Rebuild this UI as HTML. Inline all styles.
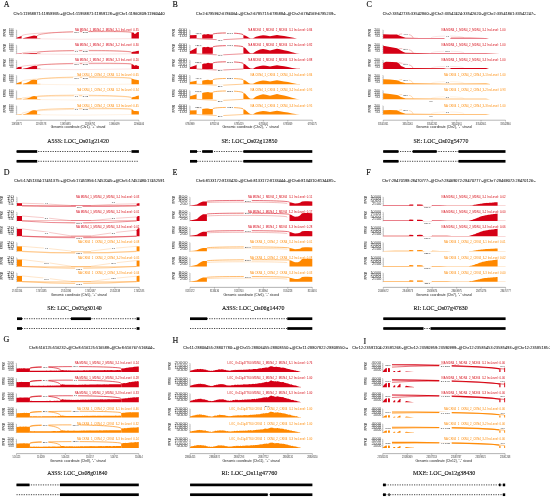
<!DOCTYPE html><html><head><meta charset="utf-8"><style>html,body{margin:0;padding:0;background:#fff;}svg{display:block}</style></head><body>
<svg width="550" height="498" viewBox="0 0 550 498">
<defs><filter id="bl" filterUnits="userSpaceOnUse" x="0" y="0" width="550" height="498"><feGaussianBlur stdDeviation="0.35"/></filter></defs>
<rect width="550" height="498" fill="#fff"/>
<g filter="url(#bl)">
<text x="3.8" y="6.9" font-size="8" fill="#111" text-anchor="start" font-family="'Liberation Serif', 'Times New Roman', serif" stroke="#111" stroke-width="0.15">A</text>
<text x="13.6" y="14.9" font-size="3.7" fill="#222" text-anchor="start" font-family="'Liberation Sans', Arial, sans-serif" textLength="150.9" lengthAdjust="spacing" stroke="#222" stroke-width="0.08">Chr1:11958871:11958935:+@Chr1:11958871:11959128:+@Chr1:11960309:11960440</text>
<line x1="16.6" y1="30" x2="16.6" y2="38.6" stroke="#555" stroke-width="0.35"/>
<line x1="15.8" y1="38.6" x2="16.6" y2="38.6" stroke="#777" stroke-width="0.3"/>
<line x1="15.8" y1="36.45" x2="16.6" y2="36.45" stroke="#777" stroke-width="0.3"/>
<line x1="15.8" y1="34.3" x2="16.6" y2="34.3" stroke="#777" stroke-width="0.3"/>
<line x1="15.8" y1="32.15" x2="16.6" y2="32.15" stroke="#777" stroke-width="0.3"/>
<line x1="15.8" y1="30" x2="16.6" y2="30" stroke="#777" stroke-width="0.3"/>
<text x="0" y="0" font-size="2.6" font-weight="bold" fill="#333" text-anchor="middle" font-family="'Liberation Sans', Arial, sans-serif" transform="translate(6,32.7) rotate(-90)" textLength="7.6" lengthAdjust="spacingAndGlyphs">RPKM</text>
<text x="13.6" y="37.3" font-size="2.8" fill="#444" text-anchor="end" font-family="'Liberation Sans', Arial, sans-serif" textLength="3.91" lengthAdjust="spacingAndGlyphs">2000</text>
<text x="13.6" y="35.2" font-size="2.8" fill="#444" text-anchor="end" font-family="'Liberation Sans', Arial, sans-serif" textLength="4.6" lengthAdjust="spacingAndGlyphs">4000</text>
<text x="13.6" y="33.1" font-size="2.8" fill="#444" text-anchor="end" font-family="'Liberation Sans', Arial, sans-serif" textLength="4.6" lengthAdjust="spacingAndGlyphs">6000</text>
<text x="13.6" y="31" font-size="2.8" fill="#444" text-anchor="end" font-family="'Liberation Sans', Arial, sans-serif" textLength="4.6" lengthAdjust="spacingAndGlyphs">8000</text>
<path d="M16.6,38.6 L16.6,37.8 L21.6,36 L21.6,38.6 Z" fill="#D50012"/>
<path d="M23,38.6 L23,38.2 L26,37.6 L29,36.8 L32,36 L34,35.5 L35.5,35.7 L37.1,36.1 L37.1,38.6 Z" fill="#D50012"/>
<path d="M37.1,38.6 L37.1,38.35 L40.5,38.35 L40.5,38.6 Z" fill="#D50012"/>
<path d="M131.5,38.6 L131.5,32.4 L133.5,32.6 L134.5,34 L136,33.4 L137,32.2 L138.9,32 L138.9,38.6 Z" fill="#D50012"/>
<path d="M21.6,36 C21.6,31.2 131.5,31.2 131.5,32.4" fill="none" stroke="#D50012" stroke-width="0.4" stroke-opacity="0.5"/>
<path d="M37.1,36.1 C37.1,30.5 131.5,30.5 131.5,32.4" fill="none" stroke="#D50012" stroke-width="0.6" stroke-opacity="0.6"/>
<path d="M21.6,38.6 Q76.55,40 131.5,38.6" fill="none" stroke="#D50012" stroke-width="0.4" stroke-opacity="0.28"/>
<rect x="73.2" y="31" width="6.6" height="2.4" fill="#fff"/>
<text x="76.5" y="33.05" font-size="2.4" fill="#222" text-anchor="middle" font-family="'Liberation Sans', Arial, sans-serif">27.0</text>
<rect x="82.2" y="31" width="6.6" height="2.4" fill="#fff"/>
<text x="85.5" y="33.05" font-size="2.4" fill="#222" text-anchor="middle" font-family="'Liberation Sans', Arial, sans-serif">3017</text>
<text x="138.9" y="30.7" font-size="2.75" fill="#D50012" text-anchor="end" font-family="'Liberation Sans', Arial, sans-serif" textLength="63.9" lengthAdjust="spacing">NA MDN4_1_MDN4_2_MDN4_3-1 IncLevel: 0.35</text>
<line x1="16.6" y1="45.18" x2="16.6" y2="53.78" stroke="#555" stroke-width="0.35"/>
<line x1="15.8" y1="53.78" x2="16.6" y2="53.78" stroke="#777" stroke-width="0.3"/>
<line x1="15.8" y1="51.63" x2="16.6" y2="51.63" stroke="#777" stroke-width="0.3"/>
<line x1="15.8" y1="49.48" x2="16.6" y2="49.48" stroke="#777" stroke-width="0.3"/>
<line x1="15.8" y1="47.33" x2="16.6" y2="47.33" stroke="#777" stroke-width="0.3"/>
<line x1="15.8" y1="45.18" x2="16.6" y2="45.18" stroke="#777" stroke-width="0.3"/>
<text x="0" y="0" font-size="2.6" font-weight="bold" fill="#333" text-anchor="middle" font-family="'Liberation Sans', Arial, sans-serif" transform="translate(6,47.88) rotate(-90)" textLength="7.6" lengthAdjust="spacingAndGlyphs">RPKM</text>
<text x="13.6" y="52.48" font-size="2.8" fill="#444" text-anchor="end" font-family="'Liberation Sans', Arial, sans-serif" textLength="3.91" lengthAdjust="spacingAndGlyphs">2000</text>
<text x="13.6" y="50.38" font-size="2.8" fill="#444" text-anchor="end" font-family="'Liberation Sans', Arial, sans-serif" textLength="4.6" lengthAdjust="spacingAndGlyphs">4000</text>
<text x="13.6" y="48.28" font-size="2.8" fill="#444" text-anchor="end" font-family="'Liberation Sans', Arial, sans-serif" textLength="4.6" lengthAdjust="spacingAndGlyphs">6000</text>
<text x="13.6" y="46.18" font-size="2.8" fill="#444" text-anchor="end" font-family="'Liberation Sans', Arial, sans-serif" textLength="4.6" lengthAdjust="spacingAndGlyphs">8000</text>
<path d="M16.6,53.78 L16.6,53.38 L21.6,53.28 L21.6,53.78 Z" fill="#D50012"/>
<path d="M23,53.78 L23,53.48 L28,53.28 L31,52.98 L37.1,52.88 L37.1,53.78 Z" fill="#D50012"/>
<path d="M37.1,53.78 L37.1,53.53 L40.5,53.53 L40.5,53.78 Z" fill="#D50012"/>
<path d="M131.5,53.78 L131.5,52.28 L133,51.78 L135,51.48 L137,50.98 L138.9,50.78 L138.9,53.78 Z" fill="#D50012"/>
<path d="M21.6,53.28 C21.6,50.38 131.5,50.38 131.5,52.28" fill="none" stroke="#D50012" stroke-width="0.4" stroke-opacity="0.5"/>
<path d="M37.1,52.88 C37.1,49.68 131.5,49.68 131.5,52.28" fill="none" stroke="#D50012" stroke-width="0.6" stroke-opacity="0.6"/>
<path d="M21.6,53.78 Q76.55,55.18 131.5,53.78" fill="none" stroke="#D50012" stroke-width="0.4" stroke-opacity="0.28"/>
<rect x="73.92" y="50.18" width="5.15" height="2.4" fill="#fff"/>
<text x="76.5" y="52.23" font-size="2.4" fill="#222" text-anchor="middle" font-family="'Liberation Sans', Arial, sans-serif">8.0</text>
<rect x="82.2" y="50.18" width="6.6" height="2.4" fill="#fff"/>
<text x="85.5" y="52.23" font-size="2.4" fill="#222" text-anchor="middle" font-family="'Liberation Sans', Arial, sans-serif">3024</text>
<text x="138.9" y="45.88" font-size="2.75" fill="#D50012" text-anchor="end" font-family="'Liberation Sans', Arial, sans-serif" textLength="63.9" lengthAdjust="spacing">NA MDN4_1_MDN4_2_MDN4_3-2 IncLevel: 0.30</text>
<line x1="16.6" y1="60.36" x2="16.6" y2="68.96" stroke="#555" stroke-width="0.35"/>
<line x1="15.8" y1="68.96" x2="16.6" y2="68.96" stroke="#777" stroke-width="0.3"/>
<line x1="15.8" y1="66.81" x2="16.6" y2="66.81" stroke="#777" stroke-width="0.3"/>
<line x1="15.8" y1="64.66" x2="16.6" y2="64.66" stroke="#777" stroke-width="0.3"/>
<line x1="15.8" y1="62.51" x2="16.6" y2="62.51" stroke="#777" stroke-width="0.3"/>
<line x1="15.8" y1="60.36" x2="16.6" y2="60.36" stroke="#777" stroke-width="0.3"/>
<text x="0" y="0" font-size="2.6" font-weight="bold" fill="#333" text-anchor="middle" font-family="'Liberation Sans', Arial, sans-serif" transform="translate(6,63.06) rotate(-90)" textLength="7.6" lengthAdjust="spacingAndGlyphs">RPKM</text>
<text x="13.6" y="67.66" font-size="2.8" fill="#444" text-anchor="end" font-family="'Liberation Sans', Arial, sans-serif" textLength="3.91" lengthAdjust="spacingAndGlyphs">2000</text>
<text x="13.6" y="65.56" font-size="2.8" fill="#444" text-anchor="end" font-family="'Liberation Sans', Arial, sans-serif" textLength="4.6" lengthAdjust="spacingAndGlyphs">4000</text>
<text x="13.6" y="63.46" font-size="2.8" fill="#444" text-anchor="end" font-family="'Liberation Sans', Arial, sans-serif" textLength="4.6" lengthAdjust="spacingAndGlyphs">6000</text>
<text x="13.6" y="61.36" font-size="2.8" fill="#444" text-anchor="end" font-family="'Liberation Sans', Arial, sans-serif" textLength="4.6" lengthAdjust="spacingAndGlyphs">8000</text>
<path d="M16.6,68.96 L16.6,67.96 L18.5,66.96 L21.6,66.76 L21.6,68.96 Z" fill="#D50012"/>
<path d="M23,68.96 L23,68.66 L27,67.96 L30,66.96 L33,65.96 L35,65.76 L37.1,65.96 L37.1,68.96 Z" fill="#D50012"/>
<path d="M37.1,68.96 L37.1,68.71 L40.5,68.71 L40.5,68.96 Z" fill="#D50012"/>
<path d="M131.5,68.96 L131.5,64.06 L133,64.46 L134.5,65.76 L136,64.96 L137.5,65.76 L138.9,65.96 L138.9,68.96 Z" fill="#D50012"/>
<path d="M21.6,66.76 C21.6,63.36 131.5,63.36 131.5,64.06" fill="none" stroke="#D50012" stroke-width="0.4" stroke-opacity="0.5"/>
<path d="M37.1,65.96 C37.1,62.66 131.5,62.66 131.5,64.06" fill="none" stroke="#D50012" stroke-width="0.6" stroke-opacity="0.6"/>
<path d="M21.6,68.96 Q76.55,70.36 131.5,68.96" fill="none" stroke="#D50012" stroke-width="0.4" stroke-opacity="0.28"/>
<rect x="73.2" y="63.16" width="6.6" height="2.4" fill="#fff"/>
<text x="76.5" y="65.21" font-size="2.4" fill="#222" text-anchor="middle" font-family="'Liberation Sans', Arial, sans-serif">15.0</text>
<rect x="82.2" y="63.16" width="6.6" height="2.4" fill="#fff"/>
<text x="85.5" y="65.21" font-size="2.4" fill="#222" text-anchor="middle" font-family="'Liberation Sans', Arial, sans-serif">3770</text>
<text x="138.9" y="61.06" font-size="2.75" fill="#D50012" text-anchor="end" font-family="'Liberation Sans', Arial, sans-serif" textLength="63.9" lengthAdjust="spacing">NA MDN4_1_MDN4_2_MDN4_3-3 IncLevel: 0.20</text>
<line x1="16.6" y1="75.54" x2="16.6" y2="84.14" stroke="#555" stroke-width="0.35"/>
<line x1="15.8" y1="84.14" x2="16.6" y2="84.14" stroke="#777" stroke-width="0.3"/>
<line x1="15.8" y1="81.99" x2="16.6" y2="81.99" stroke="#777" stroke-width="0.3"/>
<line x1="15.8" y1="79.84" x2="16.6" y2="79.84" stroke="#777" stroke-width="0.3"/>
<line x1="15.8" y1="77.69" x2="16.6" y2="77.69" stroke="#777" stroke-width="0.3"/>
<line x1="15.8" y1="75.54" x2="16.6" y2="75.54" stroke="#777" stroke-width="0.3"/>
<text x="0" y="0" font-size="2.6" font-weight="bold" fill="#333" text-anchor="middle" font-family="'Liberation Sans', Arial, sans-serif" transform="translate(6,78.24) rotate(-90)" textLength="7.6" lengthAdjust="spacingAndGlyphs">RPKM</text>
<text x="13.6" y="82.84" font-size="2.8" fill="#444" text-anchor="end" font-family="'Liberation Sans', Arial, sans-serif" textLength="3.91" lengthAdjust="spacingAndGlyphs">2000</text>
<text x="13.6" y="80.74" font-size="2.8" fill="#444" text-anchor="end" font-family="'Liberation Sans', Arial, sans-serif" textLength="4.6" lengthAdjust="spacingAndGlyphs">4000</text>
<text x="13.6" y="78.64" font-size="2.8" fill="#444" text-anchor="end" font-family="'Liberation Sans', Arial, sans-serif" textLength="4.6" lengthAdjust="spacingAndGlyphs">6000</text>
<text x="13.6" y="76.54" font-size="2.8" fill="#444" text-anchor="end" font-family="'Liberation Sans', Arial, sans-serif" textLength="4.6" lengthAdjust="spacingAndGlyphs">8000</text>
<path d="M16.6,84.14 L16.6,83.14 L21.6,81.54 L21.6,84.14 Z" fill="#FF8800"/>
<path d="M23,84.14 L23,83.74 L26,82.94 L29,81.64 L31,80.34 L33,79.84 L35,79.84 L37.1,79.94 L37.1,84.14 Z" fill="#FF8800"/>
<path d="M37.1,84.14 L37.1,83.89 L40.5,83.89 L40.5,84.14 Z" fill="#FF8800"/>
<path d="M131.5,84.14 L131.5,78.54 L133,78.94 L134.5,79.54 L136,79.84 L138.9,80.34 L138.9,84.14 Z" fill="#FF8800"/>
<path d="M21.6,81.54 C21.6,76.94 131.5,76.94 131.5,78.54" fill="none" stroke="#FF8800" stroke-width="0.4" stroke-opacity="0.5"/>
<path d="M37.1,79.94 C37.1,76.24 131.5,76.24 131.5,78.54" fill="none" stroke="#FF8800" stroke-width="0.6" stroke-opacity="0.6"/>
<path d="M21.6,84.14 Q76.55,85.54 131.5,84.14" fill="none" stroke="#FF8800" stroke-width="0.4" stroke-opacity="0.28"/>
<rect x="73.2" y="76.74" width="6.6" height="2.4" fill="#fff"/>
<text x="76.5" y="78.79" font-size="2.4" fill="#222" text-anchor="middle" font-family="'Liberation Sans', Arial, sans-serif">15.0</text>
<rect x="82.2" y="76.74" width="6.6" height="2.4" fill="#fff"/>
<text x="85.5" y="78.79" font-size="2.4" fill="#222" text-anchor="middle" font-family="'Liberation Sans', Arial, sans-serif">3770</text>
<text x="138.9" y="76.24" font-size="2.75" fill="#FF8800" text-anchor="end" font-family="'Liberation Sans', Arial, sans-serif" textLength="61.7" lengthAdjust="spacing">NA CKN4_1_CKN4_2_CKN4_3-1 IncLevel: 0.65</text>
<line x1="16.6" y1="90.72" x2="16.6" y2="99.32" stroke="#555" stroke-width="0.35"/>
<line x1="15.8" y1="99.32" x2="16.6" y2="99.32" stroke="#777" stroke-width="0.3"/>
<line x1="15.8" y1="97.17" x2="16.6" y2="97.17" stroke="#777" stroke-width="0.3"/>
<line x1="15.8" y1="95.02" x2="16.6" y2="95.02" stroke="#777" stroke-width="0.3"/>
<line x1="15.8" y1="92.87" x2="16.6" y2="92.87" stroke="#777" stroke-width="0.3"/>
<line x1="15.8" y1="90.72" x2="16.6" y2="90.72" stroke="#777" stroke-width="0.3"/>
<text x="0" y="0" font-size="2.6" font-weight="bold" fill="#333" text-anchor="middle" font-family="'Liberation Sans', Arial, sans-serif" transform="translate(6,93.42) rotate(-90)" textLength="7.6" lengthAdjust="spacingAndGlyphs">RPKM</text>
<text x="13.6" y="98.02" font-size="2.8" fill="#444" text-anchor="end" font-family="'Liberation Sans', Arial, sans-serif" textLength="3.91" lengthAdjust="spacingAndGlyphs">2000</text>
<text x="13.6" y="95.92" font-size="2.8" fill="#444" text-anchor="end" font-family="'Liberation Sans', Arial, sans-serif" textLength="4.6" lengthAdjust="spacingAndGlyphs">4000</text>
<text x="13.6" y="93.82" font-size="2.8" fill="#444" text-anchor="end" font-family="'Liberation Sans', Arial, sans-serif" textLength="4.6" lengthAdjust="spacingAndGlyphs">6000</text>
<text x="13.6" y="91.72" font-size="2.8" fill="#444" text-anchor="end" font-family="'Liberation Sans', Arial, sans-serif" textLength="4.6" lengthAdjust="spacingAndGlyphs">8000</text>
<path d="M16.6,99.32 L16.6,98.72 L21.6,98.42 L21.6,99.32 Z" fill="#FF8800"/>
<path d="M23,99.32 L23,99.02 L27,98.52 L30,97.52 L32,96.52 L34,96.12 L37.1,96.52 L37.1,99.32 Z" fill="#FF8800"/>
<path d="M37.1,99.32 L37.1,99.07 L40.5,99.07 L40.5,99.32 Z" fill="#FF8800"/>
<path d="M131.5,99.32 L131.5,97.72 L133,97.12 L135,96.72 L136.5,95.92 L138.9,95.52 L138.9,99.32 Z" fill="#FF8800"/>
<path d="M21.6,98.42 C21.6,95.32 131.5,95.32 131.5,97.72" fill="none" stroke="#FF8800" stroke-width="0.4" stroke-opacity="0.5"/>
<path d="M37.1,96.52 C37.1,94.62 131.5,94.62 131.5,97.72" fill="none" stroke="#FF8800" stroke-width="0.6" stroke-opacity="0.6"/>
<path d="M21.6,99.32 Q76.55,100.72 131.5,99.32" fill="none" stroke="#FF8800" stroke-width="0.4" stroke-opacity="0.28"/>
<rect x="73.92" y="95.12" width="5.15" height="2.4" fill="#fff"/>
<text x="76.5" y="97.17" font-size="2.4" fill="#222" text-anchor="middle" font-family="'Liberation Sans', Arial, sans-serif">7.0</text>
<rect x="82.2" y="95.12" width="6.6" height="2.4" fill="#fff"/>
<text x="85.5" y="97.17" font-size="2.4" fill="#222" text-anchor="middle" font-family="'Liberation Sans', Arial, sans-serif">5443</text>
<text x="138.9" y="91.42" font-size="2.75" fill="#FF8800" text-anchor="end" font-family="'Liberation Sans', Arial, sans-serif" textLength="61.7" lengthAdjust="spacing">NA CKN4_1_CKN4_2_CKN4_3-2 IncLevel: 0.34</text>
<line x1="16.6" y1="105.9" x2="16.6" y2="114.5" stroke="#555" stroke-width="0.35"/>
<line x1="15.8" y1="114.5" x2="16.6" y2="114.5" stroke="#777" stroke-width="0.3"/>
<line x1="15.8" y1="112.35" x2="16.6" y2="112.35" stroke="#777" stroke-width="0.3"/>
<line x1="15.8" y1="110.2" x2="16.6" y2="110.2" stroke="#777" stroke-width="0.3"/>
<line x1="15.8" y1="108.05" x2="16.6" y2="108.05" stroke="#777" stroke-width="0.3"/>
<line x1="15.8" y1="105.9" x2="16.6" y2="105.9" stroke="#777" stroke-width="0.3"/>
<text x="0" y="0" font-size="2.6" font-weight="bold" fill="#333" text-anchor="middle" font-family="'Liberation Sans', Arial, sans-serif" transform="translate(6,108.6) rotate(-90)" textLength="7.6" lengthAdjust="spacingAndGlyphs">RPKM</text>
<text x="13.6" y="113.2" font-size="2.8" fill="#444" text-anchor="end" font-family="'Liberation Sans', Arial, sans-serif" textLength="3.91" lengthAdjust="spacingAndGlyphs">2000</text>
<text x="13.6" y="111.1" font-size="2.8" fill="#444" text-anchor="end" font-family="'Liberation Sans', Arial, sans-serif" textLength="4.6" lengthAdjust="spacingAndGlyphs">4000</text>
<text x="13.6" y="109" font-size="2.8" fill="#444" text-anchor="end" font-family="'Liberation Sans', Arial, sans-serif" textLength="4.6" lengthAdjust="spacingAndGlyphs">6000</text>
<text x="13.6" y="106.9" font-size="2.8" fill="#444" text-anchor="end" font-family="'Liberation Sans', Arial, sans-serif" textLength="4.6" lengthAdjust="spacingAndGlyphs">8000</text>
<path d="M16.6,114.5 L16.6,114.2 L21.6,113.9 L21.6,114.5 Z" fill="#FF8800"/>
<path d="M23,114.5 L23,114.2 L26,113.7 L29,112.5 L31,111 L33,110.2 L35,110.3 L37.1,110.7 L37.1,114.5 Z" fill="#FF8800"/>
<path d="M37.1,114.5 L37.1,114.25 L40.5,114.25 L40.5,114.5 Z" fill="#FF8800"/>
<path d="M131.5,114.5 L131.5,109.3 L132.5,109.5 L134,110.9 L136,111.1 L138.9,111.3 L138.9,114.5 Z" fill="#FF8800"/>
<path d="M21.6,113.9 C21.6,108.5 131.5,108.5 131.5,109.3" fill="none" stroke="#FF8800" stroke-width="0.4" stroke-opacity="0.5"/>
<path d="M37.1,110.7 C37.1,107.8 131.5,107.8 131.5,109.3" fill="none" stroke="#FF8800" stroke-width="0.6" stroke-opacity="0.6"/>
<path d="M21.6,114.5 Q76.55,115.9 131.5,114.5" fill="none" stroke="#FF8800" stroke-width="0.4" stroke-opacity="0.28"/>
<rect x="73.92" y="108.3" width="5.15" height="2.4" fill="#fff"/>
<text x="76.5" y="110.35" font-size="2.4" fill="#222" text-anchor="middle" font-family="'Liberation Sans', Arial, sans-serif">8.0</text>
<rect x="82.2" y="108.3" width="6.6" height="2.4" fill="#fff"/>
<text x="85.5" y="110.35" font-size="2.4" fill="#222" text-anchor="middle" font-family="'Liberation Sans', Arial, sans-serif">3770</text>
<text x="138.9" y="106.6" font-size="2.75" fill="#FF8800" text-anchor="end" font-family="'Liberation Sans', Arial, sans-serif" textLength="61.7" lengthAdjust="spacing">NA CKN4_1_CKN4_2_CKN4_3-3 IncLevel: 0.45</text>
<line x1="16.6" y1="120.2" x2="138.9" y2="120.2" stroke="#444" stroke-width="0.4"/>
<line x1="16.6" y1="120.2" x2="16.6" y2="121.5" stroke="#444" stroke-width="0.35"/>
<text x="16.6" y="124.5" font-size="2.6" fill="#333" text-anchor="middle" font-family="'Liberation Sans', Arial, sans-serif" textLength="10.4" lengthAdjust="spacingAndGlyphs">11958871</text>
<line x1="41.06" y1="120.2" x2="41.06" y2="121.5" stroke="#444" stroke-width="0.35"/>
<text x="41.06" y="124.5" font-size="2.6" fill="#333" text-anchor="middle" font-family="'Liberation Sans', Arial, sans-serif" textLength="10.4" lengthAdjust="spacingAndGlyphs">11959178</text>
<line x1="65.52" y1="120.2" x2="65.52" y2="121.5" stroke="#444" stroke-width="0.35"/>
<text x="65.52" y="124.5" font-size="2.6" fill="#333" text-anchor="middle" font-family="'Liberation Sans', Arial, sans-serif" textLength="10.4" lengthAdjust="spacingAndGlyphs">11959485</text>
<line x1="89.98" y1="120.2" x2="89.98" y2="121.5" stroke="#444" stroke-width="0.35"/>
<text x="89.98" y="124.5" font-size="2.6" fill="#333" text-anchor="middle" font-family="'Liberation Sans', Arial, sans-serif" textLength="10.4" lengthAdjust="spacingAndGlyphs">11959792</text>
<line x1="114.44" y1="120.2" x2="114.44" y2="121.5" stroke="#444" stroke-width="0.35"/>
<text x="114.44" y="124.5" font-size="2.6" fill="#333" text-anchor="middle" font-family="'Liberation Sans', Arial, sans-serif" textLength="10.4" lengthAdjust="spacingAndGlyphs">11960099</text>
<line x1="138.9" y1="120.2" x2="138.9" y2="121.5" stroke="#444" stroke-width="0.35"/>
<text x="138.9" y="124.5" font-size="2.6" fill="#333" text-anchor="middle" font-family="'Liberation Sans', Arial, sans-serif" textLength="10.4" lengthAdjust="spacingAndGlyphs">11960406</text>
<text x="50.7" y="128.3" font-size="3" fill="#222" text-anchor="start" font-family="'Liberation Sans', Arial, sans-serif" textLength="54.7" lengthAdjust="spacingAndGlyphs">Genomic coordinate (Chr1), &quot;+&quot; strand</text>
<text x="47.2" y="143" font-size="6.1" fill="#111" text-anchor="start" font-family="'Liberation Serif', 'Times New Roman', serif" textLength="61.7" lengthAdjust="spacingAndGlyphs" stroke="#000" stroke-width="0.1">A5SS: LOC_Os01g21420</text>
<line x1="16.6" y1="151.5" x2="138.9" y2="151.5" stroke="#333" stroke-width="0.9" stroke-dasharray="1.2 1.2"/>
<rect x="16.6" y="150.15" width="20.6" height="2.7" fill="#000"/>
<rect x="131.5" y="150.15" width="7.4" height="2.7" fill="#000"/>
<line x1="16.6" y1="161.3" x2="138.9" y2="161.3" stroke="#333" stroke-width="0.9" stroke-dasharray="1.2 1.2"/>
<rect x="16.6" y="159.95" width="20.6" height="2.7" fill="#000"/>
<text x="172.6" y="6.5" font-size="8" fill="#111" text-anchor="start" font-family="'Liberation Serif', 'Times New Roman', serif" stroke="#111" stroke-width="0.15">B</text>
<text x="196.1" y="14.9" font-size="3.7" fill="#222" text-anchor="start" font-family="'Liberation Sans', Arial, sans-serif" textLength="139.4" lengthAdjust="spacing" stroke="#222" stroke-width="0.08">Chr2:6785962:6786064:-@Chr2:6785715:6785884:-@Chr2:6784169:6785239:-</text>
<line x1="190" y1="30" x2="190" y2="38.6" stroke="#555" stroke-width="0.35"/>
<line x1="189.2" y1="38.6" x2="190" y2="38.6" stroke="#777" stroke-width="0.3"/>
<line x1="189.2" y1="36.45" x2="190" y2="36.45" stroke="#777" stroke-width="0.3"/>
<line x1="189.2" y1="34.3" x2="190" y2="34.3" stroke="#777" stroke-width="0.3"/>
<line x1="189.2" y1="32.15" x2="190" y2="32.15" stroke="#777" stroke-width="0.3"/>
<line x1="189.2" y1="30" x2="190" y2="30" stroke="#777" stroke-width="0.3"/>
<text x="0" y="0" font-size="2.6" font-weight="bold" fill="#333" text-anchor="middle" font-family="'Liberation Sans', Arial, sans-serif" transform="translate(174.8,32.7) rotate(-90)" textLength="7.6" lengthAdjust="spacingAndGlyphs">RPKM</text>
<text x="187" y="37.3" font-size="2.8" fill="#444" text-anchor="end" font-family="'Liberation Sans', Arial, sans-serif" textLength="7.65" lengthAdjust="spacingAndGlyphs">100</text>
<text x="187" y="35.2" font-size="2.8" fill="#444" text-anchor="end" font-family="'Liberation Sans', Arial, sans-serif" textLength="9" lengthAdjust="spacingAndGlyphs">200</text>
<text x="187" y="33.1" font-size="2.8" fill="#444" text-anchor="end" font-family="'Liberation Sans', Arial, sans-serif" textLength="9" lengthAdjust="spacingAndGlyphs">300</text>
<text x="187" y="31" font-size="2.8" fill="#444" text-anchor="end" font-family="'Liberation Sans', Arial, sans-serif" textLength="9" lengthAdjust="spacingAndGlyphs">400</text>
<path d="M190,38.6 L190,35.2 L196.6,35 L196.6,38.6 Z" fill="#D50012"/>
<path d="M202.2,38.6 L202.2,35.1 L204,34.2 L206,34.4 L208,34 L210,34.6 L212.8,34.4 L212.8,38.6 Z" fill="#D50012"/>
<path d="M243.4,38.6 L243.4,35.1 L245,35.4 L247,36.6 L249,37.8 L250.5,38.3 L253,38.3 L256,36.8 L260,35.7 L263,35.3 L266,35.6 L270,36.3 L274,35.6 L277,35.1 L280,35.5 L284,36.1 L288,36.7 L292,37.6 L297,38.4 L300,38.5 L300,38.6 Z" fill="#D50012"/>
<path d="M196.6,35 C196.6,33.5 202.2,33.5 202.2,35.1" fill="none" stroke="#D50012" stroke-width="0.3" stroke-opacity="0.4"/>
<path d="M212.8,34.4 C212.8,32.4 243.4,32.4 243.4,35.1" fill="none" stroke="#D50012" stroke-width="0.7" stroke-opacity="0.9"/>
<path d="M196.6,38.6 Q220,41 243.4,38.6" fill="none" stroke="#D50012" stroke-width="0.65" stroke-opacity="0.65"/>
<rect x="194.28" y="31.6" width="8.05" height="2.4" fill="#fff"/>
<text x="198.3" y="33.65" font-size="2.4" fill="#222" text-anchor="middle" font-family="'Liberation Sans', Arial, sans-serif">480.0</text>
<rect x="225.97" y="31.69" width="8.05" height="2.4" fill="#fff"/>
<text x="230" y="33.74" font-size="2.4" fill="#222" text-anchor="middle" font-family="'Liberation Sans', Arial, sans-serif">367.0</text>
<rect x="216.7" y="39" width="6.6" height="2.4" fill="#fff"/>
<text x="220" y="41.05" font-size="2.4" fill="#222" text-anchor="middle" font-family="'Liberation Sans', Arial, sans-serif">95.0</text>
<text x="312.3" y="30.7" font-size="2.75" fill="#D50012" text-anchor="end" font-family="'Liberation Sans', Arial, sans-serif" textLength="64" lengthAdjust="spacing">NA MDN4_1_MDN4_2_MDN4_3-1 IncLevel: 0.84</text>
<line x1="190" y1="45.18" x2="190" y2="53.78" stroke="#555" stroke-width="0.35"/>
<line x1="189.2" y1="53.78" x2="190" y2="53.78" stroke="#777" stroke-width="0.3"/>
<line x1="189.2" y1="51.63" x2="190" y2="51.63" stroke="#777" stroke-width="0.3"/>
<line x1="189.2" y1="49.48" x2="190" y2="49.48" stroke="#777" stroke-width="0.3"/>
<line x1="189.2" y1="47.33" x2="190" y2="47.33" stroke="#777" stroke-width="0.3"/>
<line x1="189.2" y1="45.18" x2="190" y2="45.18" stroke="#777" stroke-width="0.3"/>
<text x="0" y="0" font-size="2.6" font-weight="bold" fill="#333" text-anchor="middle" font-family="'Liberation Sans', Arial, sans-serif" transform="translate(174.8,47.88) rotate(-90)" textLength="7.6" lengthAdjust="spacingAndGlyphs">RPKM</text>
<text x="187" y="52.48" font-size="2.8" fill="#444" text-anchor="end" font-family="'Liberation Sans', Arial, sans-serif" textLength="7.65" lengthAdjust="spacingAndGlyphs">100</text>
<text x="187" y="50.38" font-size="2.8" fill="#444" text-anchor="end" font-family="'Liberation Sans', Arial, sans-serif" textLength="9" lengthAdjust="spacingAndGlyphs">200</text>
<text x="187" y="48.28" font-size="2.8" fill="#444" text-anchor="end" font-family="'Liberation Sans', Arial, sans-serif" textLength="9" lengthAdjust="spacingAndGlyphs">300</text>
<text x="187" y="46.18" font-size="2.8" fill="#444" text-anchor="end" font-family="'Liberation Sans', Arial, sans-serif" textLength="9" lengthAdjust="spacingAndGlyphs">400</text>
<path d="M190,53.78 L190,51.28 L196.6,47.68 L196.6,53.78 Z" fill="#D50012"/>
<path d="M202.2,53.78 L202.2,47.48 L204,46.98 L206,47.28 L208,46.68 L210,47.38 L212.8,47.18 L212.8,53.78 Z" fill="#D50012"/>
<path d="M243.4,53.78 L243.4,47.13 L245,47.7 L247,49.98 L249,52.26 L250.5,53.21 L253,53.34 L256,51.17 L260,49.58 L263,49 L266,49.43 L270,50.45 L274,49.43 L277,48.7 L280,49.29 L284,50.16 L288,51.02 L292,52.33 L297,53.49 L300,53.63 L300,53.78 Z" fill="#D50012"/>
<path d="M196.6,47.68 C196.6,45.98 202.2,45.98 202.2,47.48" fill="none" stroke="#D50012" stroke-width="0.3" stroke-opacity="0.4"/>
<path d="M212.8,47.18 C212.8,45.13 243.4,45.13 243.4,47.13" fill="none" stroke="#D50012" stroke-width="0.7" stroke-opacity="0.9"/>
<path d="M196.6,53.78 Q220,56.18 243.4,53.78" fill="none" stroke="#D50012" stroke-width="0.65" stroke-opacity="0.65"/>
<rect x="194.28" y="44.08" width="8.05" height="2.4" fill="#fff"/>
<text x="198.3" y="46.13" font-size="2.4" fill="#222" text-anchor="middle" font-family="'Liberation Sans', Arial, sans-serif">727.0</text>
<rect x="225.97" y="44.34" width="8.05" height="2.4" fill="#fff"/>
<text x="230" y="46.39" font-size="2.4" fill="#222" text-anchor="middle" font-family="'Liberation Sans', Arial, sans-serif">981.0</text>
<rect x="216.7" y="54.18" width="6.6" height="2.4" fill="#fff"/>
<text x="220" y="56.23" font-size="2.4" fill="#222" text-anchor="middle" font-family="'Liberation Sans', Arial, sans-serif">98.0</text>
<text x="312.3" y="45.88" font-size="2.75" fill="#D50012" text-anchor="end" font-family="'Liberation Sans', Arial, sans-serif" textLength="64" lengthAdjust="spacing">NA MDN4_1_MDN4_2_MDN4_3-2 IncLevel: 0.82</text>
<line x1="190" y1="60.36" x2="190" y2="68.96" stroke="#555" stroke-width="0.35"/>
<line x1="189.2" y1="68.96" x2="190" y2="68.96" stroke="#777" stroke-width="0.3"/>
<line x1="189.2" y1="66.81" x2="190" y2="66.81" stroke="#777" stroke-width="0.3"/>
<line x1="189.2" y1="64.66" x2="190" y2="64.66" stroke="#777" stroke-width="0.3"/>
<line x1="189.2" y1="62.51" x2="190" y2="62.51" stroke="#777" stroke-width="0.3"/>
<line x1="189.2" y1="60.36" x2="190" y2="60.36" stroke="#777" stroke-width="0.3"/>
<text x="0" y="0" font-size="2.6" font-weight="bold" fill="#333" text-anchor="middle" font-family="'Liberation Sans', Arial, sans-serif" transform="translate(174.8,63.06) rotate(-90)" textLength="7.6" lengthAdjust="spacingAndGlyphs">RPKM</text>
<text x="187" y="67.66" font-size="2.8" fill="#444" text-anchor="end" font-family="'Liberation Sans', Arial, sans-serif" textLength="7.65" lengthAdjust="spacingAndGlyphs">100</text>
<text x="187" y="65.56" font-size="2.8" fill="#444" text-anchor="end" font-family="'Liberation Sans', Arial, sans-serif" textLength="9" lengthAdjust="spacingAndGlyphs">200</text>
<text x="187" y="63.46" font-size="2.8" fill="#444" text-anchor="end" font-family="'Liberation Sans', Arial, sans-serif" textLength="9" lengthAdjust="spacingAndGlyphs">300</text>
<text x="187" y="61.36" font-size="2.8" fill="#444" text-anchor="end" font-family="'Liberation Sans', Arial, sans-serif" textLength="9" lengthAdjust="spacingAndGlyphs">400</text>
<path d="M190,68.96 L190,67.16 L196.6,64.96 L196.6,68.96 Z" fill="#D50012"/>
<path d="M202.2,68.96 L202.2,64.36 L204,63.46 L206,63.56 L208,62.76 L210,63.36 L212.8,63.26 L212.8,68.96 Z" fill="#D50012"/>
<path d="M243.4,68.96 L243.4,63.71 L245,64.16 L247,65.96 L249,67.76 L250.5,68.51 L253,68.65 L256,67.07 L260,65.92 L263,65.5 L266,65.81 L270,66.55 L274,65.81 L277,65.29 L280,65.71 L284,66.34 L288,66.97 L292,67.91 L297,68.75 L300,68.86 L300,68.96 Z" fill="#D50012"/>
<path d="M196.6,64.96 C196.6,62.86 202.2,62.86 202.2,64.36" fill="none" stroke="#D50012" stroke-width="0.3" stroke-opacity="0.4"/>
<path d="M212.8,63.26 C212.8,61.26 243.4,61.26 243.4,63.71" fill="none" stroke="#D50012" stroke-width="0.7" stroke-opacity="0.9"/>
<path d="M196.6,68.96 Q220,71.36 243.4,68.96" fill="none" stroke="#D50012" stroke-width="0.65" stroke-opacity="0.65"/>
<rect x="194.28" y="60.96" width="8.05" height="2.4" fill="#fff"/>
<text x="198.3" y="63.01" font-size="2.4" fill="#222" text-anchor="middle" font-family="'Liberation Sans', Arial, sans-serif">553.0</text>
<rect x="225.97" y="60.52" width="8.05" height="2.4" fill="#fff"/>
<text x="230" y="62.57" font-size="2.4" fill="#222" text-anchor="middle" font-family="'Liberation Sans', Arial, sans-serif">317.0</text>
<rect x="216.7" y="69.36" width="6.6" height="2.4" fill="#fff"/>
<text x="220" y="71.41" font-size="2.4" fill="#222" text-anchor="middle" font-family="'Liberation Sans', Arial, sans-serif">33.0</text>
<text x="312.3" y="61.06" font-size="2.75" fill="#D50012" text-anchor="end" font-family="'Liberation Sans', Arial, sans-serif" textLength="64" lengthAdjust="spacing">NA MDN4_1_MDN4_2_MDN4_3-3 IncLevel: 0.88</text>
<line x1="190" y1="75.54" x2="190" y2="84.14" stroke="#555" stroke-width="0.35"/>
<line x1="189.2" y1="84.14" x2="190" y2="84.14" stroke="#777" stroke-width="0.3"/>
<line x1="189.2" y1="81.99" x2="190" y2="81.99" stroke="#777" stroke-width="0.3"/>
<line x1="189.2" y1="79.84" x2="190" y2="79.84" stroke="#777" stroke-width="0.3"/>
<line x1="189.2" y1="77.69" x2="190" y2="77.69" stroke="#777" stroke-width="0.3"/>
<line x1="189.2" y1="75.54" x2="190" y2="75.54" stroke="#777" stroke-width="0.3"/>
<text x="0" y="0" font-size="2.6" font-weight="bold" fill="#333" text-anchor="middle" font-family="'Liberation Sans', Arial, sans-serif" transform="translate(174.8,78.24) rotate(-90)" textLength="7.6" lengthAdjust="spacingAndGlyphs">RPKM</text>
<text x="187" y="82.84" font-size="2.8" fill="#444" text-anchor="end" font-family="'Liberation Sans', Arial, sans-serif" textLength="7.65" lengthAdjust="spacingAndGlyphs">100</text>
<text x="187" y="80.74" font-size="2.8" fill="#444" text-anchor="end" font-family="'Liberation Sans', Arial, sans-serif" textLength="9" lengthAdjust="spacingAndGlyphs">200</text>
<text x="187" y="78.64" font-size="2.8" fill="#444" text-anchor="end" font-family="'Liberation Sans', Arial, sans-serif" textLength="9" lengthAdjust="spacingAndGlyphs">300</text>
<text x="187" y="76.54" font-size="2.8" fill="#444" text-anchor="end" font-family="'Liberation Sans', Arial, sans-serif" textLength="9" lengthAdjust="spacingAndGlyphs">400</text>
<path d="M190,84.14 L190,81.94 L196.6,80.74 L196.6,84.14 Z" fill="#FF8800"/>
<path d="M202.2,84.14 L202.2,80.64 L204,80.24 L206,80.04 L208,79.84 L210,80.14 L212.8,80.04 L212.8,84.14 Z" fill="#FF8800"/>
<path d="M243.4,84.14 L243.4,79.94 L245,80.3 L247,81.74 L249,83.18 L250.5,83.78 L253,83.81 L256,82.16 L260,80.95 L263,80.51 L266,80.84 L270,81.61 L274,80.84 L277,80.29 L280,80.73 L284,81.39 L288,82.05 L292,83.04 L297,83.92 L300,84.03 L300,84.14 Z" fill="#FF8800"/>
<path d="M196.6,80.74 C196.6,79.14 202.2,79.14 202.2,80.64" fill="none" stroke="#FF8800" stroke-width="0.3" stroke-opacity="0.4"/>
<path d="M212.8,80.04 C212.8,77.94 243.4,77.94 243.4,79.94" fill="none" stroke="#FF8800" stroke-width="0.7" stroke-opacity="0.9"/>
<path d="M196.6,84.14 Q220,86.54 243.4,84.14" fill="none" stroke="#FF8800" stroke-width="0.65" stroke-opacity="0.65"/>
<rect x="194.28" y="77.24" width="8.05" height="2.4" fill="#fff"/>
<text x="198.3" y="79.29" font-size="2.4" fill="#222" text-anchor="middle" font-family="'Liberation Sans', Arial, sans-serif">474.0</text>
<rect x="225.97" y="77.15" width="8.05" height="2.4" fill="#fff"/>
<text x="230" y="79.2" font-size="2.4" fill="#222" text-anchor="middle" font-family="'Liberation Sans', Arial, sans-serif">283.0</text>
<rect x="216.7" y="84.54" width="6.6" height="2.4" fill="#fff"/>
<text x="220" y="86.59" font-size="2.4" fill="#222" text-anchor="middle" font-family="'Liberation Sans', Arial, sans-serif">25.0</text>
<text x="312.3" y="76.24" font-size="2.75" fill="#FF8800" text-anchor="end" font-family="'Liberation Sans', Arial, sans-serif" textLength="61.8" lengthAdjust="spacing">NA CKN4_1_CKN4_2_CKN4_3-1 IncLevel: 0.84</text>
<line x1="190" y1="90.72" x2="190" y2="99.32" stroke="#555" stroke-width="0.35"/>
<line x1="189.2" y1="99.32" x2="190" y2="99.32" stroke="#777" stroke-width="0.3"/>
<line x1="189.2" y1="97.17" x2="190" y2="97.17" stroke="#777" stroke-width="0.3"/>
<line x1="189.2" y1="95.02" x2="190" y2="95.02" stroke="#777" stroke-width="0.3"/>
<line x1="189.2" y1="92.87" x2="190" y2="92.87" stroke="#777" stroke-width="0.3"/>
<line x1="189.2" y1="90.72" x2="190" y2="90.72" stroke="#777" stroke-width="0.3"/>
<text x="0" y="0" font-size="2.6" font-weight="bold" fill="#333" text-anchor="middle" font-family="'Liberation Sans', Arial, sans-serif" transform="translate(174.8,93.42) rotate(-90)" textLength="7.6" lengthAdjust="spacingAndGlyphs">RPKM</text>
<text x="187" y="98.02" font-size="2.8" fill="#444" text-anchor="end" font-family="'Liberation Sans', Arial, sans-serif" textLength="7.65" lengthAdjust="spacingAndGlyphs">100</text>
<text x="187" y="95.92" font-size="2.8" fill="#444" text-anchor="end" font-family="'Liberation Sans', Arial, sans-serif" textLength="9" lengthAdjust="spacingAndGlyphs">200</text>
<text x="187" y="93.82" font-size="2.8" fill="#444" text-anchor="end" font-family="'Liberation Sans', Arial, sans-serif" textLength="9" lengthAdjust="spacingAndGlyphs">300</text>
<text x="187" y="91.72" font-size="2.8" fill="#444" text-anchor="end" font-family="'Liberation Sans', Arial, sans-serif" textLength="9" lengthAdjust="spacingAndGlyphs">400</text>
<path d="M190,99.32 L190,96.32 L196.6,94.32 L196.6,99.32 Z" fill="#FF8800"/>
<path d="M202.2,99.32 L202.2,93.12 L204,92.52 L206,92.32 L208,92.02 L210,92.52 L212.8,92.42 L212.8,99.32 Z" fill="#FF8800"/>
<path d="M243.4,99.32 L243.4,93.02 L245,93.56 L247,95.72 L249,97.88 L250.5,98.78 L253,98.87 L256,96.62 L260,94.97 L263,94.37 L266,94.82 L270,95.87 L274,94.82 L277,94.07 L280,94.67 L284,95.57 L288,96.47 L292,97.82 L297,99.02 L300,99.17 L300,99.32 Z" fill="#FF8800"/>
<path d="M196.6,94.32 C196.6,91.62 202.2,91.62 202.2,93.12" fill="none" stroke="#FF8800" stroke-width="0.3" stroke-opacity="0.4"/>
<path d="M212.8,92.42 C212.8,90.42 243.4,90.42 243.4,93.02" fill="none" stroke="#FF8800" stroke-width="0.7" stroke-opacity="0.9"/>
<path d="M196.6,99.32 Q220,101.72 243.4,99.32" fill="none" stroke="#FF8800" stroke-width="0.65" stroke-opacity="0.65"/>
<rect x="194.28" y="89.72" width="8.05" height="2.4" fill="#fff"/>
<text x="198.3" y="91.77" font-size="2.4" fill="#222" text-anchor="middle" font-family="'Liberation Sans', Arial, sans-serif">598.0</text>
<rect x="225.97" y="89.69" width="8.05" height="2.4" fill="#fff"/>
<text x="230" y="91.74" font-size="2.4" fill="#222" text-anchor="middle" font-family="'Liberation Sans', Arial, sans-serif">355.0</text>
<rect x="216.7" y="99.72" width="6.6" height="2.4" fill="#fff"/>
<text x="220" y="101.77" font-size="2.4" fill="#222" text-anchor="middle" font-family="'Liberation Sans', Arial, sans-serif">38.0</text>
<text x="312.3" y="91.42" font-size="2.75" fill="#FF8800" text-anchor="end" font-family="'Liberation Sans', Arial, sans-serif" textLength="61.8" lengthAdjust="spacing">NA CKN4_1_CKN4_2_CKN4_3-2 IncLevel: 0.95</text>
<line x1="190" y1="105.9" x2="190" y2="114.5" stroke="#555" stroke-width="0.35"/>
<line x1="189.2" y1="114.5" x2="190" y2="114.5" stroke="#777" stroke-width="0.3"/>
<line x1="189.2" y1="112.35" x2="190" y2="112.35" stroke="#777" stroke-width="0.3"/>
<line x1="189.2" y1="110.2" x2="190" y2="110.2" stroke="#777" stroke-width="0.3"/>
<line x1="189.2" y1="108.05" x2="190" y2="108.05" stroke="#777" stroke-width="0.3"/>
<line x1="189.2" y1="105.9" x2="190" y2="105.9" stroke="#777" stroke-width="0.3"/>
<text x="0" y="0" font-size="2.6" font-weight="bold" fill="#333" text-anchor="middle" font-family="'Liberation Sans', Arial, sans-serif" transform="translate(174.8,108.6) rotate(-90)" textLength="7.6" lengthAdjust="spacingAndGlyphs">RPKM</text>
<text x="187" y="113.2" font-size="2.8" fill="#444" text-anchor="end" font-family="'Liberation Sans', Arial, sans-serif" textLength="7.65" lengthAdjust="spacingAndGlyphs">100</text>
<text x="187" y="111.1" font-size="2.8" fill="#444" text-anchor="end" font-family="'Liberation Sans', Arial, sans-serif" textLength="9" lengthAdjust="spacingAndGlyphs">200</text>
<text x="187" y="109" font-size="2.8" fill="#444" text-anchor="end" font-family="'Liberation Sans', Arial, sans-serif" textLength="9" lengthAdjust="spacingAndGlyphs">300</text>
<text x="187" y="106.9" font-size="2.8" fill="#444" text-anchor="end" font-family="'Liberation Sans', Arial, sans-serif" textLength="9" lengthAdjust="spacingAndGlyphs">400</text>
<path d="M190,114.5 L190,110.5 L196.6,110.3 L196.6,114.5 Z" fill="#FF8800"/>
<path d="M202.2,114.5 L202.2,109.1 L204,108.7 L206,108.6 L208,108.5 L210,108.9 L212.8,108.9 L212.8,114.5 Z" fill="#FF8800"/>
<path d="M243.4,114.5 L243.4,109.25 L245,109.7 L247,111.5 L249,113.3 L250.5,114.05 L253,114.19 L256,112.61 L260,111.45 L263,111.03 L266,111.35 L270,112.08 L274,111.35 L277,110.83 L280,111.25 L284,111.88 L288,112.5 L292,113.45 L297,114.29 L300,114.39 L300,114.5 Z" fill="#FF8800"/>
<path d="M196.6,110.3 C196.6,107.6 202.2,107.6 202.2,109.1" fill="none" stroke="#FF8800" stroke-width="0.3" stroke-opacity="0.4"/>
<path d="M212.8,108.9 C212.8,106.9 243.4,106.9 243.4,109.25" fill="none" stroke="#FF8800" stroke-width="0.7" stroke-opacity="0.9"/>
<path d="M196.6,114.5 Q220,116.9 243.4,114.5" fill="none" stroke="#FF8800" stroke-width="0.65" stroke-opacity="0.65"/>
<rect x="194.28" y="105.7" width="8.05" height="2.4" fill="#fff"/>
<text x="198.3" y="107.75" font-size="2.4" fill="#222" text-anchor="middle" font-family="'Liberation Sans', Arial, sans-serif">335.0</text>
<rect x="225.97" y="106.14" width="8.05" height="2.4" fill="#fff"/>
<text x="230" y="108.19" font-size="2.4" fill="#222" text-anchor="middle" font-family="'Liberation Sans', Arial, sans-serif">432.0</text>
<rect x="216.7" y="114.9" width="6.6" height="2.4" fill="#fff"/>
<text x="220" y="116.95" font-size="2.4" fill="#222" text-anchor="middle" font-family="'Liberation Sans', Arial, sans-serif">28.0</text>
<text x="312.3" y="106.6" font-size="2.75" fill="#FF8800" text-anchor="end" font-family="'Liberation Sans', Arial, sans-serif" textLength="61.8" lengthAdjust="spacing">NA CKN4_1_CKN4_2_CKN4_3-3 IncLevel: 0.95</text>
<line x1="190" y1="120.2" x2="312.3" y2="120.2" stroke="#444" stroke-width="0.4"/>
<line x1="190" y1="120.2" x2="190" y2="121.5" stroke="#444" stroke-width="0.35"/>
<text x="190" y="124.5" font-size="2.6" fill="#333" text-anchor="middle" font-family="'Liberation Sans', Arial, sans-serif" textLength="9.1" lengthAdjust="spacingAndGlyphs">6784969</text>
<line x1="214.46" y1="120.2" x2="214.46" y2="121.5" stroke="#444" stroke-width="0.35"/>
<text x="214.46" y="124.5" font-size="2.6" fill="#333" text-anchor="middle" font-family="'Liberation Sans', Arial, sans-serif" textLength="9.1" lengthAdjust="spacingAndGlyphs">6785194</text>
<line x1="238.92" y1="120.2" x2="238.92" y2="121.5" stroke="#444" stroke-width="0.35"/>
<text x="238.92" y="124.5" font-size="2.6" fill="#333" text-anchor="middle" font-family="'Liberation Sans', Arial, sans-serif" textLength="9.1" lengthAdjust="spacingAndGlyphs">6785419</text>
<line x1="263.38" y1="120.2" x2="263.38" y2="121.5" stroke="#444" stroke-width="0.35"/>
<text x="263.38" y="124.5" font-size="2.6" fill="#333" text-anchor="middle" font-family="'Liberation Sans', Arial, sans-serif" textLength="9.1" lengthAdjust="spacingAndGlyphs">6785644</text>
<line x1="287.84" y1="120.2" x2="287.84" y2="121.5" stroke="#444" stroke-width="0.35"/>
<text x="287.84" y="124.5" font-size="2.6" fill="#333" text-anchor="middle" font-family="'Liberation Sans', Arial, sans-serif" textLength="9.1" lengthAdjust="spacingAndGlyphs">6785869</text>
<line x1="312.3" y1="120.2" x2="312.3" y2="121.5" stroke="#444" stroke-width="0.35"/>
<text x="312.3" y="124.5" font-size="2.6" fill="#333" text-anchor="middle" font-family="'Liberation Sans', Arial, sans-serif" textLength="9.1" lengthAdjust="spacingAndGlyphs">6786175</text>
<text x="222.5" y="128.3" font-size="3" fill="#222" text-anchor="start" font-family="'Liberation Sans', Arial, sans-serif" textLength="56" lengthAdjust="spacingAndGlyphs">Genomic coordinate (Chr2), &quot;-&quot; strand</text>
<text x="221.5" y="143.1" font-size="6.1" fill="#111" text-anchor="start" font-family="'Liberation Serif', 'Times New Roman', serif" textLength="55.9" lengthAdjust="spacingAndGlyphs" stroke="#000" stroke-width="0.1">SE: LOC_Os02g12850</text>
<line x1="190" y1="151.5" x2="312.3" y2="151.5" stroke="#333" stroke-width="0.9" stroke-dasharray="1.2 1.2"/>
<rect x="190" y="150.15" width="7" height="2.7" fill="#000"/>
<rect x="202.2" y="150.15" width="10.6" height="2.7" fill="#000"/>
<rect x="243.4" y="150.15" width="68.9" height="2.7" fill="#000"/>
<line x1="190" y1="161.3" x2="312.3" y2="161.3" stroke="#333" stroke-width="0.9" stroke-dasharray="1.2 1.2"/>
<rect x="190" y="159.95" width="7" height="2.7" fill="#000"/>
<rect x="243.4" y="159.95" width="68.9" height="2.7" fill="#000"/>
<text x="366.6" y="6.6" font-size="8" fill="#111" text-anchor="start" font-family="'Liberation Serif', 'Times New Roman', serif" stroke="#111" stroke-width="0.15">C</text>
<text x="382.7" y="14.9" font-size="3.7" fill="#222" text-anchor="start" font-family="'Liberation Sans', Arial, sans-serif" textLength="152.8" lengthAdjust="spacing" stroke="#222" stroke-width="0.08">Chr2:33542735:33542860:-@Chr2:33542424:33542620:-@Chr2:33541861:33542247:-</text>
<line x1="383.2" y1="30" x2="383.2" y2="38.6" stroke="#555" stroke-width="0.35"/>
<line x1="382.4" y1="38.6" x2="383.2" y2="38.6" stroke="#777" stroke-width="0.3"/>
<line x1="382.4" y1="36.45" x2="383.2" y2="36.45" stroke="#777" stroke-width="0.3"/>
<line x1="382.4" y1="34.3" x2="383.2" y2="34.3" stroke="#777" stroke-width="0.3"/>
<line x1="382.4" y1="32.15" x2="383.2" y2="32.15" stroke="#777" stroke-width="0.3"/>
<line x1="382.4" y1="30" x2="383.2" y2="30" stroke="#777" stroke-width="0.3"/>
<text x="0" y="0" font-size="2.6" font-weight="bold" fill="#333" text-anchor="middle" font-family="'Liberation Sans', Arial, sans-serif" transform="translate(370.7,32.7) rotate(-90)" textLength="7.6" lengthAdjust="spacingAndGlyphs">RPKM</text>
<text x="380" y="37.3" font-size="2.8" fill="#444" text-anchor="end" font-family="'Liberation Sans', Arial, sans-serif" textLength="4.84" lengthAdjust="spacingAndGlyphs">50</text>
<text x="380" y="35.2" font-size="2.8" fill="#444" text-anchor="end" font-family="'Liberation Sans', Arial, sans-serif" textLength="5.7" lengthAdjust="spacingAndGlyphs">100</text>
<text x="380" y="33.1" font-size="2.8" fill="#444" text-anchor="end" font-family="'Liberation Sans', Arial, sans-serif" textLength="5.7" lengthAdjust="spacingAndGlyphs">150</text>
<text x="380" y="31" font-size="2.8" fill="#444" text-anchor="end" font-family="'Liberation Sans', Arial, sans-serif" textLength="5.7" lengthAdjust="spacingAndGlyphs">200</text>
<path d="M383.2,38.6 L383.2,34.2 L390,34.4 L397,34.6 L398.5,35.2 L401,36.2 L404,37.2 L405.5,37.7 L420,38 L444,38.1 L445,38.5 L450,38.5 L451,37.8 L470,37.7 L486,37.9 L489,38.55 L489,38.6 Z" fill="#D50012"/>
<path d="M398.5,35.2 C398.5,33.1 413,33.1 413,38" fill="none" stroke="#D50012" stroke-width="0.45" stroke-opacity="0.6"/>
<path d="M431,38 C431,35.4 464,35.4 464,37.9" fill="none" stroke="#D50012" stroke-width="0.35" stroke-opacity="0.3"/>
<rect x="402.2" y="33" width="6.6" height="2.4" fill="#fff"/>
<text x="405.5" y="35.05" font-size="2.4" fill="#222" text-anchor="middle" font-family="'Liberation Sans', Arial, sans-serif">44.0</text>
<rect x="444.93" y="35" width="5.15" height="2.4" fill="#fff"/>
<text x="447.5" y="37.05" font-size="2.4" fill="#222" text-anchor="middle" font-family="'Liberation Sans', Arial, sans-serif">4.0</text>
<text x="505.5" y="30.7" font-size="2.75" fill="#D50012" text-anchor="end" font-family="'Liberation Sans', Arial, sans-serif" textLength="63.9" lengthAdjust="spacing">NA MDN4_1_MDN4_2_MDN4_3-1 IncLevel: 1.00</text>
<line x1="383.2" y1="45.18" x2="383.2" y2="53.78" stroke="#555" stroke-width="0.35"/>
<line x1="382.4" y1="53.78" x2="383.2" y2="53.78" stroke="#777" stroke-width="0.3"/>
<line x1="382.4" y1="51.63" x2="383.2" y2="51.63" stroke="#777" stroke-width="0.3"/>
<line x1="382.4" y1="49.48" x2="383.2" y2="49.48" stroke="#777" stroke-width="0.3"/>
<line x1="382.4" y1="47.33" x2="383.2" y2="47.33" stroke="#777" stroke-width="0.3"/>
<line x1="382.4" y1="45.18" x2="383.2" y2="45.18" stroke="#777" stroke-width="0.3"/>
<text x="0" y="0" font-size="2.6" font-weight="bold" fill="#333" text-anchor="middle" font-family="'Liberation Sans', Arial, sans-serif" transform="translate(370.7,47.88) rotate(-90)" textLength="7.6" lengthAdjust="spacingAndGlyphs">RPKM</text>
<text x="380" y="52.48" font-size="2.8" fill="#444" text-anchor="end" font-family="'Liberation Sans', Arial, sans-serif" textLength="4.84" lengthAdjust="spacingAndGlyphs">50</text>
<text x="380" y="50.38" font-size="2.8" fill="#444" text-anchor="end" font-family="'Liberation Sans', Arial, sans-serif" textLength="5.7" lengthAdjust="spacingAndGlyphs">100</text>
<text x="380" y="48.28" font-size="2.8" fill="#444" text-anchor="end" font-family="'Liberation Sans', Arial, sans-serif" textLength="5.7" lengthAdjust="spacingAndGlyphs">150</text>
<text x="380" y="46.18" font-size="2.8" fill="#444" text-anchor="end" font-family="'Liberation Sans', Arial, sans-serif" textLength="5.7" lengthAdjust="spacingAndGlyphs">200</text>
<path d="M383.2,53.78 L383.2,45.78 L390,46.98 L397,48.18 L398.5,48.98 L401,50.78 L404,52.28 L405.5,52.78 L430,53.18 L444,53.18 L451,53.18 L486,53.18 L500,53.73 L500,53.78 Z" fill="#D50012"/>
<path d="M398.5,48.98 C398.5,48.28 413,48.28 413,53.18" fill="none" stroke="#D50012" stroke-width="0.45" stroke-opacity="0.6"/>
<path d="M431,53.18 C431,50.58 464,50.58 464,53.08" fill="none" stroke="#D50012" stroke-width="0.35" stroke-opacity="0.3"/>
<rect x="402.2" y="48.18" width="6.6" height="2.4" fill="#fff"/>
<text x="405.5" y="50.23" font-size="2.4" fill="#222" text-anchor="middle" font-family="'Liberation Sans', Arial, sans-serif">30.0</text>
<rect x="444.2" y="50.18" width="6.6" height="2.4" fill="#fff"/>
<text x="447.5" y="52.23" font-size="2.4" fill="#222" text-anchor="middle" font-family="'Liberation Sans', Arial, sans-serif">10.0</text>
<text x="505.5" y="45.88" font-size="2.75" fill="#D50012" text-anchor="end" font-family="'Liberation Sans', Arial, sans-serif" textLength="63.9" lengthAdjust="spacing">NA MDN4_1_MDN4_2_MDN4_3-2 IncLevel: 1.00</text>
<line x1="383.2" y1="60.36" x2="383.2" y2="68.96" stroke="#555" stroke-width="0.35"/>
<line x1="382.4" y1="68.96" x2="383.2" y2="68.96" stroke="#777" stroke-width="0.3"/>
<line x1="382.4" y1="66.81" x2="383.2" y2="66.81" stroke="#777" stroke-width="0.3"/>
<line x1="382.4" y1="64.66" x2="383.2" y2="64.66" stroke="#777" stroke-width="0.3"/>
<line x1="382.4" y1="62.51" x2="383.2" y2="62.51" stroke="#777" stroke-width="0.3"/>
<line x1="382.4" y1="60.36" x2="383.2" y2="60.36" stroke="#777" stroke-width="0.3"/>
<text x="0" y="0" font-size="2.6" font-weight="bold" fill="#333" text-anchor="middle" font-family="'Liberation Sans', Arial, sans-serif" transform="translate(370.7,63.06) rotate(-90)" textLength="7.6" lengthAdjust="spacingAndGlyphs">RPKM</text>
<text x="380" y="67.66" font-size="2.8" fill="#444" text-anchor="end" font-family="'Liberation Sans', Arial, sans-serif" textLength="4.84" lengthAdjust="spacingAndGlyphs">50</text>
<text x="380" y="65.56" font-size="2.8" fill="#444" text-anchor="end" font-family="'Liberation Sans', Arial, sans-serif" textLength="5.7" lengthAdjust="spacingAndGlyphs">100</text>
<text x="380" y="63.46" font-size="2.8" fill="#444" text-anchor="end" font-family="'Liberation Sans', Arial, sans-serif" textLength="5.7" lengthAdjust="spacingAndGlyphs">150</text>
<text x="380" y="61.36" font-size="2.8" fill="#444" text-anchor="end" font-family="'Liberation Sans', Arial, sans-serif" textLength="5.7" lengthAdjust="spacingAndGlyphs">200</text>
<path d="M383.2,68.96 L383.2,62.96 L386,61.66 L392,61.96 L397,62.36 L399,63.46 L401,65.96 L404,67.36 L405.5,67.96 L444,68.36 L446,68.86 L450,68.86 L451,68.06 L486,68.06 L489,68.91 L489,68.96 Z" fill="#D50012"/>
<path d="M398.5,62.36 C398.5,63.46 413,63.46 413,68.36" fill="none" stroke="#D50012" stroke-width="0.45" stroke-opacity="0.6"/>
<path d="M431,68.36 C431,65.76 464,65.76 464,68.26" fill="none" stroke="#D50012" stroke-width="0.35" stroke-opacity="0.3"/>
<rect x="402.2" y="63.36" width="6.6" height="2.4" fill="#fff"/>
<text x="405.5" y="65.41" font-size="2.4" fill="#222" text-anchor="middle" font-family="'Liberation Sans', Arial, sans-serif">34.0</text>
<rect x="444.93" y="65.36" width="5.15" height="2.4" fill="#fff"/>
<text x="447.5" y="67.41" font-size="2.4" fill="#222" text-anchor="middle" font-family="'Liberation Sans', Arial, sans-serif">4.0</text>
<text x="505.5" y="61.06" font-size="2.75" fill="#D50012" text-anchor="end" font-family="'Liberation Sans', Arial, sans-serif" textLength="63.9" lengthAdjust="spacing">NA MDN4_1_MDN4_2_MDN4_3-3 IncLevel: 1.00</text>
<line x1="383.2" y1="75.54" x2="383.2" y2="84.14" stroke="#555" stroke-width="0.35"/>
<line x1="382.4" y1="84.14" x2="383.2" y2="84.14" stroke="#777" stroke-width="0.3"/>
<line x1="382.4" y1="81.99" x2="383.2" y2="81.99" stroke="#777" stroke-width="0.3"/>
<line x1="382.4" y1="79.84" x2="383.2" y2="79.84" stroke="#777" stroke-width="0.3"/>
<line x1="382.4" y1="77.69" x2="383.2" y2="77.69" stroke="#777" stroke-width="0.3"/>
<line x1="382.4" y1="75.54" x2="383.2" y2="75.54" stroke="#777" stroke-width="0.3"/>
<text x="0" y="0" font-size="2.6" font-weight="bold" fill="#333" text-anchor="middle" font-family="'Liberation Sans', Arial, sans-serif" transform="translate(370.7,78.24) rotate(-90)" textLength="7.6" lengthAdjust="spacingAndGlyphs">RPKM</text>
<text x="380" y="82.84" font-size="2.8" fill="#444" text-anchor="end" font-family="'Liberation Sans', Arial, sans-serif" textLength="4.84" lengthAdjust="spacingAndGlyphs">50</text>
<text x="380" y="80.74" font-size="2.8" fill="#444" text-anchor="end" font-family="'Liberation Sans', Arial, sans-serif" textLength="5.7" lengthAdjust="spacingAndGlyphs">100</text>
<text x="380" y="78.64" font-size="2.8" fill="#444" text-anchor="end" font-family="'Liberation Sans', Arial, sans-serif" textLength="5.7" lengthAdjust="spacingAndGlyphs">150</text>
<text x="380" y="76.54" font-size="2.8" fill="#444" text-anchor="end" font-family="'Liberation Sans', Arial, sans-serif" textLength="5.7" lengthAdjust="spacingAndGlyphs">200</text>
<path d="M383.2,84.14 L383.2,79.14 L390,79.54 L397,80.14 L398.5,80.74 L401,81.94 L404,82.84 L405.5,83.34 L444,83.64 L451,83.64 L486,83.44 L490,84.09 L490,84.14 Z" fill="#FF8800"/>
<path d="M398.5,80.74 C398.5,78.64 413,78.64 413,83.54" fill="none" stroke="#FF8800" stroke-width="0.45" stroke-opacity="0.6"/>
<path d="M431,83.54 C431,80.94 464,80.94 464,83.44" fill="none" stroke="#FF8800" stroke-width="0.35" stroke-opacity="0.3"/>
<rect x="402.2" y="78.54" width="6.6" height="2.4" fill="#fff"/>
<text x="405.5" y="80.59" font-size="2.4" fill="#222" text-anchor="middle" font-family="'Liberation Sans', Arial, sans-serif">30.0</text>
<rect x="444.93" y="80.54" width="5.15" height="2.4" fill="#fff"/>
<text x="447.5" y="82.59" font-size="2.4" fill="#222" text-anchor="middle" font-family="'Liberation Sans', Arial, sans-serif">7.0</text>
<text x="505.5" y="76.24" font-size="2.75" fill="#FF8800" text-anchor="end" font-family="'Liberation Sans', Arial, sans-serif" textLength="61.5" lengthAdjust="spacing">NA CKN4_1_CKN4_2_CKN4_3-1 IncLevel: 1.00</text>
<line x1="383.2" y1="90.72" x2="383.2" y2="99.32" stroke="#555" stroke-width="0.35"/>
<line x1="382.4" y1="99.32" x2="383.2" y2="99.32" stroke="#777" stroke-width="0.3"/>
<line x1="382.4" y1="97.17" x2="383.2" y2="97.17" stroke="#777" stroke-width="0.3"/>
<line x1="382.4" y1="95.02" x2="383.2" y2="95.02" stroke="#777" stroke-width="0.3"/>
<line x1="382.4" y1="92.87" x2="383.2" y2="92.87" stroke="#777" stroke-width="0.3"/>
<line x1="382.4" y1="90.72" x2="383.2" y2="90.72" stroke="#777" stroke-width="0.3"/>
<text x="0" y="0" font-size="2.6" font-weight="bold" fill="#333" text-anchor="middle" font-family="'Liberation Sans', Arial, sans-serif" transform="translate(370.7,93.42) rotate(-90)" textLength="7.6" lengthAdjust="spacingAndGlyphs">RPKM</text>
<text x="380" y="98.02" font-size="2.8" fill="#444" text-anchor="end" font-family="'Liberation Sans', Arial, sans-serif" textLength="4.84" lengthAdjust="spacingAndGlyphs">50</text>
<text x="380" y="95.92" font-size="2.8" fill="#444" text-anchor="end" font-family="'Liberation Sans', Arial, sans-serif" textLength="5.7" lengthAdjust="spacingAndGlyphs">100</text>
<text x="380" y="93.82" font-size="2.8" fill="#444" text-anchor="end" font-family="'Liberation Sans', Arial, sans-serif" textLength="5.7" lengthAdjust="spacingAndGlyphs">150</text>
<text x="380" y="91.72" font-size="2.8" fill="#444" text-anchor="end" font-family="'Liberation Sans', Arial, sans-serif" textLength="5.7" lengthAdjust="spacingAndGlyphs">200</text>
<path d="M383.2,99.32 L383.2,93.32 L390,94.12 L397,94.92 L398.5,95.52 L401,96.92 L404,98.02 L405.5,98.52 L444,98.82 L451,98.82 L486,98.72 L490,99.27 L490,99.32 Z" fill="#FF8800"/>
<path d="M398.5,95.52 C398.5,93.82 413,93.82 413,98.72" fill="none" stroke="#FF8800" stroke-width="0.45" stroke-opacity="0.6"/>
<path d="M431,98.72 C431,96.12 464,96.12 464,98.62" fill="none" stroke="#FF8800" stroke-width="0.35" stroke-opacity="0.3"/>
<rect x="402.2" y="93.72" width="6.6" height="2.4" fill="#fff"/>
<text x="405.5" y="95.77" font-size="2.4" fill="#222" text-anchor="middle" font-family="'Liberation Sans', Arial, sans-serif">33.0</text>
<rect x="444.93" y="95.72" width="5.15" height="2.4" fill="#fff"/>
<text x="447.5" y="97.77" font-size="2.4" fill="#222" text-anchor="middle" font-family="'Liberation Sans', Arial, sans-serif">8.0</text>
<rect x="428.43" y="99.92" width="5.15" height="2.4" fill="#fff"/>
<text x="431" y="101.97" font-size="2.4" fill="#222" text-anchor="middle" font-family="'Liberation Sans', Arial, sans-serif">8.0</text>
<text x="505.5" y="91.42" font-size="2.75" fill="#FF8800" text-anchor="end" font-family="'Liberation Sans', Arial, sans-serif" textLength="61.5" lengthAdjust="spacing">NA CKN4_1_CKN4_2_CKN4_3-2 IncLevel: 0.93</text>
<line x1="383.2" y1="105.9" x2="383.2" y2="114.5" stroke="#555" stroke-width="0.35"/>
<line x1="382.4" y1="114.5" x2="383.2" y2="114.5" stroke="#777" stroke-width="0.3"/>
<line x1="382.4" y1="112.35" x2="383.2" y2="112.35" stroke="#777" stroke-width="0.3"/>
<line x1="382.4" y1="110.2" x2="383.2" y2="110.2" stroke="#777" stroke-width="0.3"/>
<line x1="382.4" y1="108.05" x2="383.2" y2="108.05" stroke="#777" stroke-width="0.3"/>
<line x1="382.4" y1="105.9" x2="383.2" y2="105.9" stroke="#777" stroke-width="0.3"/>
<text x="0" y="0" font-size="2.6" font-weight="bold" fill="#333" text-anchor="middle" font-family="'Liberation Sans', Arial, sans-serif" transform="translate(370.7,108.6) rotate(-90)" textLength="7.6" lengthAdjust="spacingAndGlyphs">RPKM</text>
<text x="380" y="113.2" font-size="2.8" fill="#444" text-anchor="end" font-family="'Liberation Sans', Arial, sans-serif" textLength="4.84" lengthAdjust="spacingAndGlyphs">50</text>
<text x="380" y="111.1" font-size="2.8" fill="#444" text-anchor="end" font-family="'Liberation Sans', Arial, sans-serif" textLength="5.7" lengthAdjust="spacingAndGlyphs">100</text>
<text x="380" y="109" font-size="2.8" fill="#444" text-anchor="end" font-family="'Liberation Sans', Arial, sans-serif" textLength="5.7" lengthAdjust="spacingAndGlyphs">150</text>
<text x="380" y="106.9" font-size="2.8" fill="#444" text-anchor="end" font-family="'Liberation Sans', Arial, sans-serif" textLength="5.7" lengthAdjust="spacingAndGlyphs">200</text>
<path d="M383.2,114.5 L383.2,110.3 L390,109.9 L397,110.3 L398.5,110.9 L401,112.3 L404,113.3 L405.5,113.7 L444,114 L451,114 L486,113.9 L490,114.45 L490,114.5 Z" fill="#FF8800"/>
<path d="M398.5,110.9 C398.5,109 413,109 413,113.9" fill="none" stroke="#FF8800" stroke-width="0.45" stroke-opacity="0.6"/>
<path d="M431,113.9 C431,111.3 464,111.3 464,113.8" fill="none" stroke="#FF8800" stroke-width="0.35" stroke-opacity="0.3"/>
<rect x="402.2" y="108.9" width="6.6" height="2.4" fill="#fff"/>
<text x="405.5" y="110.95" font-size="2.4" fill="#222" text-anchor="middle" font-family="'Liberation Sans', Arial, sans-serif">30.0</text>
<rect x="444.93" y="110.9" width="5.15" height="2.4" fill="#fff"/>
<text x="447.5" y="112.95" font-size="2.4" fill="#222" text-anchor="middle" font-family="'Liberation Sans', Arial, sans-serif">7.0</text>
<rect x="428.43" y="115.1" width="5.15" height="2.4" fill="#fff"/>
<text x="431" y="117.15" font-size="2.4" fill="#222" text-anchor="middle" font-family="'Liberation Sans', Arial, sans-serif">8.0</text>
<text x="505.5" y="106.6" font-size="2.75" fill="#FF8800" text-anchor="end" font-family="'Liberation Sans', Arial, sans-serif" textLength="61.5" lengthAdjust="spacing">NA CKN4_1_CKN4_2_CKN4_3-3 IncLevel: 1.00</text>
<line x1="383.2" y1="120.2" x2="505.5" y2="120.2" stroke="#444" stroke-width="0.4"/>
<line x1="383.2" y1="120.2" x2="383.2" y2="121.5" stroke="#444" stroke-width="0.35"/>
<text x="383.2" y="124.5" font-size="2.6" fill="#333" text-anchor="middle" font-family="'Liberation Sans', Arial, sans-serif" textLength="10.4" lengthAdjust="spacingAndGlyphs">33541861</text>
<line x1="407.66" y1="120.2" x2="407.66" y2="121.5" stroke="#444" stroke-width="0.35"/>
<text x="407.66" y="124.5" font-size="2.6" fill="#333" text-anchor="middle" font-family="'Liberation Sans', Arial, sans-serif" textLength="10.4" lengthAdjust="spacingAndGlyphs">33542061</text>
<line x1="432.12" y1="120.2" x2="432.12" y2="121.5" stroke="#444" stroke-width="0.35"/>
<text x="432.12" y="124.5" font-size="2.6" fill="#333" text-anchor="middle" font-family="'Liberation Sans', Arial, sans-serif" textLength="10.4" lengthAdjust="spacingAndGlyphs">33542261</text>
<line x1="456.58" y1="120.2" x2="456.58" y2="121.5" stroke="#444" stroke-width="0.35"/>
<text x="456.58" y="124.5" font-size="2.6" fill="#333" text-anchor="middle" font-family="'Liberation Sans', Arial, sans-serif" textLength="10.4" lengthAdjust="spacingAndGlyphs">33542461</text>
<line x1="481.04" y1="120.2" x2="481.04" y2="121.5" stroke="#444" stroke-width="0.35"/>
<text x="481.04" y="124.5" font-size="2.6" fill="#333" text-anchor="middle" font-family="'Liberation Sans', Arial, sans-serif" textLength="10.4" lengthAdjust="spacingAndGlyphs">33542661</text>
<line x1="505.5" y1="120.2" x2="505.5" y2="121.5" stroke="#444" stroke-width="0.35"/>
<text x="505.5" y="124.5" font-size="2.6" fill="#333" text-anchor="middle" font-family="'Liberation Sans', Arial, sans-serif" textLength="10.4" lengthAdjust="spacingAndGlyphs">33542860</text>
<text x="416" y="128.3" font-size="3" fill="#222" text-anchor="start" font-family="'Liberation Sans', Arial, sans-serif" textLength="55.5" lengthAdjust="spacingAndGlyphs">Genomic coordinate (Chr2), &quot;-&quot; strand</text>
<text x="413.6" y="143.1" font-size="6.1" fill="#111" text-anchor="start" font-family="'Liberation Serif', 'Times New Roman', serif" textLength="54.8" lengthAdjust="spacingAndGlyphs" stroke="#000" stroke-width="0.1">SE: LOC_Os02g54770</text>
<line x1="383.2" y1="151.5" x2="505.5" y2="151.5" stroke="#333" stroke-width="0.9" stroke-dasharray="1.2 1.2"/>
<rect x="383.2" y="150.15" width="15.3" height="2.7" fill="#000"/>
<rect x="412.7" y="150.15" width="24" height="2.7" fill="#000"/>
<rect x="458.5" y="150.15" width="47" height="2.7" fill="#000"/>
<line x1="383.2" y1="161.3" x2="505.5" y2="161.3" stroke="#333" stroke-width="0.9" stroke-dasharray="1.2 1.2"/>
<rect x="383.2" y="159.95" width="15.3" height="2.7" fill="#000"/>
<rect x="458.5" y="159.95" width="47" height="2.7" fill="#000"/>
<text x="3.8" y="174.5" font-size="8" fill="#111" text-anchor="start" font-family="'Liberation Serif', 'Times New Roman', serif" stroke="#111" stroke-width="0.15">D</text>
<text x="14.2" y="182.2" font-size="3.7" fill="#222" text-anchor="start" font-family="'Liberation Sans', Arial, sans-serif" textLength="150.3" lengthAdjust="spacing" stroke="#222" stroke-width="0.08">Chr5:17451334:17451375:+@Chr5:17451856:17452045:+@Chr5:17452490:17452591</text>
<line x1="17" y1="197.2" x2="17" y2="205.8" stroke="#555" stroke-width="0.35"/>
<line x1="16.2" y1="205.8" x2="17" y2="205.8" stroke="#777" stroke-width="0.3"/>
<line x1="16.2" y1="203.65" x2="17" y2="203.65" stroke="#777" stroke-width="0.3"/>
<line x1="16.2" y1="201.5" x2="17" y2="201.5" stroke="#777" stroke-width="0.3"/>
<line x1="16.2" y1="199.35" x2="17" y2="199.35" stroke="#777" stroke-width="0.3"/>
<line x1="16.2" y1="197.2" x2="17" y2="197.2" stroke="#777" stroke-width="0.3"/>
<text x="0" y="0" font-size="2.6" font-weight="bold" fill="#333" text-anchor="middle" font-family="'Liberation Sans', Arial, sans-serif" transform="translate(2.8,199.9) rotate(-90)" textLength="7.6" lengthAdjust="spacingAndGlyphs">RPKM</text>
<text x="14" y="204.5" font-size="2.8" fill="#444" text-anchor="end" font-family="'Liberation Sans', Arial, sans-serif" textLength="5.95" lengthAdjust="spacingAndGlyphs">5</text>
<text x="14" y="202.4" font-size="2.8" fill="#444" text-anchor="end" font-family="'Liberation Sans', Arial, sans-serif" textLength="7" lengthAdjust="spacingAndGlyphs">10</text>
<text x="14" y="200.3" font-size="2.8" fill="#444" text-anchor="end" font-family="'Liberation Sans', Arial, sans-serif" textLength="7" lengthAdjust="spacingAndGlyphs">15</text>
<text x="14" y="198.2" font-size="2.8" fill="#444" text-anchor="end" font-family="'Liberation Sans', Arial, sans-serif" textLength="7" lengthAdjust="spacingAndGlyphs">20</text>
<path d="M17,205.8 L17,203.2 L22,203.2 L22,205.8 Z" fill="#D50012"/>
<path d="M22,205.8 L22,205.6 L136.6,205.6 L136.6,205.8 Z" fill="#D50012"/>
<path d="M71,205.8 L71,205.45 L91,205.45 L91,205.8 Z" fill="#D50012"/>
<path d="M136.6,205.8 L136.6,203.8 L138,203.2 L139.5,203.2 L139.5,205.8 Z" fill="#D50012"/>
<path d="M22,203.2 Q46.5,203.55 71,205.5" fill="none" stroke="#D50012" stroke-width="0.35" stroke-opacity="0.6"/>
<path d="M91,205.5 Q113.8,203.85 136.6,203.8" fill="none" stroke="#D50012" stroke-width="0.35" stroke-opacity="0.6"/>
<path d="M22,205.8 Q79.3,207.2 136.6,205.8" fill="none" stroke="#D50012" stroke-width="1.2" stroke-opacity="0.45"/>
<rect x="43.92" y="201.6" width="5.15" height="2.4" fill="#fff"/>
<text x="46.5" y="203.65" font-size="2.4" fill="#222" text-anchor="middle" font-family="'Liberation Sans', Arial, sans-serif">4.0</text>
<rect x="75.9" y="205.9" width="6.6" height="2.4" fill="#fff"/>
<text x="79.2" y="207.95" font-size="2.4" fill="#222" text-anchor="middle" font-family="'Liberation Sans', Arial, sans-serif">75.0</text>
<rect x="110.92" y="201.3" width="5.15" height="2.4" fill="#fff"/>
<text x="113.5" y="203.35" font-size="2.4" fill="#222" text-anchor="middle" font-family="'Liberation Sans', Arial, sans-serif">7.0</text>
<text x="139.3" y="197.9" font-size="2.75" fill="#D50012" text-anchor="end" font-family="'Liberation Sans', Arial, sans-serif" textLength="63.3" lengthAdjust="spacing">NA MDN4_1_MDN4_2_MDN4_3-1 IncLevel: 0.03</text>
<line x1="17" y1="212.38" x2="17" y2="220.98" stroke="#555" stroke-width="0.35"/>
<line x1="16.2" y1="220.98" x2="17" y2="220.98" stroke="#777" stroke-width="0.3"/>
<line x1="16.2" y1="218.83" x2="17" y2="218.83" stroke="#777" stroke-width="0.3"/>
<line x1="16.2" y1="216.68" x2="17" y2="216.68" stroke="#777" stroke-width="0.3"/>
<line x1="16.2" y1="214.53" x2="17" y2="214.53" stroke="#777" stroke-width="0.3"/>
<line x1="16.2" y1="212.38" x2="17" y2="212.38" stroke="#777" stroke-width="0.3"/>
<text x="0" y="0" font-size="2.6" font-weight="bold" fill="#333" text-anchor="middle" font-family="'Liberation Sans', Arial, sans-serif" transform="translate(2.8,215.08) rotate(-90)" textLength="7.6" lengthAdjust="spacingAndGlyphs">RPKM</text>
<text x="14" y="219.68" font-size="2.8" fill="#444" text-anchor="end" font-family="'Liberation Sans', Arial, sans-serif" textLength="5.95" lengthAdjust="spacingAndGlyphs">5</text>
<text x="14" y="217.58" font-size="2.8" fill="#444" text-anchor="end" font-family="'Liberation Sans', Arial, sans-serif" textLength="7" lengthAdjust="spacingAndGlyphs">10</text>
<text x="14" y="215.48" font-size="2.8" fill="#444" text-anchor="end" font-family="'Liberation Sans', Arial, sans-serif" textLength="7" lengthAdjust="spacingAndGlyphs">15</text>
<text x="14" y="213.38" font-size="2.8" fill="#444" text-anchor="end" font-family="'Liberation Sans', Arial, sans-serif" textLength="7" lengthAdjust="spacingAndGlyphs">20</text>
<path d="M17,220.98 L17,215.98 L22,215.98 L22,220.98 Z" fill="#D50012"/>
<path d="M22,220.98 L22,220.78 L136.6,220.78 L136.6,220.98 Z" fill="#D50012"/>
<path d="M71,220.98 L71,220.63 L91,220.63 L91,220.98 Z" fill="#D50012"/>
<path d="M136.6,220.98 L136.6,216.98 L138,215.98 L139.5,215.98 L139.5,220.98 Z" fill="#D50012"/>
<path d="M22,215.98 Q46.5,217.53 71,220.68" fill="none" stroke="#D50012" stroke-width="0.35" stroke-opacity="0.6"/>
<path d="M91,220.68 Q113.8,218.03 136.6,216.98" fill="none" stroke="#D50012" stroke-width="0.35" stroke-opacity="0.6"/>
<path d="M22,220.98 Q79.3,224.9 136.6,220.98" fill="none" stroke="#D50012" stroke-width="1.2" stroke-opacity="0.45"/>
<rect x="43.92" y="216.78" width="5.15" height="2.4" fill="#fff"/>
<text x="46.5" y="218.83" font-size="2.4" fill="#222" text-anchor="middle" font-family="'Liberation Sans', Arial, sans-serif">5.0</text>
<rect x="75.17" y="222.34" width="8.05" height="2.4" fill="#fff"/>
<text x="79.2" y="224.39" font-size="2.4" fill="#222" text-anchor="middle" font-family="'Liberation Sans', Arial, sans-serif">154.0</text>
<rect x="110.92" y="216.48" width="5.15" height="2.4" fill="#fff"/>
<text x="113.5" y="218.53" font-size="2.4" fill="#222" text-anchor="middle" font-family="'Liberation Sans', Arial, sans-serif">5.0</text>
<text x="139.3" y="213.08" font-size="2.75" fill="#D50012" text-anchor="end" font-family="'Liberation Sans', Arial, sans-serif" textLength="63.3" lengthAdjust="spacing">NA MDN4_1_MDN4_2_MDN4_3-2 IncLevel: 0.01</text>
<line x1="17" y1="227.56" x2="17" y2="236.16" stroke="#555" stroke-width="0.35"/>
<line x1="16.2" y1="236.16" x2="17" y2="236.16" stroke="#777" stroke-width="0.3"/>
<line x1="16.2" y1="234.01" x2="17" y2="234.01" stroke="#777" stroke-width="0.3"/>
<line x1="16.2" y1="231.86" x2="17" y2="231.86" stroke="#777" stroke-width="0.3"/>
<line x1="16.2" y1="229.71" x2="17" y2="229.71" stroke="#777" stroke-width="0.3"/>
<line x1="16.2" y1="227.56" x2="17" y2="227.56" stroke="#777" stroke-width="0.3"/>
<text x="0" y="0" font-size="2.6" font-weight="bold" fill="#333" text-anchor="middle" font-family="'Liberation Sans', Arial, sans-serif" transform="translate(2.8,230.26) rotate(-90)" textLength="7.6" lengthAdjust="spacingAndGlyphs">RPKM</text>
<text x="14" y="234.86" font-size="2.8" fill="#444" text-anchor="end" font-family="'Liberation Sans', Arial, sans-serif" textLength="5.95" lengthAdjust="spacingAndGlyphs">5</text>
<text x="14" y="232.76" font-size="2.8" fill="#444" text-anchor="end" font-family="'Liberation Sans', Arial, sans-serif" textLength="7" lengthAdjust="spacingAndGlyphs">10</text>
<text x="14" y="230.66" font-size="2.8" fill="#444" text-anchor="end" font-family="'Liberation Sans', Arial, sans-serif" textLength="7" lengthAdjust="spacingAndGlyphs">15</text>
<text x="14" y="228.56" font-size="2.8" fill="#444" text-anchor="end" font-family="'Liberation Sans', Arial, sans-serif" textLength="7" lengthAdjust="spacingAndGlyphs">20</text>
<path d="M17,236.16 L17,228.86 L22,228.86 L22,236.16 Z" fill="#D50012"/>
<path d="M22,236.16 L22,235.96 L136.6,235.96 L136.6,236.16 Z" fill="#D50012"/>
<path d="M71,236.16 L71,235.81 L91,235.81 L91,236.16 Z" fill="#D50012"/>
<path d="M136.6,236.16 L136.6,230.16 L138,228.16 L139.5,228.16 L139.5,236.16 Z" fill="#D50012"/>
<path d="M22,228.86 Q46.5,231.56 71,235.86" fill="none" stroke="#D50012" stroke-width="0.35" stroke-opacity="0.6"/>
<path d="M91,235.86 Q113.8,232.21 136.6,230.16" fill="none" stroke="#D50012" stroke-width="0.35" stroke-opacity="0.6"/>
<path d="M22,236.16 Q79.3,239.24 136.6,236.16" fill="none" stroke="#D50012" stroke-width="1.2" stroke-opacity="0.45"/>
<rect x="43.92" y="231.96" width="5.15" height="2.4" fill="#fff"/>
<text x="46.5" y="234.01" font-size="2.4" fill="#222" text-anchor="middle" font-family="'Liberation Sans', Arial, sans-serif">6.0</text>
<rect x="75.17" y="237.1" width="8.05" height="2.4" fill="#fff"/>
<text x="79.2" y="239.15" font-size="2.4" fill="#222" text-anchor="middle" font-family="'Liberation Sans', Arial, sans-serif">168.0</text>
<rect x="110.92" y="231.66" width="5.15" height="2.4" fill="#fff"/>
<text x="113.5" y="233.71" font-size="2.4" fill="#222" text-anchor="middle" font-family="'Liberation Sans', Arial, sans-serif">5.0</text>
<text x="139.3" y="228.26" font-size="2.75" fill="#D50012" text-anchor="end" font-family="'Liberation Sans', Arial, sans-serif" textLength="63.3" lengthAdjust="spacing">NA MDN4_1_MDN4_2_MDN4_3-3 IncLevel: 0.02</text>
<line x1="17" y1="242.74" x2="17" y2="251.34" stroke="#555" stroke-width="0.35"/>
<line x1="16.2" y1="251.34" x2="17" y2="251.34" stroke="#777" stroke-width="0.3"/>
<line x1="16.2" y1="249.19" x2="17" y2="249.19" stroke="#777" stroke-width="0.3"/>
<line x1="16.2" y1="247.04" x2="17" y2="247.04" stroke="#777" stroke-width="0.3"/>
<line x1="16.2" y1="244.89" x2="17" y2="244.89" stroke="#777" stroke-width="0.3"/>
<line x1="16.2" y1="242.74" x2="17" y2="242.74" stroke="#777" stroke-width="0.3"/>
<text x="0" y="0" font-size="2.6" font-weight="bold" fill="#333" text-anchor="middle" font-family="'Liberation Sans', Arial, sans-serif" transform="translate(2.8,245.44) rotate(-90)" textLength="7.6" lengthAdjust="spacingAndGlyphs">RPKM</text>
<text x="14" y="250.04" font-size="2.8" fill="#444" text-anchor="end" font-family="'Liberation Sans', Arial, sans-serif" textLength="5.95" lengthAdjust="spacingAndGlyphs">5</text>
<text x="14" y="247.94" font-size="2.8" fill="#444" text-anchor="end" font-family="'Liberation Sans', Arial, sans-serif" textLength="7" lengthAdjust="spacingAndGlyphs">10</text>
<text x="14" y="245.84" font-size="2.8" fill="#444" text-anchor="end" font-family="'Liberation Sans', Arial, sans-serif" textLength="7" lengthAdjust="spacingAndGlyphs">15</text>
<text x="14" y="243.74" font-size="2.8" fill="#444" text-anchor="end" font-family="'Liberation Sans', Arial, sans-serif" textLength="7" lengthAdjust="spacingAndGlyphs">20</text>
<path d="M17,251.34 L17,246.34 L22,246.34 L22,251.34 Z" fill="#FF8800"/>
<path d="M22,251.34 L22,251.14 L136.6,251.14 L136.6,251.34 Z" fill="#FF8800"/>
<path d="M71,251.34 L71,250.99 L91,250.99 L91,251.34 Z" fill="#FF8800"/>
<path d="M136.6,251.34 L136.6,246.34 L138,246.34 L139.5,246.34 L139.5,251.34 Z" fill="#FF8800"/>
<path d="M22,246.34 Q46.5,247.89 71,251.04" fill="none" stroke="#FF8800" stroke-width="0.35" stroke-opacity="0.6"/>
<path d="M91,251.04 Q113.8,247.89 136.6,246.34" fill="none" stroke="#FF8800" stroke-width="0.35" stroke-opacity="0.6"/>
<path d="M22,251.34 Q79.3,254.42 136.6,251.34" fill="none" stroke="#FF8800" stroke-width="1.2" stroke-opacity="0.45"/>
<rect x="43.92" y="247.14" width="5.15" height="2.4" fill="#fff"/>
<text x="46.5" y="249.19" font-size="2.4" fill="#222" text-anchor="middle" font-family="'Liberation Sans', Arial, sans-serif">4.0</text>
<rect x="75.17" y="252.28" width="8.05" height="2.4" fill="#fff"/>
<text x="79.2" y="254.33" font-size="2.4" fill="#222" text-anchor="middle" font-family="'Liberation Sans', Arial, sans-serif">138.0</text>
<rect x="110.92" y="246.84" width="5.15" height="2.4" fill="#fff"/>
<text x="113.5" y="248.89" font-size="2.4" fill="#222" text-anchor="middle" font-family="'Liberation Sans', Arial, sans-serif">7.0</text>
<text x="139.3" y="243.44" font-size="2.75" fill="#FF8800" text-anchor="end" font-family="'Liberation Sans', Arial, sans-serif" textLength="61.3" lengthAdjust="spacing">NA CKN4_1_CKN4_2_CKN4_3-1 IncLevel: 0.08</text>
<line x1="17" y1="257.92" x2="17" y2="266.52" stroke="#555" stroke-width="0.35"/>
<line x1="16.2" y1="266.52" x2="17" y2="266.52" stroke="#777" stroke-width="0.3"/>
<line x1="16.2" y1="264.37" x2="17" y2="264.37" stroke="#777" stroke-width="0.3"/>
<line x1="16.2" y1="262.22" x2="17" y2="262.22" stroke="#777" stroke-width="0.3"/>
<line x1="16.2" y1="260.07" x2="17" y2="260.07" stroke="#777" stroke-width="0.3"/>
<line x1="16.2" y1="257.92" x2="17" y2="257.92" stroke="#777" stroke-width="0.3"/>
<text x="0" y="0" font-size="2.6" font-weight="bold" fill="#333" text-anchor="middle" font-family="'Liberation Sans', Arial, sans-serif" transform="translate(2.8,260.62) rotate(-90)" textLength="7.6" lengthAdjust="spacingAndGlyphs">RPKM</text>
<text x="14" y="265.22" font-size="2.8" fill="#444" text-anchor="end" font-family="'Liberation Sans', Arial, sans-serif" textLength="5.95" lengthAdjust="spacingAndGlyphs">5</text>
<text x="14" y="263.12" font-size="2.8" fill="#444" text-anchor="end" font-family="'Liberation Sans', Arial, sans-serif" textLength="7" lengthAdjust="spacingAndGlyphs">10</text>
<text x="14" y="261.02" font-size="2.8" fill="#444" text-anchor="end" font-family="'Liberation Sans', Arial, sans-serif" textLength="7" lengthAdjust="spacingAndGlyphs">15</text>
<text x="14" y="258.92" font-size="2.8" fill="#444" text-anchor="end" font-family="'Liberation Sans', Arial, sans-serif" textLength="7" lengthAdjust="spacingAndGlyphs">20</text>
<path d="M17,266.52 L17,259.52 L22,259.52 L22,266.52 Z" fill="#FF8800"/>
<path d="M22,266.52 L22,266.32 L136.6,266.32 L136.6,266.52 Z" fill="#FF8800"/>
<path d="M71,266.52 L71,266.17 L91,266.17 L91,266.52 Z" fill="#FF8800"/>
<path d="M136.6,266.52 L136.6,260.52 L138,260.52 L139.5,260.52 L139.5,266.52 Z" fill="#FF8800"/>
<path d="M22,259.52 Q46.5,262.07 71,266.22" fill="none" stroke="#FF8800" stroke-width="0.35" stroke-opacity="0.6"/>
<path d="M91,266.22 Q113.8,262.57 136.6,260.52" fill="none" stroke="#FF8800" stroke-width="0.35" stroke-opacity="0.6"/>
<path d="M22,266.52 Q79.3,269.88 136.6,266.52" fill="none" stroke="#FF8800" stroke-width="1.2" stroke-opacity="0.45"/>
<rect x="43.2" y="262.32" width="6.6" height="2.4" fill="#fff"/>
<text x="46.5" y="264.37" font-size="2.4" fill="#222" text-anchor="middle" font-family="'Liberation Sans', Arial, sans-serif">54.0</text>
<rect x="75.17" y="267.6" width="8.05" height="2.4" fill="#fff"/>
<text x="79.2" y="269.65" font-size="2.4" fill="#222" text-anchor="middle" font-family="'Liberation Sans', Arial, sans-serif">175.0</text>
<rect x="110.2" y="262.02" width="6.6" height="2.4" fill="#fff"/>
<text x="113.5" y="264.07" font-size="2.4" fill="#222" text-anchor="middle" font-family="'Liberation Sans', Arial, sans-serif">39.0</text>
<text x="139.3" y="258.62" font-size="2.75" fill="#FF8800" text-anchor="end" font-family="'Liberation Sans', Arial, sans-serif" textLength="61.3" lengthAdjust="spacing">NA CKN4_1_CKN4_2_CKN4_3-2 IncLevel: 0.05</text>
<line x1="17" y1="273.1" x2="17" y2="281.7" stroke="#555" stroke-width="0.35"/>
<line x1="16.2" y1="281.7" x2="17" y2="281.7" stroke="#777" stroke-width="0.3"/>
<line x1="16.2" y1="279.55" x2="17" y2="279.55" stroke="#777" stroke-width="0.3"/>
<line x1="16.2" y1="277.4" x2="17" y2="277.4" stroke="#777" stroke-width="0.3"/>
<line x1="16.2" y1="275.25" x2="17" y2="275.25" stroke="#777" stroke-width="0.3"/>
<line x1="16.2" y1="273.1" x2="17" y2="273.1" stroke="#777" stroke-width="0.3"/>
<text x="0" y="0" font-size="2.6" font-weight="bold" fill="#333" text-anchor="middle" font-family="'Liberation Sans', Arial, sans-serif" transform="translate(2.8,275.8) rotate(-90)" textLength="7.6" lengthAdjust="spacingAndGlyphs">RPKM</text>
<text x="14" y="280.4" font-size="2.8" fill="#444" text-anchor="end" font-family="'Liberation Sans', Arial, sans-serif" textLength="5.95" lengthAdjust="spacingAndGlyphs">5</text>
<text x="14" y="278.3" font-size="2.8" fill="#444" text-anchor="end" font-family="'Liberation Sans', Arial, sans-serif" textLength="7" lengthAdjust="spacingAndGlyphs">10</text>
<text x="14" y="276.2" font-size="2.8" fill="#444" text-anchor="end" font-family="'Liberation Sans', Arial, sans-serif" textLength="7" lengthAdjust="spacingAndGlyphs">15</text>
<text x="14" y="274.1" font-size="2.8" fill="#444" text-anchor="end" font-family="'Liberation Sans', Arial, sans-serif" textLength="7" lengthAdjust="spacingAndGlyphs">20</text>
<path d="M17,281.7 L17,275.9 L22,275.9 L22,281.7 Z" fill="#FF8800"/>
<path d="M22,281.7 L22,281.5 L136.6,281.5 L136.6,281.7 Z" fill="#FF8800"/>
<path d="M71,281.7 L71,281.35 L91,281.35 L91,281.7 Z" fill="#FF8800"/>
<path d="M136.6,281.7 L136.6,276.2 L138,275.7 L139.5,275.7 L139.5,281.7 Z" fill="#FF8800"/>
<path d="M22,275.9 Q46.5,277.85 71,281.4" fill="none" stroke="#FF8800" stroke-width="0.35" stroke-opacity="0.6"/>
<path d="M91,281.4 Q113.8,278 136.6,276.2" fill="none" stroke="#FF8800" stroke-width="0.35" stroke-opacity="0.6"/>
<path d="M22,281.7 Q79.3,285.06 136.6,281.7" fill="none" stroke="#FF8800" stroke-width="1.2" stroke-opacity="0.45"/>
<rect x="43.2" y="277.5" width="6.6" height="2.4" fill="#fff"/>
<text x="46.5" y="279.55" font-size="2.4" fill="#222" text-anchor="middle" font-family="'Liberation Sans', Arial, sans-serif">54.0</text>
<rect x="75.17" y="282.78" width="8.05" height="2.4" fill="#fff"/>
<text x="79.2" y="284.83" font-size="2.4" fill="#222" text-anchor="middle" font-family="'Liberation Sans', Arial, sans-serif">193.0</text>
<rect x="110.2" y="277.2" width="6.6" height="2.4" fill="#fff"/>
<text x="113.5" y="279.25" font-size="2.4" fill="#222" text-anchor="middle" font-family="'Liberation Sans', Arial, sans-serif">12.0</text>
<text x="139.3" y="273.8" font-size="2.75" fill="#FF8800" text-anchor="end" font-family="'Liberation Sans', Arial, sans-serif" textLength="61.3" lengthAdjust="spacing">NA CKN4_1_CKN4_2_CKN4_3-3 IncLevel: 0.04</text>
<line x1="17" y1="287.4" x2="139.3" y2="287.4" stroke="#444" stroke-width="0.4"/>
<line x1="17" y1="287.4" x2="17" y2="288.7" stroke="#444" stroke-width="0.35"/>
<text x="17" y="291.7" font-size="2.6" fill="#333" text-anchor="middle" font-family="'Liberation Sans', Arial, sans-serif" textLength="10.4" lengthAdjust="spacingAndGlyphs">17451334</text>
<line x1="41.46" y1="287.4" x2="41.46" y2="288.7" stroke="#444" stroke-width="0.35"/>
<text x="41.46" y="291.7" font-size="2.6" fill="#333" text-anchor="middle" font-family="'Liberation Sans', Arial, sans-serif" textLength="10.4" lengthAdjust="spacingAndGlyphs">17451585</text>
<line x1="65.92" y1="287.4" x2="65.92" y2="288.7" stroke="#444" stroke-width="0.35"/>
<text x="65.92" y="291.7" font-size="2.6" fill="#333" text-anchor="middle" font-family="'Liberation Sans', Arial, sans-serif" textLength="10.4" lengthAdjust="spacingAndGlyphs">17451836</text>
<line x1="90.38" y1="287.4" x2="90.38" y2="288.7" stroke="#444" stroke-width="0.35"/>
<text x="90.38" y="291.7" font-size="2.6" fill="#333" text-anchor="middle" font-family="'Liberation Sans', Arial, sans-serif" textLength="10.4" lengthAdjust="spacingAndGlyphs">17452087</text>
<line x1="114.84" y1="287.4" x2="114.84" y2="288.7" stroke="#444" stroke-width="0.35"/>
<text x="114.84" y="291.7" font-size="2.6" fill="#333" text-anchor="middle" font-family="'Liberation Sans', Arial, sans-serif" textLength="10.4" lengthAdjust="spacingAndGlyphs">17452338</text>
<line x1="139.3" y1="287.4" x2="139.3" y2="288.7" stroke="#444" stroke-width="0.35"/>
<text x="139.3" y="291.7" font-size="2.6" fill="#333" text-anchor="middle" font-family="'Liberation Sans', Arial, sans-serif" textLength="10.4" lengthAdjust="spacingAndGlyphs">17452591</text>
<text x="51" y="295.5" font-size="3" fill="#222" text-anchor="start" font-family="'Liberation Sans', Arial, sans-serif" textLength="55.5" lengthAdjust="spacingAndGlyphs">Genomic coordinate (Chr5), &quot;+&quot; strand</text>
<text x="47.2" y="309.8" font-size="6.1" fill="#111" text-anchor="start" font-family="'Liberation Serif', 'Times New Roman', serif" textLength="54.6" lengthAdjust="spacingAndGlyphs" stroke="#000" stroke-width="0.1">SE: LOC_Os05g30140</text>
<line x1="17" y1="318.7" x2="139.3" y2="318.7" stroke="#333" stroke-width="0.9" stroke-dasharray="1.2 1.2"/>
<rect x="17" y="317.35" width="5" height="2.7" fill="#000"/>
<rect x="71" y="317.35" width="19.9" height="2.7" fill="#000"/>
<rect x="136.6" y="317.35" width="2.9" height="2.7" fill="#000"/>
<line x1="17" y1="328.5" x2="139.3" y2="328.5" stroke="#333" stroke-width="0.9" stroke-dasharray="1.2 1.2"/>
<rect x="17" y="327.15" width="5" height="2.7" fill="#000"/>
<rect x="136.6" y="327.15" width="2.9" height="2.7" fill="#000"/>
<text x="172.6" y="174.5" font-size="8" fill="#111" text-anchor="start" font-family="'Liberation Serif', 'Times New Roman', serif" stroke="#111" stroke-width="0.15">E</text>
<text x="196.1" y="182.2" font-size="3.7" fill="#222" text-anchor="start" font-family="'Liberation Sans', Arial, sans-serif" textLength="139.4" lengthAdjust="spacing" stroke="#222" stroke-width="0.08">Chr6:8133172:8133420:-@Chr6:8133172:8133444:-@Chr6:8134310:8134491:-</text>
<line x1="190" y1="197.2" x2="190" y2="205.8" stroke="#555" stroke-width="0.35"/>
<line x1="189.2" y1="205.8" x2="190" y2="205.8" stroke="#777" stroke-width="0.3"/>
<line x1="189.2" y1="203.65" x2="190" y2="203.65" stroke="#777" stroke-width="0.3"/>
<line x1="189.2" y1="201.5" x2="190" y2="201.5" stroke="#777" stroke-width="0.3"/>
<line x1="189.2" y1="199.35" x2="190" y2="199.35" stroke="#777" stroke-width="0.3"/>
<line x1="189.2" y1="197.2" x2="190" y2="197.2" stroke="#777" stroke-width="0.3"/>
<text x="0" y="0" font-size="2.6" font-weight="bold" fill="#333" text-anchor="middle" font-family="'Liberation Sans', Arial, sans-serif" transform="translate(175.3,199.9) rotate(-90)" textLength="7.6" lengthAdjust="spacingAndGlyphs">RPKM</text>
<text x="187.6" y="204.5" font-size="2.8" fill="#444" text-anchor="end" font-family="'Liberation Sans', Arial, sans-serif" textLength="7.65" lengthAdjust="spacingAndGlyphs">200</text>
<text x="187.6" y="202.4" font-size="2.8" fill="#444" text-anchor="end" font-family="'Liberation Sans', Arial, sans-serif" textLength="9" lengthAdjust="spacingAndGlyphs">400</text>
<text x="187.6" y="200.3" font-size="2.8" fill="#444" text-anchor="end" font-family="'Liberation Sans', Arial, sans-serif" textLength="9" lengthAdjust="spacingAndGlyphs">600</text>
<text x="187.6" y="198.2" font-size="2.8" fill="#444" text-anchor="end" font-family="'Liberation Sans', Arial, sans-serif" textLength="9" lengthAdjust="spacingAndGlyphs">800</text>
<path d="M190,205.8 L190,205.5 L194,205 L197,204.5 L199,203.2 L201,202.2 L203,201.5 L206.9,201.4 L206.9,205.8 Z" fill="#D50012"/>
<path d="M289.5,205.8 L289.5,202.2 L291,202.4 L293,203 L295,203.4 L298,203.3 L300,202.8 L302,201.5 L305,201.3 L308,201.3 L312.3,201.5 L312.3,205.8 Z" fill="#D50012"/>
<path d="M206.9,201.4 C206.9,200 289.5,200 289.5,202.2" fill="none" stroke="#D50012" stroke-width="0.7" stroke-opacity="0.8"/>
<path d="M206.9,202.72 C206.9,201.76 287.3,201.76 287.3,203.64" fill="none" stroke="#D50012" stroke-width="0.45" stroke-opacity="0.6"/>
<rect x="243.78" y="199.6" width="8.05" height="2.4" fill="#fff"/>
<text x="247.8" y="201.65" font-size="2.4" fill="#222" text-anchor="middle" font-family="'Liberation Sans', Arial, sans-serif">207.0</text>
<text x="312.3" y="197.9" font-size="2.75" fill="#D50012" text-anchor="end" font-family="'Liberation Sans', Arial, sans-serif" textLength="64.3" lengthAdjust="spacing">NA MDN4_1_MDN4_2_MDN4_3-1 IncLevel: 0.11</text>
<line x1="190" y1="212.38" x2="190" y2="220.98" stroke="#555" stroke-width="0.35"/>
<line x1="189.2" y1="220.98" x2="190" y2="220.98" stroke="#777" stroke-width="0.3"/>
<line x1="189.2" y1="218.83" x2="190" y2="218.83" stroke="#777" stroke-width="0.3"/>
<line x1="189.2" y1="216.68" x2="190" y2="216.68" stroke="#777" stroke-width="0.3"/>
<line x1="189.2" y1="214.53" x2="190" y2="214.53" stroke="#777" stroke-width="0.3"/>
<line x1="189.2" y1="212.38" x2="190" y2="212.38" stroke="#777" stroke-width="0.3"/>
<text x="0" y="0" font-size="2.6" font-weight="bold" fill="#333" text-anchor="middle" font-family="'Liberation Sans', Arial, sans-serif" transform="translate(175.3,215.08) rotate(-90)" textLength="7.6" lengthAdjust="spacingAndGlyphs">RPKM</text>
<text x="187.6" y="219.68" font-size="2.8" fill="#444" text-anchor="end" font-family="'Liberation Sans', Arial, sans-serif" textLength="7.65" lengthAdjust="spacingAndGlyphs">200</text>
<text x="187.6" y="217.58" font-size="2.8" fill="#444" text-anchor="end" font-family="'Liberation Sans', Arial, sans-serif" textLength="9" lengthAdjust="spacingAndGlyphs">400</text>
<text x="187.6" y="215.48" font-size="2.8" fill="#444" text-anchor="end" font-family="'Liberation Sans', Arial, sans-serif" textLength="9" lengthAdjust="spacingAndGlyphs">600</text>
<text x="187.6" y="213.38" font-size="2.8" fill="#444" text-anchor="end" font-family="'Liberation Sans', Arial, sans-serif" textLength="9" lengthAdjust="spacingAndGlyphs">800</text>
<path d="M190,220.98 L190,220.52 L194,219.74 L197,218.97 L199,216.96 L201,215.42 L203,214.33 L206.9,214.18 L206.9,220.98 Z" fill="#D50012"/>
<path d="M289.5,220.98 L289.5,214.5 L291,214.86 L293,215.94 L295,216.66 L298,216.48 L300,215.58 L302,213.24 L305,212.88 L308,212.88 L312.3,213.24 L312.3,220.98 Z" fill="#D50012"/>
<path d="M206.9,214.18 C206.9,212.78 289.5,212.78 289.5,214.5" fill="none" stroke="#D50012" stroke-width="0.7" stroke-opacity="0.8"/>
<path d="M206.9,216.22 C206.9,214.9 287.3,214.9 287.3,217.09" fill="none" stroke="#D50012" stroke-width="0.45" stroke-opacity="0.6"/>
<rect x="243.78" y="212.38" width="8.05" height="2.4" fill="#fff"/>
<text x="247.8" y="214.43" font-size="2.4" fill="#222" text-anchor="middle" font-family="'Liberation Sans', Arial, sans-serif">307.0</text>
<text x="312.3" y="213.08" font-size="2.75" fill="#D50012" text-anchor="end" font-family="'Liberation Sans', Arial, sans-serif" textLength="64.3" lengthAdjust="spacing">NA MDN4_1_MDN4_2_MDN4_3-2 IncLevel: 0.17</text>
<line x1="190" y1="227.56" x2="190" y2="236.16" stroke="#555" stroke-width="0.35"/>
<line x1="189.2" y1="236.16" x2="190" y2="236.16" stroke="#777" stroke-width="0.3"/>
<line x1="189.2" y1="234.01" x2="190" y2="234.01" stroke="#777" stroke-width="0.3"/>
<line x1="189.2" y1="231.86" x2="190" y2="231.86" stroke="#777" stroke-width="0.3"/>
<line x1="189.2" y1="229.71" x2="190" y2="229.71" stroke="#777" stroke-width="0.3"/>
<line x1="189.2" y1="227.56" x2="190" y2="227.56" stroke="#777" stroke-width="0.3"/>
<text x="0" y="0" font-size="2.6" font-weight="bold" fill="#333" text-anchor="middle" font-family="'Liberation Sans', Arial, sans-serif" transform="translate(175.3,230.26) rotate(-90)" textLength="7.6" lengthAdjust="spacingAndGlyphs">RPKM</text>
<text x="187.6" y="234.86" font-size="2.8" fill="#444" text-anchor="end" font-family="'Liberation Sans', Arial, sans-serif" textLength="7.65" lengthAdjust="spacingAndGlyphs">200</text>
<text x="187.6" y="232.76" font-size="2.8" fill="#444" text-anchor="end" font-family="'Liberation Sans', Arial, sans-serif" textLength="9" lengthAdjust="spacingAndGlyphs">400</text>
<text x="187.6" y="230.66" font-size="2.8" fill="#444" text-anchor="end" font-family="'Liberation Sans', Arial, sans-serif" textLength="9" lengthAdjust="spacingAndGlyphs">600</text>
<text x="187.6" y="228.56" font-size="2.8" fill="#444" text-anchor="end" font-family="'Liberation Sans', Arial, sans-serif" textLength="9" lengthAdjust="spacingAndGlyphs">800</text>
<path d="M190,236.16 L190,235.85 L194,235.34 L197,234.83 L199,233.5 L201,232.48 L203,231.76 L206.9,231.66 L206.9,236.16 Z" fill="#D50012"/>
<path d="M289.5,236.16 L289.5,232.02 L291,232.25 L293,232.94 L295,233.4 L298,233.28 L300,232.71 L302,231.21 L305,230.98 L308,230.98 L312.3,231.21 L312.3,236.16 Z" fill="#D50012"/>
<path d="M206.9,231.66 C206.9,230.26 289.5,230.26 289.5,232.02" fill="none" stroke="#D50012" stroke-width="0.7" stroke-opacity="0.8"/>
<path d="M206.9,233.01 C206.9,232.03 287.3,232.03 287.3,233.68" fill="none" stroke="#D50012" stroke-width="0.45" stroke-opacity="0.6"/>
<rect x="243.78" y="229.86" width="8.05" height="2.4" fill="#fff"/>
<text x="247.8" y="231.91" font-size="2.4" fill="#222" text-anchor="middle" font-family="'Liberation Sans', Arial, sans-serif">197.0</text>
<text x="312.3" y="228.26" font-size="2.75" fill="#D50012" text-anchor="end" font-family="'Liberation Sans', Arial, sans-serif" textLength="64.3" lengthAdjust="spacing">NA MDN4_1_MDN4_2_MDN4_3-3 IncLevel: 0.28</text>
<line x1="190" y1="242.74" x2="190" y2="251.34" stroke="#555" stroke-width="0.35"/>
<line x1="189.2" y1="251.34" x2="190" y2="251.34" stroke="#777" stroke-width="0.3"/>
<line x1="189.2" y1="249.19" x2="190" y2="249.19" stroke="#777" stroke-width="0.3"/>
<line x1="189.2" y1="247.04" x2="190" y2="247.04" stroke="#777" stroke-width="0.3"/>
<line x1="189.2" y1="244.89" x2="190" y2="244.89" stroke="#777" stroke-width="0.3"/>
<line x1="189.2" y1="242.74" x2="190" y2="242.74" stroke="#777" stroke-width="0.3"/>
<text x="0" y="0" font-size="2.6" font-weight="bold" fill="#333" text-anchor="middle" font-family="'Liberation Sans', Arial, sans-serif" transform="translate(175.3,245.44) rotate(-90)" textLength="7.6" lengthAdjust="spacingAndGlyphs">RPKM</text>
<text x="187.6" y="250.04" font-size="2.8" fill="#444" text-anchor="end" font-family="'Liberation Sans', Arial, sans-serif" textLength="7.65" lengthAdjust="spacingAndGlyphs">200</text>
<text x="187.6" y="247.94" font-size="2.8" fill="#444" text-anchor="end" font-family="'Liberation Sans', Arial, sans-serif" textLength="9" lengthAdjust="spacingAndGlyphs">400</text>
<text x="187.6" y="245.84" font-size="2.8" fill="#444" text-anchor="end" font-family="'Liberation Sans', Arial, sans-serif" textLength="9" lengthAdjust="spacingAndGlyphs">600</text>
<text x="187.6" y="243.74" font-size="2.8" fill="#444" text-anchor="end" font-family="'Liberation Sans', Arial, sans-serif" textLength="9" lengthAdjust="spacingAndGlyphs">800</text>
<path d="M190,251.34 L190,251.11 L194,250.72 L197,250.34 L199,249.33 L201,248.56 L203,248.02 L206.9,247.94 L206.9,251.34 Z" fill="#FF8800"/>
<path d="M289.5,251.34 L289.5,248.1 L291,248.28 L293,248.82 L295,249.18 L298,249.09 L300,248.64 L302,247.47 L305,247.29 L308,247.29 L312.3,247.47 L312.3,251.34 Z" fill="#FF8800"/>
<path d="M206.9,247.94 C206.9,246.54 289.5,246.54 289.5,248.1" fill="none" stroke="#FF8800" stroke-width="0.7" stroke-opacity="0.8"/>
<path d="M206.9,248.96 C206.9,248.15 287.3,248.15 287.3,249.4" fill="none" stroke="#FF8800" stroke-width="0.45" stroke-opacity="0.6"/>
<rect x="243.78" y="246.14" width="8.05" height="2.4" fill="#fff"/>
<text x="247.8" y="248.19" font-size="2.4" fill="#222" text-anchor="middle" font-family="'Liberation Sans', Arial, sans-serif">219.0</text>
<text x="312.3" y="243.44" font-size="2.75" fill="#FF8800" text-anchor="end" font-family="'Liberation Sans', Arial, sans-serif" textLength="62.3" lengthAdjust="spacing">NA CKN4_1_CKN4_2_CKN4_3-1 IncLevel: 0.01</text>
<line x1="190" y1="257.92" x2="190" y2="266.52" stroke="#555" stroke-width="0.35"/>
<line x1="189.2" y1="266.52" x2="190" y2="266.52" stroke="#777" stroke-width="0.3"/>
<line x1="189.2" y1="264.37" x2="190" y2="264.37" stroke="#777" stroke-width="0.3"/>
<line x1="189.2" y1="262.22" x2="190" y2="262.22" stroke="#777" stroke-width="0.3"/>
<line x1="189.2" y1="260.07" x2="190" y2="260.07" stroke="#777" stroke-width="0.3"/>
<line x1="189.2" y1="257.92" x2="190" y2="257.92" stroke="#777" stroke-width="0.3"/>
<text x="0" y="0" font-size="2.6" font-weight="bold" fill="#333" text-anchor="middle" font-family="'Liberation Sans', Arial, sans-serif" transform="translate(175.3,260.62) rotate(-90)" textLength="7.6" lengthAdjust="spacingAndGlyphs">RPKM</text>
<text x="187.6" y="265.22" font-size="2.8" fill="#444" text-anchor="end" font-family="'Liberation Sans', Arial, sans-serif" textLength="7.65" lengthAdjust="spacingAndGlyphs">200</text>
<text x="187.6" y="263.12" font-size="2.8" fill="#444" text-anchor="end" font-family="'Liberation Sans', Arial, sans-serif" textLength="9" lengthAdjust="spacingAndGlyphs">400</text>
<text x="187.6" y="261.02" font-size="2.8" fill="#444" text-anchor="end" font-family="'Liberation Sans', Arial, sans-serif" textLength="9" lengthAdjust="spacingAndGlyphs">600</text>
<text x="187.6" y="258.92" font-size="2.8" fill="#444" text-anchor="end" font-family="'Liberation Sans', Arial, sans-serif" textLength="9" lengthAdjust="spacingAndGlyphs">800</text>
<path d="M190,266.52 L190,266.14 L194,265.5 L197,264.87 L199,263.21 L201,261.94 L203,261.05 L206.9,260.92 L206.9,266.52 Z" fill="#FF8800"/>
<path d="M289.5,266.52 L289.5,260.22 L291,260.57 L293,261.62 L295,262.32 L298,262.14 L300,261.27 L302,259 L305,258.64 L308,258.64 L312.3,259 L312.3,266.52 Z" fill="#FF8800"/>
<path d="M206.9,260.92 C206.9,259.52 289.5,259.52 289.5,260.22" fill="none" stroke="#FF8800" stroke-width="0.7" stroke-opacity="0.8"/>
<path d="M206.9,262.6 C206.9,261.46 287.3,261.46 287.3,262.74" fill="none" stroke="#FF8800" stroke-width="0.45" stroke-opacity="0.6"/>
<rect x="243.78" y="259.12" width="8.05" height="2.4" fill="#fff"/>
<text x="247.8" y="261.17" font-size="2.4" fill="#222" text-anchor="middle" font-family="'Liberation Sans', Arial, sans-serif">281.0</text>
<text x="312.3" y="258.62" font-size="2.75" fill="#FF8800" text-anchor="end" font-family="'Liberation Sans', Arial, sans-serif" textLength="62.3" lengthAdjust="spacing">NA CKN4_1_CKN4_2_CKN4_3-2 IncLevel: 0.08</text>
<line x1="190" y1="273.1" x2="190" y2="281.7" stroke="#555" stroke-width="0.35"/>
<line x1="189.2" y1="281.7" x2="190" y2="281.7" stroke="#777" stroke-width="0.3"/>
<line x1="189.2" y1="279.55" x2="190" y2="279.55" stroke="#777" stroke-width="0.3"/>
<line x1="189.2" y1="277.4" x2="190" y2="277.4" stroke="#777" stroke-width="0.3"/>
<line x1="189.2" y1="275.25" x2="190" y2="275.25" stroke="#777" stroke-width="0.3"/>
<line x1="189.2" y1="273.1" x2="190" y2="273.1" stroke="#777" stroke-width="0.3"/>
<text x="0" y="0" font-size="2.6" font-weight="bold" fill="#333" text-anchor="middle" font-family="'Liberation Sans', Arial, sans-serif" transform="translate(175.3,275.8) rotate(-90)" textLength="7.6" lengthAdjust="spacingAndGlyphs">RPKM</text>
<text x="187.6" y="280.4" font-size="2.8" fill="#444" text-anchor="end" font-family="'Liberation Sans', Arial, sans-serif" textLength="7.65" lengthAdjust="spacingAndGlyphs">200</text>
<text x="187.6" y="278.3" font-size="2.8" fill="#444" text-anchor="end" font-family="'Liberation Sans', Arial, sans-serif" textLength="9" lengthAdjust="spacingAndGlyphs">400</text>
<text x="187.6" y="276.2" font-size="2.8" fill="#444" text-anchor="end" font-family="'Liberation Sans', Arial, sans-serif" textLength="9" lengthAdjust="spacingAndGlyphs">600</text>
<text x="187.6" y="274.1" font-size="2.8" fill="#444" text-anchor="end" font-family="'Liberation Sans', Arial, sans-serif" textLength="9" lengthAdjust="spacingAndGlyphs">800</text>
<path d="M190,281.7 L190,281.41 L194,280.94 L197,280.46 L199,279.22 L201,278.26 L203,277.6 L206.9,277.5 L206.9,281.7 Z" fill="#FF8800"/>
<path d="M289.5,281.7 L289.5,277.74 L291,277.96 L293,278.62 L295,279.06 L298,278.95 L300,278.4 L302,276.97 L305,276.75 L308,276.75 L312.3,276.97 L312.3,281.7 Z" fill="#FF8800"/>
<path d="M206.9,277.5 C206.9,276.1 289.5,276.1 289.5,277.74" fill="none" stroke="#FF8800" stroke-width="0.7" stroke-opacity="0.8"/>
<path d="M206.9,278.76 C206.9,277.83 287.3,277.83 287.3,279.32" fill="none" stroke="#FF8800" stroke-width="0.45" stroke-opacity="0.6"/>
<rect x="243.78" y="275.7" width="8.05" height="2.4" fill="#fff"/>
<text x="247.8" y="277.75" font-size="2.4" fill="#222" text-anchor="middle" font-family="'Liberation Sans', Arial, sans-serif">179.0</text>
<text x="312.3" y="273.8" font-size="2.75" fill="#FF8800" text-anchor="end" font-family="'Liberation Sans', Arial, sans-serif" textLength="62.3" lengthAdjust="spacing">NA CKN4_1_CKN4_2_CKN4_3-3 IncLevel: 0.03</text>
<line x1="190" y1="287.4" x2="312.3" y2="287.4" stroke="#444" stroke-width="0.4"/>
<line x1="190" y1="287.4" x2="190" y2="288.7" stroke="#444" stroke-width="0.35"/>
<text x="190" y="291.7" font-size="2.6" fill="#333" text-anchor="middle" font-family="'Liberation Sans', Arial, sans-serif" textLength="9.1" lengthAdjust="spacingAndGlyphs">8133172</text>
<line x1="214.46" y1="287.4" x2="214.46" y2="288.7" stroke="#444" stroke-width="0.35"/>
<text x="214.46" y="291.7" font-size="2.6" fill="#333" text-anchor="middle" font-family="'Liberation Sans', Arial, sans-serif" textLength="9.1" lengthAdjust="spacingAndGlyphs">8133436</text>
<line x1="238.92" y1="287.4" x2="238.92" y2="288.7" stroke="#444" stroke-width="0.35"/>
<text x="238.92" y="291.7" font-size="2.6" fill="#333" text-anchor="middle" font-family="'Liberation Sans', Arial, sans-serif" textLength="9.1" lengthAdjust="spacingAndGlyphs">8133700</text>
<line x1="263.38" y1="287.4" x2="263.38" y2="288.7" stroke="#444" stroke-width="0.35"/>
<text x="263.38" y="291.7" font-size="2.6" fill="#333" text-anchor="middle" font-family="'Liberation Sans', Arial, sans-serif" textLength="9.1" lengthAdjust="spacingAndGlyphs">8133964</text>
<line x1="287.84" y1="287.4" x2="287.84" y2="288.7" stroke="#444" stroke-width="0.35"/>
<text x="287.84" y="291.7" font-size="2.6" fill="#333" text-anchor="middle" font-family="'Liberation Sans', Arial, sans-serif" textLength="9.1" lengthAdjust="spacingAndGlyphs">8134228</text>
<line x1="312.3" y1="287.4" x2="312.3" y2="288.7" stroke="#444" stroke-width="0.35"/>
<text x="312.3" y="291.7" font-size="2.6" fill="#333" text-anchor="middle" font-family="'Liberation Sans', Arial, sans-serif" textLength="9.1" lengthAdjust="spacingAndGlyphs">8134491</text>
<text x="223.5" y="295.5" font-size="3" fill="#222" text-anchor="start" font-family="'Liberation Sans', Arial, sans-serif" textLength="55.5" lengthAdjust="spacingAndGlyphs">Genomic coordinate (Chr6), &quot;-&quot; strand</text>
<text x="222" y="309.5" font-size="6.1" fill="#111" text-anchor="start" font-family="'Liberation Serif', 'Times New Roman', serif" textLength="62.5" lengthAdjust="spacingAndGlyphs" stroke="#000" stroke-width="0.1">A3SS: LOC_Os06g14470</text>
<line x1="190" y1="318.7" x2="312.3" y2="318.7" stroke="#333" stroke-width="0.9" stroke-dasharray="1.2 1.2"/>
<rect x="190" y="317.35" width="17.2" height="2.7" fill="#000"/>
<rect x="287.3" y="317.35" width="25" height="2.7" fill="#000"/>
<line x1="190" y1="328.5" x2="312.3" y2="328.5" stroke="#333" stroke-width="0.9" stroke-dasharray="1.2 1.2"/>
<rect x="287.3" y="327.15" width="25" height="2.7" fill="#000"/>
<text x="366.3" y="174.5" font-size="8" fill="#111" text-anchor="start" font-family="'Liberation Serif', 'Times New Roman', serif" stroke="#111" stroke-width="0.15">F</text>
<text x="382.2" y="182.2" font-size="3.7" fill="#222" text-anchor="start" font-family="'Liberation Sans', Arial, sans-serif" textLength="153.3" lengthAdjust="spacing" stroke="#222" stroke-width="0.08">Chr7:28470198:28470777:-@Chr7:28469072:28470777:-@Chr7:28469072:28470126:-</text>
<line x1="383.3" y1="197.2" x2="383.3" y2="205.8" stroke="#555" stroke-width="0.35"/>
<line x1="382.5" y1="205.8" x2="383.3" y2="205.8" stroke="#777" stroke-width="0.3"/>
<line x1="382.5" y1="203.65" x2="383.3" y2="203.65" stroke="#777" stroke-width="0.3"/>
<line x1="382.5" y1="201.5" x2="383.3" y2="201.5" stroke="#777" stroke-width="0.3"/>
<line x1="382.5" y1="199.35" x2="383.3" y2="199.35" stroke="#777" stroke-width="0.3"/>
<line x1="382.5" y1="197.2" x2="383.3" y2="197.2" stroke="#777" stroke-width="0.3"/>
<text x="0" y="0" font-size="2.6" font-weight="bold" fill="#333" text-anchor="middle" font-family="'Liberation Sans', Arial, sans-serif" transform="translate(367.3,199.9) rotate(-90)" textLength="7.6" lengthAdjust="spacingAndGlyphs">RPKM</text>
<text x="381.3" y="204.5" font-size="2.8" fill="#444" text-anchor="end" font-family="'Liberation Sans', Arial, sans-serif" textLength="9.27" lengthAdjust="spacingAndGlyphs">2500</text>
<text x="381.3" y="202.4" font-size="2.8" fill="#444" text-anchor="end" font-family="'Liberation Sans', Arial, sans-serif" textLength="10.9" lengthAdjust="spacingAndGlyphs">5000</text>
<text x="381.3" y="200.3" font-size="2.8" fill="#444" text-anchor="end" font-family="'Liberation Sans', Arial, sans-serif" textLength="10.9" lengthAdjust="spacingAndGlyphs">7500</text>
<text x="381.3" y="198.2" font-size="2.8" fill="#444" text-anchor="end" font-family="'Liberation Sans', Arial, sans-serif" textLength="10.9" lengthAdjust="spacingAndGlyphs">10000</text>
<path d="M383.3,205.8 L383.3,205.35 L395,205.3 L409,205.3 L409.6,204.4 L413.3,204.6 L413.3,205.8 Z" fill="#D50012"/>
<path d="M417,205.8 L417,204.6 L420,204.5 L422.7,204.7 L422.7,205.8 Z" fill="#D50012"/>
<path d="M432,205.8 L432,205.3 L440,205.35 L447,205.45 L452,205.6 L469,205.6 L469,205.8 Z" fill="#D50012"/>
<path d="M469,205.8 L469,205.56 L469.5,205.46 L470,205.46 L470.5,205.38 L471,205.34 L471.5,205.44 L472,205.42 L472.5,205.13 L473,205.18 L473.5,205.1 L474,204.83 L474.5,204.87 L475,204.69 L475.5,204.69 L476,204.57 L476.5,204.58 L477,204.37 L477.5,204.21 L478,204.19 L478.5,204.04 L479,203.96 L479.5,204 L480,203.74 L480.5,203.7 L481,203.7 L481.5,203.69 L482,203.41 L482.5,203.43 L483,203.3 L483.5,203.18 L484,203.15 L484.5,203.06 L485,203.14 L485.5,203 L486,203.04 L486.5,202.88 L487,202.85 L487.5,202.99 L488,202.94 L488.5,202.89 L489,202.68 L489.5,202.77 L490,202.69 L490.5,202.74 L491,202.66 L491.5,202.66 L492,202.64 L492.5,202.55 L493,202.51 L493.5,202.4 L494,202.42 L494.5,202.33 L495,202.31 L495.52,202.24 L496.04,202.28 L496.56,202.36 L497.08,202.15 L497.6,202.2 L497.6,205.8 Z" fill="#D50012"/>
<path d="M497.6,205.8 L497.6,205.65 L505.6,205.65 L505.6,205.8 Z" fill="#D50012"/>
<path d="M422.7,205.3 C422.7,207.4 432,207.4 432,205.4" fill="none" stroke="#D50012" stroke-width="0.5" stroke-opacity="0.6"/>
<rect x="423.28" y="206.4" width="8.05" height="2.4" fill="#fff"/>
<text x="427.3" y="208.45" font-size="2.4" fill="#222" text-anchor="middle" font-family="'Liberation Sans', Arial, sans-serif">277.0</text>
<text x="505.6" y="197.9" font-size="2.75" fill="#D50012" text-anchor="end" font-family="'Liberation Sans', Arial, sans-serif" textLength="64" lengthAdjust="spacing">NA MDN4_1_MDN4_2_MDN4_3-1 IncLevel: 0.02</text>
<line x1="383.3" y1="212.38" x2="383.3" y2="220.98" stroke="#555" stroke-width="0.35"/>
<line x1="382.5" y1="220.98" x2="383.3" y2="220.98" stroke="#777" stroke-width="0.3"/>
<line x1="382.5" y1="218.83" x2="383.3" y2="218.83" stroke="#777" stroke-width="0.3"/>
<line x1="382.5" y1="216.68" x2="383.3" y2="216.68" stroke="#777" stroke-width="0.3"/>
<line x1="382.5" y1="214.53" x2="383.3" y2="214.53" stroke="#777" stroke-width="0.3"/>
<line x1="382.5" y1="212.38" x2="383.3" y2="212.38" stroke="#777" stroke-width="0.3"/>
<text x="0" y="0" font-size="2.6" font-weight="bold" fill="#333" text-anchor="middle" font-family="'Liberation Sans', Arial, sans-serif" transform="translate(367.3,215.08) rotate(-90)" textLength="7.6" lengthAdjust="spacingAndGlyphs">RPKM</text>
<text x="381.3" y="219.68" font-size="2.8" fill="#444" text-anchor="end" font-family="'Liberation Sans', Arial, sans-serif" textLength="9.27" lengthAdjust="spacingAndGlyphs">2500</text>
<text x="381.3" y="217.58" font-size="2.8" fill="#444" text-anchor="end" font-family="'Liberation Sans', Arial, sans-serif" textLength="10.9" lengthAdjust="spacingAndGlyphs">5000</text>
<text x="381.3" y="215.48" font-size="2.8" fill="#444" text-anchor="end" font-family="'Liberation Sans', Arial, sans-serif" textLength="10.9" lengthAdjust="spacingAndGlyphs">7500</text>
<text x="381.3" y="213.38" font-size="2.8" fill="#444" text-anchor="end" font-family="'Liberation Sans', Arial, sans-serif" textLength="10.9" lengthAdjust="spacingAndGlyphs">10000</text>
<path d="M383.3,220.98 L383.3,220.53 L395,220.48 L409,220.48 L409.6,219.58 L413.3,219.78 L413.3,220.98 Z" fill="#D50012"/>
<path d="M417,220.98 L417,219.78 L420,219.68 L422.7,219.88 L422.7,220.98 Z" fill="#D50012"/>
<path d="M432,220.98 L432,220.48 L440,220.53 L447,220.63 L452,220.78 L469,220.78 L469,220.98 Z" fill="#D50012"/>
<path d="M469,220.98 L469,220.57 L469.5,220.46 L470,220.42 L470.5,220.26 L471,220.25 L471.5,219.98 L472,219.92 L472.5,219.81 L473,219.68 L473.5,219.31 L474,219.09 L474.5,219.13 L475,218.77 L475.5,218.68 L476,218.56 L476.5,218.32 L477,218 L477.5,217.77 L478,217.76 L478.5,217.41 L479,217.34 L479.5,216.97 L480,216.85 L480.5,216.57 L481,216.39 L481.5,216.34 L482,216.07 L482.5,216.08 L483,215.98 L483.5,215.7 L484,215.68 L484.5,215.54 L485,215.4 L485.5,215.26 L486,215.28 L486.5,215.22 L487,214.93 L487.5,214.97 L488,214.72 L488.5,214.67 L489,214.73 L489.5,214.65 L490,214.57 L490.5,214.47 L491,214.42 L491.5,214.36 L492,214.28 L492.5,214.14 L493,214.17 L493.5,214.12 L494,213.98 L494.5,214.03 L495,213.94 L495.52,213.7 L496.04,213.72 L496.56,213.64 L497.08,213.68 L497.6,213.48 L497.6,220.98 Z" fill="#D50012"/>
<path d="M497.6,220.98 L497.6,220.83 L505.6,220.83 L505.6,220.98 Z" fill="#D50012"/>
<path d="M422.7,220.48 C422.7,222.58 432,222.58 432,220.58" fill="none" stroke="#D50012" stroke-width="0.5" stroke-opacity="0.6"/>
<rect x="423.28" y="221.58" width="8.05" height="2.4" fill="#fff"/>
<text x="427.3" y="223.63" font-size="2.4" fill="#222" text-anchor="middle" font-family="'Liberation Sans', Arial, sans-serif">289.0</text>
<text x="505.6" y="213.08" font-size="2.75" fill="#D50012" text-anchor="end" font-family="'Liberation Sans', Arial, sans-serif" textLength="64" lengthAdjust="spacing">NA MDN4_1_MDN4_2_MDN4_3-2 IncLevel: 0.00</text>
<line x1="383.3" y1="227.56" x2="383.3" y2="236.16" stroke="#555" stroke-width="0.35"/>
<line x1="382.5" y1="236.16" x2="383.3" y2="236.16" stroke="#777" stroke-width="0.3"/>
<line x1="382.5" y1="234.01" x2="383.3" y2="234.01" stroke="#777" stroke-width="0.3"/>
<line x1="382.5" y1="231.86" x2="383.3" y2="231.86" stroke="#777" stroke-width="0.3"/>
<line x1="382.5" y1="229.71" x2="383.3" y2="229.71" stroke="#777" stroke-width="0.3"/>
<line x1="382.5" y1="227.56" x2="383.3" y2="227.56" stroke="#777" stroke-width="0.3"/>
<text x="0" y="0" font-size="2.6" font-weight="bold" fill="#333" text-anchor="middle" font-family="'Liberation Sans', Arial, sans-serif" transform="translate(367.3,230.26) rotate(-90)" textLength="7.6" lengthAdjust="spacingAndGlyphs">RPKM</text>
<text x="381.3" y="234.86" font-size="2.8" fill="#444" text-anchor="end" font-family="'Liberation Sans', Arial, sans-serif" textLength="9.27" lengthAdjust="spacingAndGlyphs">2500</text>
<text x="381.3" y="232.76" font-size="2.8" fill="#444" text-anchor="end" font-family="'Liberation Sans', Arial, sans-serif" textLength="10.9" lengthAdjust="spacingAndGlyphs">5000</text>
<text x="381.3" y="230.66" font-size="2.8" fill="#444" text-anchor="end" font-family="'Liberation Sans', Arial, sans-serif" textLength="10.9" lengthAdjust="spacingAndGlyphs">7500</text>
<text x="381.3" y="228.56" font-size="2.8" fill="#444" text-anchor="end" font-family="'Liberation Sans', Arial, sans-serif" textLength="10.9" lengthAdjust="spacingAndGlyphs">10000</text>
<path d="M383.3,236.16 L383.3,235.71 L395,235.66 L409,235.66 L409.6,234.76 L413.3,234.96 L413.3,236.16 Z" fill="#D50012"/>
<path d="M417,236.16 L417,234.96 L420,234.86 L422.7,235.06 L422.7,236.16 Z" fill="#D50012"/>
<path d="M432,236.16 L432,235.66 L440,235.71 L447,235.81 L452,235.96 L469,235.96 L469,236.16 Z" fill="#D50012"/>
<path d="M469,236.16 L469,235.88 L469.5,235.72 L470,235.73 L470.5,235.46 L471,235.33 L471.5,235.35 L472,235.09 L472.5,234.94 L473,234.71 L473.5,234.61 L474,234.34 L474.5,234.15 L475,234.14 L475.5,233.95 L476,233.62 L476.5,233.34 L477,233.3 L477.5,233.05 L478,232.8 L478.5,232.66 L479,232.44 L479.5,232.25 L480,232.02 L480.5,231.81 L481,231.73 L481.5,231.55 L482,231.3 L482.5,231.33 L483,231.04 L483.5,230.84 L484,230.79 L484.5,230.72 L485,230.49 L485.5,230.53 L486,230.45 L486.5,230.3 L487,230.15 L487.5,230.2 L488,230.06 L488.5,229.99 L489,229.8 L489.5,229.83 L490,229.67 L490.5,229.77 L491,229.66 L491.5,229.52 L492,229.4 L492.5,229.44 L493,229.42 L493.5,229.38 L494,229.21 L494.5,229.22 L495,229 L495.52,228.91 L496.04,228.99 L496.56,228.88 L497.08,228.67 L497.6,228.66 L497.6,236.16 Z" fill="#D50012"/>
<path d="M497.6,236.16 L497.6,236.01 L505.6,236.01 L505.6,236.16 Z" fill="#D50012"/>
<path d="M422.7,235.66 C422.7,237.76 432,237.76 432,235.76" fill="none" stroke="#D50012" stroke-width="0.5" stroke-opacity="0.6"/>
<rect x="423.28" y="236.76" width="8.05" height="2.4" fill="#fff"/>
<text x="427.3" y="238.81" font-size="2.4" fill="#222" text-anchor="middle" font-family="'Liberation Sans', Arial, sans-serif">218.0</text>
<text x="505.6" y="228.26" font-size="2.75" fill="#D50012" text-anchor="end" font-family="'Liberation Sans', Arial, sans-serif" textLength="64" lengthAdjust="spacing">NA MDN4_1_MDN4_2_MDN4_3-3 IncLevel: 0.06</text>
<line x1="383.3" y1="242.74" x2="383.3" y2="251.34" stroke="#555" stroke-width="0.35"/>
<line x1="382.5" y1="251.34" x2="383.3" y2="251.34" stroke="#777" stroke-width="0.3"/>
<line x1="382.5" y1="249.19" x2="383.3" y2="249.19" stroke="#777" stroke-width="0.3"/>
<line x1="382.5" y1="247.04" x2="383.3" y2="247.04" stroke="#777" stroke-width="0.3"/>
<line x1="382.5" y1="244.89" x2="383.3" y2="244.89" stroke="#777" stroke-width="0.3"/>
<line x1="382.5" y1="242.74" x2="383.3" y2="242.74" stroke="#777" stroke-width="0.3"/>
<text x="0" y="0" font-size="2.6" font-weight="bold" fill="#333" text-anchor="middle" font-family="'Liberation Sans', Arial, sans-serif" transform="translate(367.3,245.44) rotate(-90)" textLength="7.6" lengthAdjust="spacingAndGlyphs">RPKM</text>
<text x="381.3" y="250.04" font-size="2.8" fill="#444" text-anchor="end" font-family="'Liberation Sans', Arial, sans-serif" textLength="9.27" lengthAdjust="spacingAndGlyphs">2500</text>
<text x="381.3" y="247.94" font-size="2.8" fill="#444" text-anchor="end" font-family="'Liberation Sans', Arial, sans-serif" textLength="10.9" lengthAdjust="spacingAndGlyphs">5000</text>
<text x="381.3" y="245.84" font-size="2.8" fill="#444" text-anchor="end" font-family="'Liberation Sans', Arial, sans-serif" textLength="10.9" lengthAdjust="spacingAndGlyphs">7500</text>
<text x="381.3" y="243.74" font-size="2.8" fill="#444" text-anchor="end" font-family="'Liberation Sans', Arial, sans-serif" textLength="10.9" lengthAdjust="spacingAndGlyphs">10000</text>
<path d="M383.3,251.34 L383.3,250.89 L395,250.84 L409,250.84 L409.6,249.94 L413.3,250.14 L413.3,251.34 Z" fill="#FF8800"/>
<path d="M417,251.34 L417,250.14 L420,250.04 L422.7,250.24 L422.7,251.34 Z" fill="#FF8800"/>
<path d="M432,251.34 L432,250.84 L440,250.89 L447,250.99 L452,251.14 L469,251.14 L469,251.34 Z" fill="#FF8800"/>
<path d="M469,251.34 L469,251.01 L469.5,250.95 L470,251.04 L470.5,251.08 L471,251.02 L471.5,250.88 L472,250.99 L472.5,250.9 L473,250.82 L473.5,250.75 L474,250.68 L474.5,250.48 L475,250.6 L475.5,250.56 L476,250.27 L476.5,250.2 L477,250.1 L477.5,250.15 L478,249.94 L478.5,249.87 L479,249.96 L479.5,249.75 L480,249.65 L480.5,249.63 L481,249.6 L481.5,249.6 L482,249.53 L482.5,249.49 L483,249.47 L483.5,249.28 L484,249.3 L484.5,249.14 L485,249.28 L485.5,249.04 L486,249.06 L486.5,248.97 L487,248.94 L487.5,248.9 L488,248.95 L488.5,249.06 L489,248.85 L489.5,248.97 L490,248.91 L490.5,248.8 L491,248.81 L491.5,248.81 L492,248.66 L492.5,248.71 L493,248.75 L493.5,248.74 L494,248.57 L494.5,248.63 L495,248.53 L495.52,248.6 L496.04,248.61 L496.56,248.5 L497.08,248.4 L497.6,248.44 L497.6,251.34 Z" fill="#FF8800"/>
<path d="M497.6,251.34 L497.6,251.19 L505.6,251.19 L505.6,251.34 Z" fill="#FF8800"/>
<path d="M422.7,250.84 C422.7,252.94 432,252.94 432,250.94" fill="none" stroke="#FF8800" stroke-width="0.5" stroke-opacity="0.6"/>
<rect x="423.28" y="251.94" width="8.05" height="2.4" fill="#fff"/>
<text x="427.3" y="253.99" font-size="2.4" fill="#222" text-anchor="middle" font-family="'Liberation Sans', Arial, sans-serif">233.0</text>
<text x="505.6" y="243.44" font-size="2.75" fill="#FF8800" text-anchor="end" font-family="'Liberation Sans', Arial, sans-serif" textLength="61.6" lengthAdjust="spacing">NA CKN4_1_CKN4_2_CKN4_3-1 IncLevel: 0.01</text>
<line x1="383.3" y1="257.92" x2="383.3" y2="266.52" stroke="#555" stroke-width="0.35"/>
<line x1="382.5" y1="266.52" x2="383.3" y2="266.52" stroke="#777" stroke-width="0.3"/>
<line x1="382.5" y1="264.37" x2="383.3" y2="264.37" stroke="#777" stroke-width="0.3"/>
<line x1="382.5" y1="262.22" x2="383.3" y2="262.22" stroke="#777" stroke-width="0.3"/>
<line x1="382.5" y1="260.07" x2="383.3" y2="260.07" stroke="#777" stroke-width="0.3"/>
<line x1="382.5" y1="257.92" x2="383.3" y2="257.92" stroke="#777" stroke-width="0.3"/>
<text x="0" y="0" font-size="2.6" font-weight="bold" fill="#333" text-anchor="middle" font-family="'Liberation Sans', Arial, sans-serif" transform="translate(367.3,260.62) rotate(-90)" textLength="7.6" lengthAdjust="spacingAndGlyphs">RPKM</text>
<text x="381.3" y="265.22" font-size="2.8" fill="#444" text-anchor="end" font-family="'Liberation Sans', Arial, sans-serif" textLength="9.27" lengthAdjust="spacingAndGlyphs">2500</text>
<text x="381.3" y="263.12" font-size="2.8" fill="#444" text-anchor="end" font-family="'Liberation Sans', Arial, sans-serif" textLength="10.9" lengthAdjust="spacingAndGlyphs">5000</text>
<text x="381.3" y="261.02" font-size="2.8" fill="#444" text-anchor="end" font-family="'Liberation Sans', Arial, sans-serif" textLength="10.9" lengthAdjust="spacingAndGlyphs">7500</text>
<text x="381.3" y="258.92" font-size="2.8" fill="#444" text-anchor="end" font-family="'Liberation Sans', Arial, sans-serif" textLength="10.9" lengthAdjust="spacingAndGlyphs">10000</text>
<path d="M383.3,266.52 L383.3,266.07 L395,266.02 L409,266.02 L409.6,265.12 L413.3,265.32 L413.3,266.52 Z" fill="#FF8800"/>
<path d="M417,266.52 L417,265.32 L420,265.22 L422.7,265.42 L422.7,266.52 Z" fill="#FF8800"/>
<path d="M432,266.52 L432,266.02 L440,266.07 L447,266.17 L452,266.32 L469,266.32 L469,266.52 Z" fill="#FF8800"/>
<path d="M469,266.52 L469,266.3 L469.5,266.04 L470,265.89 L470.5,265.81 L471,265.69 L471.5,265.78 L472,265.52 L472.5,265.29 L473,265.32 L473.5,265.09 L474,264.92 L474.5,264.69 L475,264.55 L475.5,264.36 L476,264.12 L476.5,264.11 L477,263.9 L477.5,263.69 L478,263.5 L478.5,263.32 L479,262.91 L479.5,262.74 L480,262.73 L480.5,262.48 L481,262.38 L481.5,262.24 L482,262.08 L482.5,261.87 L483,261.74 L483.5,261.64 L484,261.54 L484.5,261.42 L485,261.38 L485.5,261.2 L486,261.07 L486.5,261.07 L487,261.05 L487.5,260.95 L488,260.81 L488.5,260.7 L489,260.59 L489.5,260.63 L490,260.47 L490.5,260.45 L491,260.44 L491.5,260.39 L492,260.3 L492.5,260.18 L493,260.19 L493.5,260.06 L494,260.05 L494.5,260.03 L495,259.9 L495.52,259.78 L496.04,259.86 L496.56,259.69 L497.08,259.62 L497.6,259.52 L497.6,266.52 Z" fill="#FF8800"/>
<path d="M497.6,266.52 L497.6,266.37 L505.6,266.37 L505.6,266.52 Z" fill="#FF8800"/>
<path d="M422.7,266.02 C422.7,268.12 432,268.12 432,266.12" fill="none" stroke="#FF8800" stroke-width="0.5" stroke-opacity="0.6"/>
<rect x="423.28" y="267.12" width="8.05" height="2.4" fill="#fff"/>
<text x="427.3" y="269.17" font-size="2.4" fill="#222" text-anchor="middle" font-family="'Liberation Sans', Arial, sans-serif">293.0</text>
<text x="505.6" y="258.62" font-size="2.75" fill="#FF8800" text-anchor="end" font-family="'Liberation Sans', Arial, sans-serif" textLength="61.6" lengthAdjust="spacing">NA CKN4_1_CKN4_2_CKN4_3-2 IncLevel: 0.02</text>
<line x1="383.3" y1="273.1" x2="383.3" y2="281.7" stroke="#555" stroke-width="0.35"/>
<line x1="382.5" y1="281.7" x2="383.3" y2="281.7" stroke="#777" stroke-width="0.3"/>
<line x1="382.5" y1="279.55" x2="383.3" y2="279.55" stroke="#777" stroke-width="0.3"/>
<line x1="382.5" y1="277.4" x2="383.3" y2="277.4" stroke="#777" stroke-width="0.3"/>
<line x1="382.5" y1="275.25" x2="383.3" y2="275.25" stroke="#777" stroke-width="0.3"/>
<line x1="382.5" y1="273.1" x2="383.3" y2="273.1" stroke="#777" stroke-width="0.3"/>
<text x="0" y="0" font-size="2.6" font-weight="bold" fill="#333" text-anchor="middle" font-family="'Liberation Sans', Arial, sans-serif" transform="translate(367.3,275.8) rotate(-90)" textLength="7.6" lengthAdjust="spacingAndGlyphs">RPKM</text>
<text x="381.3" y="280.4" font-size="2.8" fill="#444" text-anchor="end" font-family="'Liberation Sans', Arial, sans-serif" textLength="9.27" lengthAdjust="spacingAndGlyphs">2500</text>
<text x="381.3" y="278.3" font-size="2.8" fill="#444" text-anchor="end" font-family="'Liberation Sans', Arial, sans-serif" textLength="10.9" lengthAdjust="spacingAndGlyphs">5000</text>
<text x="381.3" y="276.2" font-size="2.8" fill="#444" text-anchor="end" font-family="'Liberation Sans', Arial, sans-serif" textLength="10.9" lengthAdjust="spacingAndGlyphs">7500</text>
<text x="381.3" y="274.1" font-size="2.8" fill="#444" text-anchor="end" font-family="'Liberation Sans', Arial, sans-serif" textLength="10.9" lengthAdjust="spacingAndGlyphs">10000</text>
<path d="M383.3,281.7 L383.3,281.25 L395,281.2 L409,281.2 L409.6,280.3 L413.3,280.5 L413.3,281.7 Z" fill="#FF8800"/>
<path d="M417,281.7 L417,280.5 L420,280.4 L422.7,280.6 L422.7,281.7 Z" fill="#FF8800"/>
<path d="M432,281.7 L432,281.2 L440,281.25 L447,281.35 L452,281.5 L469,281.5 L469,281.7 Z" fill="#FF8800"/>
<path d="M469,281.7 L469,281.31 L469.5,281.23 L470,281.31 L470.5,281.12 L471,281.09 L471.5,281.15 L472,281.04 L472.5,281.01 L473,280.72 L473.5,280.64 L474,280.47 L474.5,280.38 L475,280.29 L475.5,280.16 L476,280.08 L476.5,280.06 L477,279.81 L477.5,279.82 L478,279.65 L478.5,279.37 L479,279.41 L479.5,279.26 L480,279.13 L480.5,278.84 L481,278.91 L481.5,278.85 L482,278.55 L482.5,278.62 L483,278.35 L483.5,278.29 L484,278.15 L484.5,278.07 L485,278.1 L485.5,277.99 L486,278.11 L486.5,277.88 L487,277.88 L487.5,277.77 L488,277.86 L488.5,277.67 L489,277.58 L489.5,277.75 L490,277.64 L490.5,277.54 L491,277.44 L491.5,277.54 L492,277.51 L492.5,277.45 L493,277.32 L493.5,277.24 L494,277.28 L494.5,277.24 L495,277.19 L495.52,277.15 L496.04,277.08 L496.56,277.11 L497.08,276.95 L497.6,276.9 L497.6,281.7 Z" fill="#FF8800"/>
<path d="M497.6,281.7 L497.6,281.55 L505.6,281.55 L505.6,281.7 Z" fill="#FF8800"/>
<path d="M422.7,281.2 C422.7,283.3 432,283.3 432,281.3" fill="none" stroke="#FF8800" stroke-width="0.5" stroke-opacity="0.6"/>
<rect x="423.28" y="282.3" width="8.05" height="2.4" fill="#fff"/>
<text x="427.3" y="284.35" font-size="2.4" fill="#222" text-anchor="middle" font-family="'Liberation Sans', Arial, sans-serif">211.0</text>
<text x="505.6" y="273.8" font-size="2.75" fill="#FF8800" text-anchor="end" font-family="'Liberation Sans', Arial, sans-serif" textLength="61.6" lengthAdjust="spacing">NA CKN4_1_CKN4_2_CKN4_3-3 IncLevel: 0.00</text>
<line x1="383.3" y1="287.4" x2="505.6" y2="287.4" stroke="#444" stroke-width="0.4"/>
<line x1="383.3" y1="287.4" x2="383.3" y2="288.7" stroke="#444" stroke-width="0.35"/>
<text x="383.3" y="291.7" font-size="2.6" fill="#333" text-anchor="middle" font-family="'Liberation Sans', Arial, sans-serif" textLength="10.4" lengthAdjust="spacingAndGlyphs">28469072</text>
<line x1="407.76" y1="287.4" x2="407.76" y2="288.7" stroke="#444" stroke-width="0.35"/>
<text x="407.76" y="291.7" font-size="2.6" fill="#333" text-anchor="middle" font-family="'Liberation Sans', Arial, sans-serif" textLength="10.4" lengthAdjust="spacingAndGlyphs">28469373</text>
<line x1="432.22" y1="287.4" x2="432.22" y2="288.7" stroke="#444" stroke-width="0.35"/>
<text x="432.22" y="291.7" font-size="2.6" fill="#333" text-anchor="middle" font-family="'Liberation Sans', Arial, sans-serif" textLength="10.4" lengthAdjust="spacingAndGlyphs">28469674</text>
<line x1="456.68" y1="287.4" x2="456.68" y2="288.7" stroke="#444" stroke-width="0.35"/>
<text x="456.68" y="291.7" font-size="2.6" fill="#333" text-anchor="middle" font-family="'Liberation Sans', Arial, sans-serif" textLength="10.4" lengthAdjust="spacingAndGlyphs">28469975</text>
<line x1="481.14" y1="287.4" x2="481.14" y2="288.7" stroke="#444" stroke-width="0.35"/>
<text x="481.14" y="291.7" font-size="2.6" fill="#333" text-anchor="middle" font-family="'Liberation Sans', Arial, sans-serif" textLength="10.4" lengthAdjust="spacingAndGlyphs">28470276</text>
<line x1="505.6" y1="287.4" x2="505.6" y2="288.7" stroke="#444" stroke-width="0.35"/>
<text x="505.6" y="291.7" font-size="2.6" fill="#333" text-anchor="middle" font-family="'Liberation Sans', Arial, sans-serif" textLength="10.4" lengthAdjust="spacingAndGlyphs">28470777</text>
<text x="416" y="295.5" font-size="3" fill="#222" text-anchor="start" font-family="'Liberation Sans', Arial, sans-serif" textLength="55.5" lengthAdjust="spacingAndGlyphs">Genomic coordinate (Chr7), &quot;-&quot; strand</text>
<text x="413.6" y="309.8" font-size="6.1" fill="#111" text-anchor="start" font-family="'Liberation Serif', 'Times New Roman', serif" textLength="54.1" lengthAdjust="spacingAndGlyphs" stroke="#000" stroke-width="0.1">RI: LOC_Os07g47630</text>
<line x1="383.3" y1="318.7" x2="505.6" y2="318.7" stroke="#333" stroke-width="0.9" stroke-dasharray="1.2 1.2"/>
<rect x="383.3" y="317.35" width="122.3" height="2.7" fill="#000"/>
<line x1="383.3" y1="328.5" x2="505.6" y2="328.5" stroke="#333" stroke-width="0.9" stroke-dasharray="1.2 1.2"/>
<rect x="383.3" y="327.15" width="40.2" height="2.7" fill="#000"/>
<rect x="430.5" y="327.15" width="75.1" height="2.7" fill="#000"/>
<text x="3.6" y="342.4" font-size="8" fill="#111" text-anchor="start" font-family="'Liberation Serif', 'Times New Roman', serif" stroke="#111" stroke-width="0.15">G</text>
<text x="29.1" y="348.7" font-size="3.7" fill="#222" text-anchor="start" font-family="'Liberation Sans', Arial, sans-serif" textLength="125.4" lengthAdjust="spacing" stroke="#222" stroke-width="0.08">Chr8:516125:516232:-@Chr8:516125:516589:-@Chr8:516767:516844:-</text>
<line x1="16.5" y1="363.4" x2="16.5" y2="372" stroke="#555" stroke-width="0.35"/>
<line x1="15.7" y1="372" x2="16.5" y2="372" stroke="#777" stroke-width="0.3"/>
<line x1="15.7" y1="369.85" x2="16.5" y2="369.85" stroke="#777" stroke-width="0.3"/>
<line x1="15.7" y1="367.7" x2="16.5" y2="367.7" stroke="#777" stroke-width="0.3"/>
<line x1="15.7" y1="365.55" x2="16.5" y2="365.55" stroke="#777" stroke-width="0.3"/>
<line x1="15.7" y1="363.4" x2="16.5" y2="363.4" stroke="#777" stroke-width="0.3"/>
<text x="0" y="0" font-size="2.6" font-weight="bold" fill="#333" text-anchor="middle" font-family="'Liberation Sans', Arial, sans-serif" transform="translate(4.6,366.1) rotate(-90)" textLength="7.6" lengthAdjust="spacingAndGlyphs">RPKM</text>
<text x="14" y="370.7" font-size="2.8" fill="#444" text-anchor="end" font-family="'Liberation Sans', Arial, sans-serif" textLength="5.61" lengthAdjust="spacingAndGlyphs">500</text>
<text x="14" y="368.6" font-size="2.8" fill="#444" text-anchor="end" font-family="'Liberation Sans', Arial, sans-serif" textLength="6.6" lengthAdjust="spacingAndGlyphs">1000</text>
<text x="14" y="366.5" font-size="2.8" fill="#444" text-anchor="end" font-family="'Liberation Sans', Arial, sans-serif" textLength="6.6" lengthAdjust="spacingAndGlyphs">1500</text>
<text x="14" y="364.4" font-size="2.8" fill="#444" text-anchor="end" font-family="'Liberation Sans', Arial, sans-serif" textLength="6.6" lengthAdjust="spacingAndGlyphs">2000</text>
<path d="M16.5,372 L16.5,368.44 L17,368.58 L17.5,368.45 L18,368.6 L18.5,368.42 L19,368.37 L19.5,368.37 L20,368.39 L20.5,368.4 L21,368.34 L21.5,368.26 L22,368.48 L22.5,368.49 L23,368.28 L23.5,368.22 L24,368.34 L24.5,368.35 L25,368.26 L25.54,368.43 L26.09,368.41 L26.63,368.44 L27.18,368.33 L27.72,368.42 L28.27,368.46 L28.81,368.33 L29.36,368.26 L29.9,368.4 L29.9,372 Z" fill="#D50012"/>
<path d="M29.9,372 L29.9,370.75 L30.4,370.66 L30.91,370.73 L31.41,370.63 L31.92,370.7 L32.42,370.78 L32.93,370.8 L33.44,370.85 L33.94,370.74 L34.45,370.77 L34.95,370.83 L35.45,370.79 L35.96,370.8 L36.47,370.7 L36.97,370.86 L37.48,370.66 L37.98,370.78 L38.48,370.76 L38.99,370.8 L39.49,370.71 L40,370.72 L40.5,370.78 L41,370.79 L41.5,370.73 L42,370.69 L42.5,370.8 L43,370.71 L43.5,370.65 L44,370.77 L44.5,370.82 L45,370.81 L45.5,370.69 L46,370.7 L46.5,370.62 L47,370.65 L47.5,370.79 L48,370.79 L48.5,370.77 L49,370.79 L49.5,370.66 L50,370.61 L50.5,370.6 L51,370.75 L51.5,370.6 L52,370.72 L52.5,370.69 L53,370.62 L53.5,370.76 L54,370.76 L54.5,370.57 L55,370.7 L55.5,370.68 L56,370.62 L56.5,370.59 L57,370.75 L57.5,370.66 L58,370.64 L58.5,370.62 L59,370.68 L59.5,370.58 L60,370.49 L60.5,370.5 L61,370.34 L61.5,370.32 L62,370.15 L62.5,370.11 L63,370.29 L63.5,370.16 L64,370.2 L64.5,370.45 L65,370.29 L65.5,370.44 L66,370.34 L66.5,370.35 L67,370.47 L67.5,370.38 L68,370.39 L68.5,370.36 L69,370.5 L69.5,370.38 L70,370.34 L70.5,370.41 L71,370.45 L71.5,370.56 L72,370.47 L72.5,370.51 L73,370.43 L73.5,370.44 L74,370.47 L74.5,370.57 L75,370.47 L75.5,370.46 L76,370.56 L76.5,370.39 L77,370.44 L77.5,370.56 L78,370.36 L78.5,370.54 L79,370.49 L79.5,370.39 L80,370.41 L80.5,370.41 L81,370.38 L81.5,370.42 L82,370.45 L82.5,370.48 L83,370.5 L83.5,370.33 L84,370.32 L84.5,370.36 L85,370.31 L85.5,370.39 L86,370.41 L86.5,370.37 L87,370.25 L87.5,370.44 L88,370.33 L88.5,370.38 L89,370.25 L89.5,370.34 L90,370.34 L90.5,370.32 L91,370.28 L91.5,370.22 L92,370.32 L92.5,370.2 L93,370.37 L93.5,370.33 L94,370.37 L94.5,370.36 L95,370.2 L95.5,370.21 L96,370.34 L96.5,370.33 L97,370.27 L97.5,370.19 L98,370.17 L98.5,370.18 L99,370.22 L99.5,370.32 L100,370.26 L100.5,370.3 L101,370.22 L101.5,370.21 L102,370.29 L102.5,370.28 L103,370.15 L103.5,370.32 L104,370.13 L104.5,370.11 L105,370.09 L105.5,370.22 L106,370.18 L106.5,370.17 L107,370.16 L107.5,370.07 L108,370.14 L108.5,370.23 L109,370.09 L109.5,370.18 L110,370.14 L110.5,370.11 L111,370.28 L111.5,370.09 L112,370.12 L112.5,370.16 L113,370.14 L113.5,370.16 L114,370.22 L114.5,370.13 L115,370.25 L115.5,370.13 L116,370.1 L116.5,370.14 L117,370.11 L117.5,370.01 L118,370.02 L118.5,370.2 L119,370.04 L119.5,370.08 L120,370.21 L120.5,370.14 L121,370.1 L121,372 Z" fill="#D50012"/>
<path d="M121.2,372 L121.2,368.61 L121.73,368.62 L122.27,368.4 L122.8,368.19 L123.33,368.39 L123.87,368.13 L124.4,368.16 L124.93,368.34 L125.47,368 L126,368.06 L126.5,367.84 L127,367.83 L127.5,367.73 L128,367.8 L128.5,367.53 L129,367.39 L129.5,367.33 L130,367.41 L130.5,367.19 L131,367.21 L131.5,367.29 L132,367.26 L132.5,367.18 L133,367.07 L133.5,367.02 L134,366.83 L134.5,366.68 L135,366.69 L135.54,366.7 L136.09,366.58 L136.63,366.69 L137.17,366.6 L137.71,366.45 L138.26,366.57 L138.8,366.5 L138.8,372 Z" fill="#D50012"/>
<path d="M29.9,368.4 C29.9,366.15 61,366.15 61,370.7" fill="none" stroke="#D50012" stroke-width="0.7" stroke-opacity="0.9"/>
<path d="M29.9,368.4 C29.9,365.98 121.2,365.98 121.2,368.5" fill="none" stroke="#D50012" stroke-width="0.7" stroke-opacity="0.9"/>
<rect x="41.7" y="365.6" width="6.6" height="2.4" fill="#fff"/>
<text x="45" y="367.65" font-size="2.4" fill="#222" text-anchor="middle" font-family="'Liberation Sans', Arial, sans-serif">45.0</text>
<rect x="72.2" y="365.2" width="6.6" height="2.4" fill="#fff"/>
<text x="75.5" y="367.25" font-size="2.4" fill="#222" text-anchor="middle" font-family="'Liberation Sans', Arial, sans-serif">30.0</text>
<text x="138.8" y="364.1" font-size="2.75" fill="#D50012" text-anchor="end" font-family="'Liberation Sans', Arial, sans-serif" textLength="64.1" lengthAdjust="spacing">NA MDN4_1_MDN4_2_MDN4_3-1 IncLevel: 0.24</text>
<line x1="16.5" y1="378.58" x2="16.5" y2="387.18" stroke="#555" stroke-width="0.35"/>
<line x1="15.7" y1="387.18" x2="16.5" y2="387.18" stroke="#777" stroke-width="0.3"/>
<line x1="15.7" y1="385.03" x2="16.5" y2="385.03" stroke="#777" stroke-width="0.3"/>
<line x1="15.7" y1="382.88" x2="16.5" y2="382.88" stroke="#777" stroke-width="0.3"/>
<line x1="15.7" y1="380.73" x2="16.5" y2="380.73" stroke="#777" stroke-width="0.3"/>
<line x1="15.7" y1="378.58" x2="16.5" y2="378.58" stroke="#777" stroke-width="0.3"/>
<text x="0" y="0" font-size="2.6" font-weight="bold" fill="#333" text-anchor="middle" font-family="'Liberation Sans', Arial, sans-serif" transform="translate(4.6,381.28) rotate(-90)" textLength="7.6" lengthAdjust="spacingAndGlyphs">RPKM</text>
<text x="14" y="385.88" font-size="2.8" fill="#444" text-anchor="end" font-family="'Liberation Sans', Arial, sans-serif" textLength="5.61" lengthAdjust="spacingAndGlyphs">500</text>
<text x="14" y="383.78" font-size="2.8" fill="#444" text-anchor="end" font-family="'Liberation Sans', Arial, sans-serif" textLength="6.6" lengthAdjust="spacingAndGlyphs">1000</text>
<text x="14" y="381.68" font-size="2.8" fill="#444" text-anchor="end" font-family="'Liberation Sans', Arial, sans-serif" textLength="6.6" lengthAdjust="spacingAndGlyphs">1500</text>
<text x="14" y="379.58" font-size="2.8" fill="#444" text-anchor="end" font-family="'Liberation Sans', Arial, sans-serif" textLength="6.6" lengthAdjust="spacingAndGlyphs">2000</text>
<path d="M16.5,387.18 L16.5,382.34 L17,382.08 L17.5,382.1 L18,382.17 L18.5,382.13 L19,382.05 L19.5,381.99 L20,382.06 L20.5,382.12 L21,382.05 L21.5,381.86 L22,382.05 L22.5,381.94 L23,382.01 L23.5,381.99 L24,382 L24.5,381.92 L25,381.98 L25.54,382.03 L26.09,382.02 L26.63,382.01 L27.18,381.93 L27.72,382.07 L28.27,382.09 L28.81,381.97 L29.36,382 L29.9,381.98 L29.9,387.18 Z" fill="#D50012"/>
<path d="M29.9,387.18 L29.9,385.57 L30.4,385.73 L30.91,385.66 L31.41,385.66 L31.92,385.76 L32.42,385.54 L32.93,385.72 L33.44,385.76 L33.94,385.67 L34.45,385.75 L34.95,385.65 L35.45,385.72 L35.96,385.78 L36.47,385.81 L36.97,385.65 L37.48,385.76 L37.98,385.65 L38.48,385.73 L38.99,385.62 L39.49,385.78 L40,385.8 L40.5,385.79 L41,385.65 L41.5,385.69 L42,385.75 L42.5,385.81 L43,385.66 L43.5,385.59 L44,385.67 L44.5,385.81 L45,385.79 L45.5,385.77 L46,385.75 L46.5,385.77 L47,385.76 L47.5,385.61 L48,385.55 L48.5,385.71 L49,385.52 L49.5,385.63 L50,385.55 L50.5,385.51 L51,385.5 L51.5,385.71 L52,385.64 L52.5,385.56 L53,385.48 L53.5,385.68 L54,385.62 L54.5,385.48 L55,385.65 L55.5,385.58 L56,385.59 L56.5,385.5 L57,385.43 L57.5,385.61 L58,385.47 L58.5,385.46 L59,385.43 L59.5,385.49 L60,385.4 L60.5,385.21 L61,384.88 L61.5,384.6 L62,384.15 L62.5,384.3 L63,384.43 L63.5,384.53 L64,384.48 L64.5,384.58 L65,384.63 L65.5,384.72 L66,384.7 L66.5,384.79 L67,384.66 L67.5,384.84 L68,384.74 L68.5,384.68 L69,384.7 L69.5,384.85 L70,384.83 L70.5,384.69 L71,384.74 L71.5,384.69 L72,384.7 L72.5,384.81 L73,384.71 L73.5,384.76 L74,384.86 L74.5,384.86 L75,384.94 L75.5,384.85 L76,384.71 L76.5,384.9 L77,384.78 L77.5,384.88 L78,384.88 L78.5,384.73 L79,384.82 L79.5,384.85 L80,384.82 L80.5,384.69 L81,384.69 L81.5,384.82 L82,384.76 L82.5,384.57 L83,384.74 L83.5,384.65 L84,384.67 L84.5,384.57 L85,384.61 L85.5,384.55 L86,384.6 L86.5,384.68 L87,384.67 L87.5,384.68 L88,384.49 L88.5,384.65 L89,384.66 L89.5,384.43 L90,384.6 L90.5,384.43 L91,384.62 L91.5,384.52 L92,384.57 L92.5,384.42 L93,384.47 L93.5,384.46 L94,384.42 L94.5,384.39 L95,384.51 L95.5,384.45 L96,384.48 L96.5,384.55 L97,384.37 L97.5,384.43 L98,384.37 L98.5,384.51 L99,384.42 L99.5,384.44 L100,384.37 L100.5,384.52 L101,384.45 L101.5,384.41 L102,384.51 L102.5,384.39 L103,384.34 L103.5,384.41 L104,384.35 L104.5,384.35 L105,384.44 L105.5,384.4 L106,384.24 L106.5,384.4 L107,384.37 L107.5,384.45 L108,384.41 L108.5,384.42 L109,384.23 L109.5,384.27 L110,384.23 L110.5,384.2 L111,384.29 L111.5,384.21 L112,384.3 L112.5,384.32 L113,384.19 L113.5,384.19 L114,384.18 L114.5,384.28 L115,384.21 L115.5,384.29 L116,384.15 L116.5,384.16 L117,384.3 L117.5,384.15 L118,384.32 L118.5,384.34 L119,384.18 L119.5,384.28 L120,384.22 L120.5,384.19 L121,384.22 L121,387.18 Z" fill="#D50012"/>
<path d="M121.2,387.18 L121.2,383.56 L121.73,383.24 L122.27,383.38 L122.8,383.27 L123.33,383.26 L123.87,383.06 L124.4,383.01 L124.93,383.15 L125.47,383.18 L126,383.06 L126.5,382.92 L127,382.95 L127.5,382.82 L128,382.47 L128.5,382.4 L129,382.19 L129.5,382.09 L130,382.03 L130.5,382.13 L131,382.12 L131.5,381.98 L132,381.84 L132.5,381.74 L133,381.66 L133.5,381.66 L134,381.39 L134.5,381.54 L135,381.39 L135.54,381.2 L136.09,381.2 L136.63,381.38 L137.17,381.37 L137.71,381.11 L138.26,381.4 L138.8,381.18 L138.8,387.18 Z" fill="#D50012"/>
<path d="M29.9,381.98 C29.9,379.51 61,379.51 61,385.62" fill="none" stroke="#D50012" stroke-width="0.7" stroke-opacity="0.9"/>
<path d="M29.9,381.98 C29.9,379.35 121.2,379.35 121.2,383.38" fill="none" stroke="#D50012" stroke-width="0.7" stroke-opacity="0.9"/>
<rect x="41.7" y="379.18" width="6.6" height="2.4" fill="#fff"/>
<text x="45" y="381.23" font-size="2.4" fill="#222" text-anchor="middle" font-family="'Liberation Sans', Arial, sans-serif">37.0</text>
<rect x="72.92" y="378.78" width="5.15" height="2.4" fill="#fff"/>
<text x="75.5" y="380.83" font-size="2.4" fill="#222" text-anchor="middle" font-family="'Liberation Sans', Arial, sans-serif">1.0</text>
<text x="138.8" y="379.28" font-size="2.75" fill="#D50012" text-anchor="end" font-family="'Liberation Sans', Arial, sans-serif" textLength="64.1" lengthAdjust="spacing">NA MDN4_1_MDN4_2_MDN4_3-2 IncLevel: 0.28</text>
<line x1="16.5" y1="393.76" x2="16.5" y2="402.36" stroke="#555" stroke-width="0.35"/>
<line x1="15.7" y1="402.36" x2="16.5" y2="402.36" stroke="#777" stroke-width="0.3"/>
<line x1="15.7" y1="400.21" x2="16.5" y2="400.21" stroke="#777" stroke-width="0.3"/>
<line x1="15.7" y1="398.06" x2="16.5" y2="398.06" stroke="#777" stroke-width="0.3"/>
<line x1="15.7" y1="395.91" x2="16.5" y2="395.91" stroke="#777" stroke-width="0.3"/>
<line x1="15.7" y1="393.76" x2="16.5" y2="393.76" stroke="#777" stroke-width="0.3"/>
<text x="0" y="0" font-size="2.6" font-weight="bold" fill="#333" text-anchor="middle" font-family="'Liberation Sans', Arial, sans-serif" transform="translate(4.6,396.46) rotate(-90)" textLength="7.6" lengthAdjust="spacingAndGlyphs">RPKM</text>
<text x="14" y="401.06" font-size="2.8" fill="#444" text-anchor="end" font-family="'Liberation Sans', Arial, sans-serif" textLength="5.61" lengthAdjust="spacingAndGlyphs">500</text>
<text x="14" y="398.96" font-size="2.8" fill="#444" text-anchor="end" font-family="'Liberation Sans', Arial, sans-serif" textLength="6.6" lengthAdjust="spacingAndGlyphs">1000</text>
<text x="14" y="396.86" font-size="2.8" fill="#444" text-anchor="end" font-family="'Liberation Sans', Arial, sans-serif" textLength="6.6" lengthAdjust="spacingAndGlyphs">1500</text>
<text x="14" y="394.76" font-size="2.8" fill="#444" text-anchor="end" font-family="'Liberation Sans', Arial, sans-serif" textLength="6.6" lengthAdjust="spacingAndGlyphs">2000</text>
<path d="M16.5,402.36 L16.5,397.91 L17,397.76 L17.5,397.72 L18,397.8 L18.5,397.8 L19,397.72 L19.5,397.51 L20,397.57 L20.5,397.41 L21,397.46 L21.5,397.39 L22,397.66 L22.5,397.61 L23,397.65 L23.5,397.51 L24,397.53 L24.5,397.61 L25,397.45 L25.54,397.6 L26.09,397.54 L26.63,397.57 L27.18,397.42 L27.72,397.54 L28.27,397.6 L28.81,397.68 L29.36,397.57 L29.9,397.56 L29.9,402.36 Z" fill="#D50012"/>
<path d="M29.9,402.36 L29.9,400.9 L30.4,400.89 L30.91,400.84 L31.41,400.87 L31.92,401.01 L32.42,401.04 L32.93,400.9 L33.44,400.9 L33.94,400.97 L34.45,400.9 L34.95,400.97 L35.45,401.04 L35.96,401.08 L36.47,401.12 L36.97,400.97 L37.48,400.92 L37.98,400.92 L38.48,401.03 L38.99,400.99 L39.49,400.93 L40,400.96 L40.5,401.01 L41,401.05 L41.5,401.02 L42,401.1 L42.5,401.09 L43,400.96 L43.5,400.88 L44,400.98 L44.5,401.01 L45,401.02 L45.5,400.99 L46,400.9 L46.5,400.98 L47,400.85 L47.5,401.04 L48,401 L48.5,400.94 L49,400.96 L49.5,400.85 L50,400.85 L50.5,400.82 L51,400.89 L51.5,401.03 L52,400.89 L52.5,400.89 L53,400.9 L53.5,400.94 L54,400.84 L54.5,400.78 L55,400.97 L55.5,400.83 L56,400.89 L56.5,400.85 L57,400.76 L57.5,400.74 L58,400.81 L58.5,400.91 L59,400.73 L59.5,400.9 L60,400.85 L60.5,400.34 L61,400.07 L61.5,399.68 L62,399.12 L62.5,399.2 L63,399.43 L63.5,399.5 L64,399.61 L64.5,399.73 L65,399.78 L65.5,399.61 L66,399.84 L66.5,399.81 L67,399.83 L67.5,399.86 L68,399.76 L68.5,399.72 L69,399.7 L69.5,399.76 L70,399.73 L70.5,399.93 L71,399.87 L71.5,399.72 L72,399.94 L72.5,399.9 L73,399.86 L73.5,399.92 L74,399.86 L74.5,399.99 L75,399.95 L75.5,399.76 L76,399.95 L76.5,399.75 L77,399.92 L77.5,399.71 L78,399.78 L78.5,399.77 L79,399.88 L79.5,399.89 L80,399.71 L80.5,399.84 L81,399.83 L81.5,399.66 L82,399.64 L82.5,399.83 L83,399.6 L83.5,399.69 L84,399.72 L84.5,399.77 L85,399.69 L85.5,399.54 L86,399.7 L86.5,399.72 L87,399.71 L87.5,399.7 L88,399.63 L88.5,399.49 L89,399.68 L89.5,399.64 L90,399.45 L90.5,399.43 L91,399.43 L91.5,399.6 L92,399.57 L92.5,399.42 L93,399.53 L93.5,399.47 L94,399.56 L94.5,399.62 L95,399.54 L95.5,399.43 L96,399.42 L96.5,399.47 L97,399.49 L97.5,399.46 L98,399.48 L98.5,399.45 L99,399.38 L99.5,399.52 L100,399.42 L100.5,399.34 L101,399.35 L101.5,399.51 L102,399.31 L102.5,399.34 L103,399.49 L103.5,399.46 L104,399.47 L104.5,399.5 L105,399.28 L105.5,399.41 L106,399.29 L106.5,399.47 L107,399.49 L107.5,399.28 L108,399.29 L108.5,399.24 L109,399.3 L109.5,399.34 L110,399.27 L110.5,399.43 L111,399.32 L111.5,399.34 L112,399.4 L112.5,399.29 L113,399.35 L113.5,399.3 L114,399.33 L114.5,399.34 L115,399.32 L115.5,399.26 L116,399.16 L116.5,399.17 L117,399.18 L117.5,399.18 L118,399.31 L118.5,399.14 L119,399.3 L119.5,399.33 L120,399.24 L120.5,399.17 L121,399.23 L121,402.36 Z" fill="#D50012"/>
<path d="M121.2,402.36 L121.2,398.82 L121.73,398.66 L122.27,398.76 L122.8,398.44 L123.33,398.6 L123.87,398.55 L124.4,398.48 L124.93,398.3 L125.47,398.21 L126,398.35 L126.5,398.31 L127,398.17 L127.5,398.32 L128,398.11 L128.5,397.87 L129,397.83 L129.5,398.05 L130,397.66 L130.5,397.78 L131,397.47 L131.5,397.68 L132,397.7 L132.5,397.53 L133,397.36 L133.5,397.5 L134,397.29 L134.5,397.31 L135,397.42 L135.54,397.41 L136.09,397.3 L136.63,397.31 L137.17,397.3 L137.71,397.16 L138.26,397.04 L138.8,397.16 L138.8,402.36 Z" fill="#D50012"/>
<path d="M29.9,397.56 C29.9,395.13 61,395.13 61,400.93" fill="none" stroke="#D50012" stroke-width="0.7" stroke-opacity="0.9"/>
<path d="M29.9,397.56 C29.9,394.96 121.2,394.96 121.2,398.76" fill="none" stroke="#D50012" stroke-width="0.7" stroke-opacity="0.9"/>
<rect x="41.7" y="394.76" width="6.6" height="2.4" fill="#fff"/>
<text x="45" y="396.81" font-size="2.4" fill="#222" text-anchor="middle" font-family="'Liberation Sans', Arial, sans-serif">70.0</text>
<rect x="72.92" y="394.36" width="5.15" height="2.4" fill="#fff"/>
<text x="75.5" y="396.41" font-size="2.4" fill="#222" text-anchor="middle" font-family="'Liberation Sans', Arial, sans-serif">1.0</text>
<text x="138.8" y="394.46" font-size="2.75" fill="#D50012" text-anchor="end" font-family="'Liberation Sans', Arial, sans-serif" textLength="64.1" lengthAdjust="spacing">NA MDN4_1_MDN4_2_MDN4_3-3 IncLevel: 0.33</text>
<line x1="16.5" y1="408.94" x2="16.5" y2="417.54" stroke="#555" stroke-width="0.35"/>
<line x1="15.7" y1="417.54" x2="16.5" y2="417.54" stroke="#777" stroke-width="0.3"/>
<line x1="15.7" y1="415.39" x2="16.5" y2="415.39" stroke="#777" stroke-width="0.3"/>
<line x1="15.7" y1="413.24" x2="16.5" y2="413.24" stroke="#777" stroke-width="0.3"/>
<line x1="15.7" y1="411.09" x2="16.5" y2="411.09" stroke="#777" stroke-width="0.3"/>
<line x1="15.7" y1="408.94" x2="16.5" y2="408.94" stroke="#777" stroke-width="0.3"/>
<text x="0" y="0" font-size="2.6" font-weight="bold" fill="#333" text-anchor="middle" font-family="'Liberation Sans', Arial, sans-serif" transform="translate(4.6,411.64) rotate(-90)" textLength="7.6" lengthAdjust="spacingAndGlyphs">RPKM</text>
<text x="14" y="416.24" font-size="2.8" fill="#444" text-anchor="end" font-family="'Liberation Sans', Arial, sans-serif" textLength="5.61" lengthAdjust="spacingAndGlyphs">500</text>
<text x="14" y="414.14" font-size="2.8" fill="#444" text-anchor="end" font-family="'Liberation Sans', Arial, sans-serif" textLength="6.6" lengthAdjust="spacingAndGlyphs">1000</text>
<text x="14" y="412.04" font-size="2.8" fill="#444" text-anchor="end" font-family="'Liberation Sans', Arial, sans-serif" textLength="6.6" lengthAdjust="spacingAndGlyphs">1500</text>
<text x="14" y="409.94" font-size="2.8" fill="#444" text-anchor="end" font-family="'Liberation Sans', Arial, sans-serif" textLength="6.6" lengthAdjust="spacingAndGlyphs">2000</text>
<path d="M16.5,417.54 L16.5,413.24 L17,413.34 L17.5,413.28 L18,413.21 L18.5,413.1 L19,413.21 L19.5,413.2 L20,413.09 L20.5,413.1 L21,413.16 L21.5,413 L22,412.88 L22.5,412.98 L23,412.91 L23.5,412.88 L24,412.87 L24.5,412.84 L25,412.97 L25.54,412.91 L26.09,413.08 L26.63,412.87 L27.18,413.03 L27.72,413.01 L28.27,412.89 L28.81,413.08 L29.36,413.12 L29.9,413.04 L29.9,417.54 Z" fill="#FF8800"/>
<path d="M29.9,417.54 L29.9,416.16 L30.4,416.22 L30.91,416.35 L31.41,416.37 L31.92,416.3 L32.42,416.38 L32.93,416.19 L33.44,416.35 L33.94,416.33 L34.45,416.31 L34.95,416.29 L35.45,416.31 L35.96,416.27 L36.47,416.27 L36.97,416.33 L37.48,416.41 L37.98,416.21 L38.48,416.28 L38.99,416.43 L39.49,416.35 L40,416.28 L40.5,416.22 L41,416.43 L41.5,416.44 L42,416.32 L42.5,416.33 L43,416.22 L43.5,416.23 L44,416.34 L44.5,416.31 L45,416.27 L45.5,416.19 L46,416.35 L46.5,416.3 L47,416.37 L47.5,416.23 L48,416.37 L48.5,416.15 L49,416.24 L49.5,416.23 L50,416.34 L50.5,416.3 L51,416.24 L51.5,416.14 L52,416.21 L52.5,416.27 L53,416.09 L53.5,416.17 L54,416.19 L54.5,416.27 L55,416.24 L55.5,416.09 L56,416.27 L56.5,416.17 L57,416.14 L57.5,416.2 L58,416.1 L58.5,416.06 L59,416.06 L59.5,416.09 L60,416.21 L60.5,416.12 L61,415.91 L61.5,415.81 L62,415.71 L62.5,415.6 L63,415.81 L63.5,415.71 L64,415.73 L64.5,415.98 L65,415.84 L65.5,415.97 L66,416.02 L66.5,416.03 L67,416.07 L67.5,415.97 L68,416 L68.5,415.89 L69,415.9 L69.5,416.09 L70,416.01 L70.5,416.02 L71,416.08 L71.5,416.06 L72,416.07 L72.5,415.97 L73,416.06 L73.5,416.12 L74,416.1 L74.5,416.05 L75,416.02 L75.5,416.09 L76,415.98 L76.5,416.09 L77,415.97 L77.5,415.98 L78,416.08 L78.5,415.93 L79,416.01 L79.5,415.97 L80,415.95 L80.5,415.94 L81,415.97 L81.5,416.06 L82,415.88 L82.5,415.85 L83,415.94 L83.5,415.91 L84,415.98 L84.5,415.82 L85,415.86 L85.5,415.97 L86,415.82 L86.5,415.77 L87,415.92 L87.5,415.75 L88,415.87 L88.5,415.94 L89,415.8 L89.5,415.89 L90,415.78 L90.5,415.82 L91,415.93 L91.5,415.82 L92,415.74 L92.5,415.83 L93,415.81 L93.5,415.73 L94,415.83 L94.5,415.81 L95,415.79 L95.5,415.73 L96,415.87 L96.5,415.89 L97,415.73 L97.5,415.78 L98,415.83 L98.5,415.69 L99,415.69 L99.5,415.77 L100,415.66 L100.5,415.69 L101,415.71 L101.5,415.81 L102,415.88 L102.5,415.71 L103,415.7 L103.5,415.79 L104,415.75 L104.5,415.73 L105,415.8 L105.5,415.69 L106,415.72 L106.5,415.76 L107,415.82 L107.5,415.71 L108,415.76 L108.5,415.66 L109,415.79 L109.5,415.74 L110,415.78 L110.5,415.73 L111,415.68 L111.5,415.79 L112,415.8 L112.5,415.7 L113,415.76 L113.5,415.69 L114,415.76 L114.5,415.78 L115,415.67 L115.5,415.57 L116,415.58 L116.5,415.66 L117,415.69 L117.5,415.77 L118,415.71 L118.5,415.7 L119,415.55 L119.5,415.74 L120,415.54 L120.5,415.65 L121,415.64 L121,417.54 Z" fill="#FF8800"/>
<path d="M121.2,417.54 L121.2,412.97 L121.73,412.99 L122.27,412.67 L122.8,412.93 L123.33,412.73 L123.87,412.71 L124.4,412.79 L124.93,412.74 L125.47,412.39 L126,412.42 L126.5,412.42 L127,412.32 L127.5,412.61 L128,412.34 L128.5,412.29 L129,412.47 L129.5,412.35 L130,412.11 L130.5,412.34 L131,412.14 L131.5,412.39 L132,412.2 L132.5,412.37 L133,412.29 L133.5,412.35 L134,412.17 L134.5,412.23 L135,412.34 L135.54,412.24 L136.09,412.31 L136.63,412.13 L137.17,412.32 L137.71,412.18 L138.26,412.13 L138.8,412.14 L138.8,417.54 Z" fill="#FF8800"/>
<path d="M29.9,413.04 C29.9,410.64 61,410.64 61,416.24" fill="none" stroke="#FF8800" stroke-width="0.7" stroke-opacity="0.9"/>
<path d="M29.9,413.04 C29.9,410.66 121.2,410.66 121.2,412.94" fill="none" stroke="#FF8800" stroke-width="0.7" stroke-opacity="0.9"/>
<rect x="41.7" y="410.24" width="6.6" height="2.4" fill="#fff"/>
<text x="45" y="412.29" font-size="2.4" fill="#222" text-anchor="middle" font-family="'Liberation Sans', Arial, sans-serif">25.0</text>
<rect x="71.47" y="409.84" width="8.05" height="2.4" fill="#fff"/>
<text x="75.5" y="411.89" font-size="2.4" fill="#222" text-anchor="middle" font-family="'Liberation Sans', Arial, sans-serif">130.0</text>
<text x="138.8" y="409.64" font-size="2.75" fill="#FF8800" text-anchor="end" font-family="'Liberation Sans', Arial, sans-serif" textLength="61.8" lengthAdjust="spacing">NA CKN4_1_CKN4_2_CKN4_3-1 IncLevel: 0.46</text>
<line x1="16.5" y1="424.12" x2="16.5" y2="432.72" stroke="#555" stroke-width="0.35"/>
<line x1="15.7" y1="432.72" x2="16.5" y2="432.72" stroke="#777" stroke-width="0.3"/>
<line x1="15.7" y1="430.57" x2="16.5" y2="430.57" stroke="#777" stroke-width="0.3"/>
<line x1="15.7" y1="428.42" x2="16.5" y2="428.42" stroke="#777" stroke-width="0.3"/>
<line x1="15.7" y1="426.27" x2="16.5" y2="426.27" stroke="#777" stroke-width="0.3"/>
<line x1="15.7" y1="424.12" x2="16.5" y2="424.12" stroke="#777" stroke-width="0.3"/>
<text x="0" y="0" font-size="2.6" font-weight="bold" fill="#333" text-anchor="middle" font-family="'Liberation Sans', Arial, sans-serif" transform="translate(4.6,426.82) rotate(-90)" textLength="7.6" lengthAdjust="spacingAndGlyphs">RPKM</text>
<text x="14" y="431.42" font-size="2.8" fill="#444" text-anchor="end" font-family="'Liberation Sans', Arial, sans-serif" textLength="5.61" lengthAdjust="spacingAndGlyphs">500</text>
<text x="14" y="429.32" font-size="2.8" fill="#444" text-anchor="end" font-family="'Liberation Sans', Arial, sans-serif" textLength="6.6" lengthAdjust="spacingAndGlyphs">1000</text>
<text x="14" y="427.22" font-size="2.8" fill="#444" text-anchor="end" font-family="'Liberation Sans', Arial, sans-serif" textLength="6.6" lengthAdjust="spacingAndGlyphs">1500</text>
<text x="14" y="425.12" font-size="2.8" fill="#444" text-anchor="end" font-family="'Liberation Sans', Arial, sans-serif" textLength="6.6" lengthAdjust="spacingAndGlyphs">2000</text>
<path d="M16.5,432.72 L16.5,427.05 L17,427.11 L17.5,427.03 L18,426.85 L18.5,426.94 L19,426.73 L19.5,426.76 L20,426.58 L20.5,426.6 L21,426.63 L21.5,426.72 L22,426.81 L22.5,426.64 L23,426.57 L23.5,426.51 L24,426.71 L24.5,426.71 L25,426.46 L25.54,426.54 L26.09,426.63 L26.63,426.57 L27.18,426.76 L27.72,426.65 L28.27,426.63 L28.81,426.66 L29.36,426.81 L29.9,426.72 L29.9,432.72 Z" fill="#FF8800"/>
<path d="M29.9,432.72 L29.9,431.25 L30.4,431.14 L30.91,431.08 L31.41,431.26 L31.92,431.3 L32.42,431.29 L32.93,431.13 L33.44,431.23 L33.94,431.22 L34.45,431.1 L34.95,431.19 L35.45,431.28 L35.96,431.18 L36.47,431.36 L36.97,431.3 L37.48,431.2 L37.98,431.34 L38.48,431.37 L38.99,431.26 L39.49,431.32 L40,431.17 L40.5,431.37 L41,431.2 L41.5,431.29 L42,431.18 L42.5,431.26 L43,431.2 L43.5,431.28 L44,431.3 L44.5,431.24 L45,431.15 L45.5,431.25 L46,431.27 L46.5,431.22 L47,431.29 L47.5,431.23 L48,431.17 L48.5,431.17 L49,431.15 L49.5,431.22 L50,431.27 L50.5,431.27 L51,431.19 L51.5,431.21 L52,431.12 L52.5,431.19 L53,431.06 L53.5,431.09 L54,431.07 L54.5,431.05 L55,431.09 L55.5,431.11 L56,431.13 L56.5,431.19 L57,431.01 L57.5,431.07 L58,431.16 L58.5,430.96 L59,431.03 L59.5,431.02 L60,431.05 L60.5,430.92 L61,430.51 L61.5,430.5 L62,430.24 L62.5,430.16 L63,430.43 L63.5,430.41 L64,430.48 L64.5,430.6 L65,430.51 L65.5,430.64 L66,430.74 L66.5,430.63 L67,430.75 L67.5,430.59 L68,430.56 L68.5,430.56 L69,430.77 L69.5,430.63 L70,430.72 L70.5,430.69 L71,430.74 L71.5,430.74 L72,430.79 L72.5,430.68 L73,430.81 L73.5,430.61 L74,430.84 L74.5,430.62 L75,430.81 L75.5,430.83 L76,430.66 L76.5,430.71 L77,430.64 L77.5,430.69 L78,430.66 L78.5,430.78 L79,430.63 L79.5,430.66 L80,430.54 L80.5,430.76 L81,430.74 L81.5,430.58 L82,430.51 L82.5,430.63 L83,430.55 L83.5,430.58 L84,430.61 L84.5,430.58 L85,430.54 L85.5,430.67 L86,430.59 L86.5,430.48 L87,430.59 L87.5,430.53 L88,430.57 L88.5,430.54 L89,430.46 L89.5,430.43 L90,430.37 L90.5,430.48 L91,430.54 L91.5,430.5 L92,430.56 L92.5,430.52 L93,430.43 L93.5,430.42 L94,430.5 L94.5,430.51 L95,430.53 L95.5,430.5 L96,430.42 L96.5,430.48 L97,430.32 L97.5,430.39 L98,430.44 L98.5,430.42 L99,430.51 L99.5,430.34 L100,430.33 L100.5,430.42 L101,430.33 L101.5,430.43 L102,430.44 L102.5,430.43 L103,430.43 L103.5,430.33 L104,430.32 L104.5,430.29 L105,430.44 L105.5,430.28 L106,430.34 L106.5,430.36 L107,430.33 L107.5,430.34 L108,430.39 L108.5,430.34 L109,430.28 L109.5,430.26 L110,430.2 L110.5,430.37 L111,430.2 L111.5,430.22 L112,430.24 L112.5,430.17 L113,430.36 L113.5,430.21 L114,430.17 L114.5,430.36 L115,430.24 L115.5,430.15 L116,430.3 L116.5,430.16 L117,430.15 L117.5,430.26 L118,430.32 L118.5,430.3 L119,430.15 L119.5,430.24 L120,430.26 L120.5,430.23 L121,430.21 L121,432.72 Z" fill="#FF8800"/>
<path d="M121.2,432.72 L121.2,428.35 L121.73,428.57 L122.27,428.62 L122.8,428.21 L123.33,428.42 L123.87,428.34 L124.4,428.06 L124.93,428.3 L125.47,428.33 L126,427.96 L126.5,428.17 L127,428.13 L127.5,427.79 L128,428.03 L128.5,427.71 L129,427.89 L129.5,427.85 L130,427.83 L130.5,427.65 L131,427.6 L131.5,427.65 L132,427.59 L132.5,427.66 L133,427.43 L133.5,427.38 L134,427.44 L134.5,427.4 L135,427.69 L135.54,427.59 L136.09,427.58 L136.63,427.57 L137.17,427.22 L137.71,427.22 L138.26,427.18 L138.8,427.32 L138.8,432.72 Z" fill="#FF8800"/>
<path d="M29.9,426.72 C29.9,424.11 61,424.11 61,431.16" fill="none" stroke="#FF8800" stroke-width="0.7" stroke-opacity="0.9"/>
<path d="M29.9,426.72 C29.9,424.02 121.2,424.02 121.2,428.52" fill="none" stroke="#FF8800" stroke-width="0.7" stroke-opacity="0.9"/>
<rect x="41.7" y="423.92" width="6.6" height="2.4" fill="#fff"/>
<text x="45" y="425.97" font-size="2.4" fill="#222" text-anchor="middle" font-family="'Liberation Sans', Arial, sans-serif">88.0</text>
<rect x="71.47" y="423.52" width="8.05" height="2.4" fill="#fff"/>
<text x="75.5" y="425.57" font-size="2.4" fill="#222" text-anchor="middle" font-family="'Liberation Sans', Arial, sans-serif">169.0</text>
<text x="138.8" y="424.82" font-size="2.75" fill="#FF8800" text-anchor="end" font-family="'Liberation Sans', Arial, sans-serif" textLength="61.8" lengthAdjust="spacing">NA CKN4_1_CKN4_2_CKN4_3-2 IncLevel: 0.32</text>
<line x1="16.5" y1="439.3" x2="16.5" y2="447.9" stroke="#555" stroke-width="0.35"/>
<line x1="15.7" y1="447.9" x2="16.5" y2="447.9" stroke="#777" stroke-width="0.3"/>
<line x1="15.7" y1="445.75" x2="16.5" y2="445.75" stroke="#777" stroke-width="0.3"/>
<line x1="15.7" y1="443.6" x2="16.5" y2="443.6" stroke="#777" stroke-width="0.3"/>
<line x1="15.7" y1="441.45" x2="16.5" y2="441.45" stroke="#777" stroke-width="0.3"/>
<line x1="15.7" y1="439.3" x2="16.5" y2="439.3" stroke="#777" stroke-width="0.3"/>
<text x="0" y="0" font-size="2.6" font-weight="bold" fill="#333" text-anchor="middle" font-family="'Liberation Sans', Arial, sans-serif" transform="translate(4.6,442) rotate(-90)" textLength="7.6" lengthAdjust="spacingAndGlyphs">RPKM</text>
<text x="14" y="446.6" font-size="2.8" fill="#444" text-anchor="end" font-family="'Liberation Sans', Arial, sans-serif" textLength="5.61" lengthAdjust="spacingAndGlyphs">500</text>
<text x="14" y="444.5" font-size="2.8" fill="#444" text-anchor="end" font-family="'Liberation Sans', Arial, sans-serif" textLength="6.6" lengthAdjust="spacingAndGlyphs">1000</text>
<text x="14" y="442.4" font-size="2.8" fill="#444" text-anchor="end" font-family="'Liberation Sans', Arial, sans-serif" textLength="6.6" lengthAdjust="spacingAndGlyphs">1500</text>
<text x="14" y="440.3" font-size="2.8" fill="#444" text-anchor="end" font-family="'Liberation Sans', Arial, sans-serif" textLength="6.6" lengthAdjust="spacingAndGlyphs">2000</text>
<path d="M16.5,447.9 L16.5,443.61 L17,443.71 L17.5,443.58 L18,443.66 L18.5,443.38 L19,443.53 L19.5,443.5 L20,443.27 L20.5,443.48 L21,443.26 L21.5,443.43 L22,443.31 L22.5,443.47 L23,443.23 L23.5,443.37 L24,443.37 L24.5,443.27 L25,443.28 L25.54,443.39 L26.09,443.44 L26.63,443.32 L27.18,443.49 L27.72,443.25 L28.27,443.42 L28.81,443.48 L29.36,443.44 L29.9,443.4 L29.9,447.9 Z" fill="#FF8800"/>
<path d="M29.9,447.9 L29.9,446.69 L30.4,446.65 L30.91,446.6 L31.41,446.64 L31.92,446.66 L32.42,446.68 L32.93,446.63 L33.44,446.57 L33.94,446.65 L34.45,446.58 L34.95,446.65 L35.45,446.75 L35.96,446.74 L36.47,446.58 L36.97,446.67 L37.48,446.7 L37.98,446.68 L38.48,446.6 L38.99,446.72 L39.49,446.73 L40,446.73 L40.5,446.81 L41,446.68 L41.5,446.69 L42,446.68 L42.5,446.69 L43,446.68 L43.5,446.61 L44,446.74 L44.5,446.54 L45,446.74 L45.5,446.56 L46,446.72 L46.5,446.56 L47,446.69 L47.5,446.73 L48,446.61 L48.5,446.53 L49,446.53 L49.5,446.51 L50,446.48 L50.5,446.7 L51,446.62 L51.5,446.68 L52,446.52 L52.5,446.59 L53,446.51 L53.5,446.49 L54,446.44 L54.5,446.51 L55,446.46 L55.5,446.53 L56,446.64 L56.5,446.44 L57,446.63 L57.5,446.62 L58,446.44 L58.5,446.57 L59,446.47 L59.5,446.62 L60,446.57 L60.5,446.32 L61,446.36 L61.5,446.12 L62,445.9 L62.5,446.12 L63,446.05 L63.5,446.09 L64,446.17 L64.5,446.19 L65,446.25 L65.5,446.42 L66,446.38 L66.5,446.31 L67,446.21 L67.5,446.39 L68,446.31 L68.5,446.42 L69,446.26 L69.5,446.36 L70,446.34 L70.5,446.31 L71,446.45 L71.5,446.31 L72,446.3 L72.5,446.29 L73,446.43 L73.5,446.45 L74,446.47 L74.5,446.3 L75,446.41 L75.5,446.42 L76,446.38 L76.5,446.33 L77,446.42 L77.5,446.41 L78,446.3 L78.5,446.29 L79,446.4 L79.5,446.44 L80,446.23 L80.5,446.27 L81,446.3 L81.5,446.34 L82,446.2 L82.5,446.32 L83,446.36 L83.5,446.38 L84,446.32 L84.5,446.25 L85,446.3 L85.5,446.15 L86,446.22 L86.5,446.26 L87,446.2 L87.5,446.21 L88,446.2 L88.5,446.22 L89,446.21 L89.5,446.21 L90,446.12 L90.5,446.27 L91,446.12 L91.5,446.24 L92,446.1 L92.5,446.29 L93,446.18 L93.5,446.19 L94,446.12 L94.5,446.24 L95,446.22 L95.5,446.25 L96,446.15 L96.5,446.14 L97,446.27 L97.5,446.23 L98,446.22 L98.5,446.03 L99,446.15 L99.5,446.12 L100,446.18 L100.5,446.09 L101,446.05 L101.5,446.08 L102,446.24 L102.5,446.13 L103,446.12 L103.5,446.22 L104,446.04 L104.5,446.15 L105,446.15 L105.5,446.07 L106,446.07 L106.5,446.09 L107,446 L107.5,446.08 L108,446.12 L108.5,446.18 L109,446.06 L109.5,446.1 L110,446.06 L110.5,446.1 L111,446.18 L111.5,446.17 L112,446.14 L112.5,446.15 L113,445.97 L113.5,446.03 L114,446.11 L114.5,445.99 L115,446.01 L115.5,446.14 L116,445.97 L116.5,446.09 L117,445.91 L117.5,446.11 L118,446.07 L118.5,446.08 L119,445.93 L119.5,445.93 L120,445.99 L120.5,446.09 L121,446 L121,447.9 Z" fill="#FF8800"/>
<path d="M121.2,447.9 L121.2,443.43 L121.73,443.27 L122.27,443.49 L122.8,443.1 L123.33,443.09 L123.87,443.01 L124.4,443.05 L124.93,443.04 L125.47,442.85 L126,443.09 L126.5,443.02 L127,443.04 L127.5,442.96 L128,442.66 L128.5,442.89 L129,442.57 L129.5,442.66 L130,442.41 L130.5,442.4 L131,442.38 L131.5,442.29 L132,442.6 L132.5,442.49 L133,442.43 L133.5,442.38 L134,442.27 L134.5,442.17 L135,442.2 L135.54,442.1 L136.09,442.16 L136.63,442.27 L137.17,442.18 L137.71,442.06 L138.26,442 L138.8,442.1 L138.8,447.9 Z" fill="#FF8800"/>
<path d="M29.9,443.4 C29.9,441 61,441 61,446.6" fill="none" stroke="#FF8800" stroke-width="0.7" stroke-opacity="0.9"/>
<path d="M29.9,443.4 C29.9,441 121.2,441 121.2,443.4" fill="none" stroke="#FF8800" stroke-width="0.7" stroke-opacity="0.9"/>
<rect x="41.7" y="440.6" width="6.6" height="2.4" fill="#fff"/>
<text x="45" y="442.65" font-size="2.4" fill="#222" text-anchor="middle" font-family="'Liberation Sans', Arial, sans-serif">33.0</text>
<rect x="71.47" y="440.2" width="8.05" height="2.4" fill="#fff"/>
<text x="75.5" y="442.25" font-size="2.4" fill="#222" text-anchor="middle" font-family="'Liberation Sans', Arial, sans-serif">128.0</text>
<text x="138.8" y="440" font-size="2.75" fill="#FF8800" text-anchor="end" font-family="'Liberation Sans', Arial, sans-serif" textLength="61.8" lengthAdjust="spacing">NA CKN4_1_CKN4_2_CKN4_3-3 IncLevel: 0.24</text>
<line x1="16.5" y1="453.6" x2="138.8" y2="453.6" stroke="#444" stroke-width="0.4"/>
<line x1="16.5" y1="453.6" x2="16.5" y2="454.9" stroke="#444" stroke-width="0.35"/>
<text x="16.5" y="457.9" font-size="2.6" fill="#333" text-anchor="middle" font-family="'Liberation Sans', Arial, sans-serif" textLength="7.8" lengthAdjust="spacingAndGlyphs">516125</text>
<line x1="40.96" y1="453.6" x2="40.96" y2="454.9" stroke="#444" stroke-width="0.35"/>
<text x="40.96" y="457.9" font-size="2.6" fill="#333" text-anchor="middle" font-family="'Liberation Sans', Arial, sans-serif" textLength="7.8" lengthAdjust="spacingAndGlyphs">516269</text>
<line x1="65.42" y1="453.6" x2="65.42" y2="454.9" stroke="#444" stroke-width="0.35"/>
<text x="65.42" y="457.9" font-size="2.6" fill="#333" text-anchor="middle" font-family="'Liberation Sans', Arial, sans-serif" textLength="7.8" lengthAdjust="spacingAndGlyphs">516413</text>
<line x1="89.88" y1="453.6" x2="89.88" y2="454.9" stroke="#444" stroke-width="0.35"/>
<text x="89.88" y="457.9" font-size="2.6" fill="#333" text-anchor="middle" font-family="'Liberation Sans', Arial, sans-serif" textLength="7.8" lengthAdjust="spacingAndGlyphs">516557</text>
<line x1="114.34" y1="453.6" x2="114.34" y2="454.9" stroke="#444" stroke-width="0.35"/>
<text x="114.34" y="457.9" font-size="2.6" fill="#333" text-anchor="middle" font-family="'Liberation Sans', Arial, sans-serif" textLength="7.8" lengthAdjust="spacingAndGlyphs">516701</text>
<line x1="138.8" y1="453.6" x2="138.8" y2="454.9" stroke="#444" stroke-width="0.35"/>
<text x="138.8" y="457.9" font-size="2.6" fill="#333" text-anchor="middle" font-family="'Liberation Sans', Arial, sans-serif" textLength="7.8" lengthAdjust="spacingAndGlyphs">516844</text>
<text x="50" y="461.7" font-size="3" fill="#222" text-anchor="start" font-family="'Liberation Sans', Arial, sans-serif" textLength="55.5" lengthAdjust="spacingAndGlyphs">Genomic coordinate (Chr8), &quot;-&quot; strand</text>
<text x="47.2" y="474.7" font-size="6.1" fill="#111" text-anchor="start" font-family="'Liberation Serif', 'Times New Roman', serif" textLength="60.2" lengthAdjust="spacingAndGlyphs" stroke="#000" stroke-width="0.1">A3SS: LOC_Os08g01840</text>
<line x1="16.5" y1="484.9" x2="138.8" y2="484.9" stroke="#333" stroke-width="0.9" stroke-dasharray="1.2 1.2"/>
<rect x="16.5" y="483.55" width="13" height="2.7" fill="#000"/>
<rect x="60" y="483.55" width="78.8" height="2.7" fill="#000"/>
<line x1="16.5" y1="494.7" x2="138.8" y2="494.7" stroke="#333" stroke-width="0.9" stroke-dasharray="1.2 1.2"/>
<rect x="60" y="493.35" width="78.8" height="2.7" fill="#000"/>
<text x="172.6" y="343" font-size="8" fill="#111" text-anchor="start" font-family="'Liberation Serif', 'Times New Roman', serif" stroke="#111" stroke-width="0.15">H</text>
<text x="183.3" y="349.1" font-size="3.7" fill="#222" text-anchor="start" font-family="'Liberation Sans', Arial, sans-serif" textLength="164.9" lengthAdjust="spacing" stroke="#222" stroke-width="0.08">Chr11:28806455:28807780:+@Chr11:28806455:28808550:+@Chr11:28807822:28808550:+</text>
<line x1="190.1" y1="363.4" x2="190.1" y2="372" stroke="#555" stroke-width="0.35"/>
<line x1="189.3" y1="372" x2="190.1" y2="372" stroke="#777" stroke-width="0.3"/>
<line x1="189.3" y1="369.85" x2="190.1" y2="369.85" stroke="#777" stroke-width="0.3"/>
<line x1="189.3" y1="367.7" x2="190.1" y2="367.7" stroke="#777" stroke-width="0.3"/>
<line x1="189.3" y1="365.55" x2="190.1" y2="365.55" stroke="#777" stroke-width="0.3"/>
<line x1="189.3" y1="363.4" x2="190.1" y2="363.4" stroke="#777" stroke-width="0.3"/>
<text x="0" y="0" font-size="2.6" font-weight="bold" fill="#333" text-anchor="middle" font-family="'Liberation Sans', Arial, sans-serif" transform="translate(171.2,366.1) rotate(-90)" textLength="7.6" lengthAdjust="spacingAndGlyphs">RPKM</text>
<text x="187.6" y="370.7" font-size="2.8" fill="#444" text-anchor="end" font-family="'Liberation Sans', Arial, sans-serif" textLength="11.05" lengthAdjust="spacingAndGlyphs">5000</text>
<text x="187.6" y="368.6" font-size="2.8" fill="#444" text-anchor="end" font-family="'Liberation Sans', Arial, sans-serif" textLength="13" lengthAdjust="spacingAndGlyphs">10000</text>
<text x="187.6" y="366.5" font-size="2.8" fill="#444" text-anchor="end" font-family="'Liberation Sans', Arial, sans-serif" textLength="13" lengthAdjust="spacingAndGlyphs">15000</text>
<text x="187.6" y="364.4" font-size="2.8" fill="#444" text-anchor="end" font-family="'Liberation Sans', Arial, sans-serif" textLength="13" lengthAdjust="spacingAndGlyphs">20000</text>
<path d="M190.1,372 L190.1,370.87 L190.51,370.76 L190.93,370.51 L191.34,370.59 L191.76,370.15 L192.17,370.48 L192.59,370.04 L193,370.01 L193.4,370.07 L193.8,369.8 L194.2,369.77 L194.6,369.45 L195,369.41 L195.4,369.48 L195.8,369.25 L196.2,369.17 L196.6,369.45 L197,369.04 L197.4,369.01 L197.8,368.91 L198.2,369.01 L198.6,369.17 L199,369.25 L199.4,369 L199.8,369.2 L200.2,368.91 L200.6,368.98 L201,368.84 L201.4,369.13 L201.8,369.22 L202.2,368.98 L202.6,369.16 L203,369.36 L203.4,369.33 L203.8,369.45 L204.2,369.41 L204.6,369.53 L205,369.71 L205.4,369.47 L205.8,369.63 L206.2,369.8 L206.6,370.15 L207,370.3 L207.4,370.14 L207.8,370.21 L208.2,370.4 L208.6,370.73 L209,370.59 L209.43,370.73 L209.86,370.85 L210.29,370.78 L210.71,370.9 L211.14,370.84 L211.57,370.83 L212,370.76 L212.43,371.08 L212.86,370.74 L213.29,370.43 L213.71,370.46 L214.14,370.39 L214.57,370.14 L215,370.43 L215.4,369.97 L215.8,369.98 L216.2,369.92 L216.6,369.97 L217,369.74 L217.4,369.91 L217.8,369.63 L218.2,369.68 L218.6,369.26 L219,369.25 L219.4,369.41 L219.8,369.27 L220.2,369.46 L220.6,369.39 L221,369.57 L221.4,369.22 L221.8,369.27 L222.2,369.27 L222.6,369.61 L223,369.24 L223.4,369.74 L223.8,369.57 L224.2,369.71 L224.6,370.02 L225,369.94 L225.4,369.81 L225.8,370.04 L226.2,370.29 L226.6,370.14 L227,370.47 L227.43,370.23 L227.86,370.51 L228.29,370.7 L228.71,370.28 L229.14,370.76 L229.57,370.69 L230,370.46 L230.42,370.74 L230.83,370.48 L231.25,370.27 L231.67,370.36 L232.08,370.43 L232.5,370.17 L232.92,370.09 L233.33,370.16 L233.75,370.09 L234.17,370.19 L234.58,370.1 L235,369.75 L235.41,369.75 L235.82,370.23 L236.24,370.12 L236.65,370.09 L237.06,369.79 L237.47,370.08 L237.88,370.08 L238.29,369.77 L238.71,370.06 L239.12,369.64 L239.53,369.89 L239.94,369.66 L240.35,369.69 L240.76,369.98 L241.18,369.68 L241.59,369.85 L242,369.94 L242.4,370.01 L242.8,369.66 L243.2,369.71 L243.6,369.82 L244,369.53 L244.4,369.83 L244.8,369.69 L245.2,369.85 L245.6,369.69 L246,369.41 L246.4,369.58 L246.8,369.73 L247.2,369.67 L247.6,369.45 L248,369.61 L248.4,369.29 L248.8,369.68 L249.2,369.26 L249.6,369.36 L250,369.24 L250.4,369.45 L250.8,369.56 L251.2,369.48 L251.6,369.23 L252,369.5 L252.4,369.43 L252.8,369.07 L253.2,369 L253.6,368.98 L254,368.96 L254.4,369.08 L254.8,368.89 L255.2,368.95 L255.6,369 L256,369.04 L256.4,369.18 L256.8,369.1 L257.2,368.97 L257.6,368.81 L258,368.92 L258.4,368.44 L258.8,368.59 L259.2,368.45 L259.6,368.32 L260,368.6 L260.4,368.22 L260.8,368.13 L261.2,368.42 L261.6,368.44 L262,368.05 L262.4,367.93 L262.8,367.89 L263.2,368.01 L263.6,367.83 L264,367.99 L264.4,367.85 L264.8,367.68 L265.2,367.44 L265.6,367.69 L266,367.19 L266.4,367.68 L266.8,367.25 L267.2,367.65 L267.6,367.4 L268,367.44 L268.43,367.16 L268.86,367.19 L269.29,366.86 L269.71,366.85 L270.14,366.36 L270.57,366.51 L271,365.91 L271.4,366.15 L271.8,366.52 L272.2,366.18 L272.6,366.59 L273,366.82 L273.4,366.82 L273.8,367.04 L274.2,367.01 L274.6,366.9 L275,366.86 L275.43,366.99 L275.86,366.84 L276.29,366.81 L276.71,366.82 L277.14,366.94 L277.57,366.97 L278,366.97 L278.4,366.9 L278.8,367.19 L279.2,367.04 L279.6,367.37 L280,367.36 L280.43,367.41 L280.86,367.39 L281.29,367.66 L281.71,367.64 L282.14,367.45 L282.57,367.71 L283,367.51 L283.43,367.48 L283.86,367.88 L284.29,367.71 L284.71,368 L285.14,367.95 L285.57,368.27 L286,368.27 L286.4,368.41 L286.8,368.75 L287.2,368.69 L287.6,368.76 L288,368.92 L288.4,368.92 L288.8,368.9 L289.2,369.05 L289.6,369.14 L290,369.58 L290.42,369.39 L290.83,369.52 L291.25,369.46 L291.67,370.02 L292.08,370.02 L292.5,369.71 L292.92,370.11 L293.33,370.03 L293.75,370.18 L294.17,370.37 L294.58,370.44 L295,370.47 L295.4,370.35 L295.8,370.67 L296.2,370.63 L296.6,370.97 L297,370.86 L297.4,371.01 L297.8,371.03 L298.2,371.06 L298.6,371.55 L299,371.2 L299.4,371.47 L299.8,371.74 L300.2,371.73 L300.6,372 L301,371.9 L301,372 Z" fill="#D50012"/>
<text x="312.4" y="364.1" font-size="2.75" fill="#D50012" text-anchor="end" font-family="'Liberation Sans', Arial, sans-serif" textLength="85" lengthAdjust="spacing">LOC_Os11g47760 MDN4_1_MDN4_2_MDN4_3-1 IncLevel: 0.76</text>
<line x1="190.1" y1="378.58" x2="190.1" y2="387.18" stroke="#555" stroke-width="0.35"/>
<line x1="189.3" y1="387.18" x2="190.1" y2="387.18" stroke="#777" stroke-width="0.3"/>
<line x1="189.3" y1="385.03" x2="190.1" y2="385.03" stroke="#777" stroke-width="0.3"/>
<line x1="189.3" y1="382.88" x2="190.1" y2="382.88" stroke="#777" stroke-width="0.3"/>
<line x1="189.3" y1="380.73" x2="190.1" y2="380.73" stroke="#777" stroke-width="0.3"/>
<line x1="189.3" y1="378.58" x2="190.1" y2="378.58" stroke="#777" stroke-width="0.3"/>
<text x="0" y="0" font-size="2.6" font-weight="bold" fill="#333" text-anchor="middle" font-family="'Liberation Sans', Arial, sans-serif" transform="translate(171.2,381.28) rotate(-90)" textLength="7.6" lengthAdjust="spacingAndGlyphs">RPKM</text>
<text x="187.6" y="385.88" font-size="2.8" fill="#444" text-anchor="end" font-family="'Liberation Sans', Arial, sans-serif" textLength="11.05" lengthAdjust="spacingAndGlyphs">5000</text>
<text x="187.6" y="383.78" font-size="2.8" fill="#444" text-anchor="end" font-family="'Liberation Sans', Arial, sans-serif" textLength="13" lengthAdjust="spacingAndGlyphs">10000</text>
<text x="187.6" y="381.68" font-size="2.8" fill="#444" text-anchor="end" font-family="'Liberation Sans', Arial, sans-serif" textLength="13" lengthAdjust="spacingAndGlyphs">15000</text>
<text x="187.6" y="379.58" font-size="2.8" fill="#444" text-anchor="end" font-family="'Liberation Sans', Arial, sans-serif" textLength="13" lengthAdjust="spacingAndGlyphs">20000</text>
<path d="M190.1,387.18 L190.1,385.93 L190.51,385.5 L190.93,385.43 L191.34,385.22 L191.76,385.44 L192.17,385.34 L192.59,385.07 L193,384.88 L193.4,384.68 L193.8,384.8 L194.2,384.49 L194.6,384.47 L195,384.53 L195.4,384.18 L195.8,384.45 L196.2,384.1 L196.6,384.21 L197,384.19 L197.4,383.95 L197.8,383.9 L198.2,383.83 L198.6,383.93 L199,383.63 L199.4,383.68 L199.8,383.97 L200.2,384.02 L200.6,383.52 L201,383.77 L201.4,384 L201.8,384.03 L202.2,383.84 L202.6,384.17 L203,384.14 L203.4,384.06 L203.8,384.29 L204.2,384.21 L204.6,384.13 L205,384.27 L205.4,384.48 L205.8,384.61 L206.2,384.89 L206.6,384.86 L207,384.98 L207.4,385.14 L207.8,385.31 L208.2,385.31 L208.6,385.71 L209,385.58 L209.43,385.5 L209.86,386.02 L210.29,385.96 L210.71,385.64 L211.14,386.14 L211.57,385.82 L212,385.99 L212.43,386.11 L212.86,385.7 L213.29,385.88 L213.71,385.33 L214.14,385.47 L214.57,385.03 L215,384.91 L215.4,385.2 L215.8,384.97 L216.2,385.01 L216.6,384.61 L217,384.85 L217.4,384.77 L217.8,384.66 L218.2,384.19 L218.6,384.41 L219,384.28 L219.4,384.22 L219.8,384.16 L220.2,384.23 L220.6,383.97 L221,384.27 L221.4,384.2 L221.8,384.01 L222.2,384.32 L222.6,384.35 L223,384.02 L223.4,384.4 L223.8,384.22 L224.2,384.37 L224.6,384.71 L225,384.85 L225.4,385.08 L225.8,384.81 L226.2,385.14 L226.6,385.3 L227,385.5 L227.43,385.51 L227.86,385.22 L228.29,385.62 L228.71,385.44 L229.14,385.44 L229.57,385.53 L230,385.57 L230.42,385.56 L230.83,385.61 L231.25,385.24 L231.67,385.14 L232.08,385.25 L232.5,385.35 L232.92,384.96 L233.33,385.26 L233.75,385.22 L234.17,384.93 L234.58,384.77 L235,384.84 L235.41,385.06 L235.82,384.61 L236.24,385.01 L236.65,384.9 L237.06,384.57 L237.47,384.65 L237.88,384.66 L238.29,384.98 L238.71,384.58 L239.12,384.79 L239.53,384.98 L239.94,384.57 L240.35,384.49 L240.76,384.92 L241.18,384.7 L241.59,384.46 L242,384.73 L242.4,384.73 L242.8,384.46 L243.2,384.61 L243.6,384.31 L244,384.36 L244.4,384.33 L244.8,384.39 L245.2,384.62 L245.6,384.35 L246,384.38 L246.4,384.41 L246.8,384.34 L247.2,384.45 L247.6,384.48 L248,384.1 L248.4,384.35 L248.8,384.46 L249.2,384 L249.6,384.21 L250,384.1 L250.4,384.24 L250.8,384.3 L251.2,384.18 L251.6,383.9 L252,384.15 L252.4,383.8 L252.8,384.07 L253.2,383.75 L253.6,384.07 L254,383.91 L254.4,384.04 L254.8,384 L255.2,383.78 L255.6,383.83 L256,383.71 L256.4,383.81 L256.8,383.7 L257.2,383.64 L257.6,383.29 L258,383.63 L258.4,383.4 L258.8,383.12 L259.2,383.2 L259.6,383.3 L260,382.87 L260.4,383.25 L260.8,383.18 L261.2,383.17 L261.6,382.9 L262,382.63 L262.4,382.83 L262.8,382.73 L263.2,382.38 L263.6,382.65 L264,382.59 L264.4,382.18 L264.8,382.37 L265.2,382.06 L265.6,382.16 L266,381.84 L266.4,381.76 L266.8,382.01 L267.2,382.14 L267.6,382.01 L268,382.02 L268.43,382.1 L268.86,381.76 L269.29,381.44 L269.71,381.13 L270.14,381 L270.57,380.56 L271,380.52 L271.4,380.31 L271.8,380.7 L272.2,380.88 L272.6,381.07 L273,381.16 L273.4,381.23 L273.8,381.01 L274.2,381.36 L274.6,381.46 L275,381.32 L275.43,381.26 L275.86,381.31 L276.29,381.53 L276.71,381.43 L277.14,381.3 L277.57,381.37 L278,381.28 L278.4,381.48 L278.8,381.61 L279.2,381.49 L279.6,381.7 L280,381.92 L280.43,381.94 L280.86,381.9 L281.29,381.9 L281.71,382.26 L282.14,381.88 L282.57,382.11 L283,382.2 L283.43,382.02 L283.86,382.25 L284.29,382.59 L284.71,382.88 L285.14,382.81 L285.57,382.94 L286,383.1 L286.4,383.36 L286.8,383.23 L287.2,383.51 L287.6,383.37 L288,383.6 L288.4,383.83 L288.8,383.68 L289.2,383.99 L289.6,384.28 L290,384.3 L290.42,384.52 L290.83,384.44 L291.25,384.3 L291.67,384.39 L292.08,384.64 L292.5,385 L292.92,385.06 L293.33,385.18 L293.75,385.2 L294.17,385.18 L294.58,385.59 L295,385.46 L295.4,385.6 L295.8,385.59 L296.2,385.61 L296.6,385.94 L297,385.94 L297.4,386.21 L297.8,386.23 L298.2,386.25 L298.6,386.64 L299,386.52 L299.4,386.63 L299.8,386.9 L300.2,386.98 L300.6,386.8 L301,387.06 L301,387.18 Z" fill="#D50012"/>
<text x="312.4" y="379.28" font-size="2.75" fill="#D50012" text-anchor="end" font-family="'Liberation Sans', Arial, sans-serif" textLength="85" lengthAdjust="spacing">LOC_Os11g47760 MDN4_1_MDN4_2_MDN4_3-2 IncLevel: 1.00</text>
<line x1="190.1" y1="393.76" x2="190.1" y2="402.36" stroke="#555" stroke-width="0.35"/>
<line x1="189.3" y1="402.36" x2="190.1" y2="402.36" stroke="#777" stroke-width="0.3"/>
<line x1="189.3" y1="400.21" x2="190.1" y2="400.21" stroke="#777" stroke-width="0.3"/>
<line x1="189.3" y1="398.06" x2="190.1" y2="398.06" stroke="#777" stroke-width="0.3"/>
<line x1="189.3" y1="395.91" x2="190.1" y2="395.91" stroke="#777" stroke-width="0.3"/>
<line x1="189.3" y1="393.76" x2="190.1" y2="393.76" stroke="#777" stroke-width="0.3"/>
<text x="0" y="0" font-size="2.6" font-weight="bold" fill="#333" text-anchor="middle" font-family="'Liberation Sans', Arial, sans-serif" transform="translate(171.2,396.46) rotate(-90)" textLength="7.6" lengthAdjust="spacingAndGlyphs">RPKM</text>
<text x="187.6" y="401.06" font-size="2.8" fill="#444" text-anchor="end" font-family="'Liberation Sans', Arial, sans-serif" textLength="11.05" lengthAdjust="spacingAndGlyphs">5000</text>
<text x="187.6" y="398.96" font-size="2.8" fill="#444" text-anchor="end" font-family="'Liberation Sans', Arial, sans-serif" textLength="13" lengthAdjust="spacingAndGlyphs">10000</text>
<text x="187.6" y="396.86" font-size="2.8" fill="#444" text-anchor="end" font-family="'Liberation Sans', Arial, sans-serif" textLength="13" lengthAdjust="spacingAndGlyphs">15000</text>
<text x="187.6" y="394.76" font-size="2.8" fill="#444" text-anchor="end" font-family="'Liberation Sans', Arial, sans-serif" textLength="13" lengthAdjust="spacingAndGlyphs">20000</text>
<path d="M190.1,402.36 L190.1,401.06 L190.51,401 L190.93,400.82 L191.34,400.58 L191.76,400.5 L192.17,400.4 L192.59,400.28 L193,400.2 L193.4,399.97 L193.8,399.83 L194.2,399.99 L194.6,399.65 L195,399.7 L195.4,399.27 L195.8,399.2 L196.2,399.51 L196.6,399.13 L197,399.22 L197.4,399.31 L197.8,398.91 L198.2,398.87 L198.6,398.9 L199,398.96 L199.4,398.76 L199.8,398.95 L200.2,398.87 L200.6,398.86 L201,398.73 L201.4,398.8 L201.8,399.15 L202.2,399.26 L202.6,399.16 L203,399.21 L203.4,399.4 L203.8,399.21 L204.2,399.29 L204.6,399.44 L205,399.58 L205.4,399.63 L205.8,400.01 L206.2,399.83 L206.6,400.29 L207,400.03 L207.4,400.3 L207.8,400.6 L208.2,400.77 L208.6,400.69 L209,400.88 L209.43,400.82 L209.86,401.16 L210.29,400.83 L210.71,401.1 L211.14,401.14 L211.57,401.04 L212,401.16 L212.43,401.11 L212.86,401.05 L213.29,400.83 L213.71,400.92 L214.14,400.67 L214.57,400.26 L215,400.48 L215.4,400.41 L215.8,399.93 L216.2,400.08 L216.6,399.91 L217,399.79 L217.4,399.63 L217.8,399.74 L218.2,399.42 L218.6,399.71 L219,399.2 L219.4,399.47 L219.8,399.31 L220.2,399.47 L220.6,399.25 L221,399.43 L221.4,399.32 L221.8,399.46 L222.2,399.2 L222.6,399.23 L223,399.52 L223.4,399.36 L223.8,399.38 L224.2,399.85 L224.6,399.98 L225,399.73 L225.4,399.83 L225.8,400.36 L226.2,400.15 L226.6,400.19 L227,400.64 L227.43,400.41 L227.86,400.69 L228.29,400.47 L228.71,400.65 L229.14,400.7 L229.57,400.9 L230,400.67 L230.42,400.59 L230.83,400.74 L231.25,400.81 L231.67,400.72 L232.08,400.58 L232.5,400.16 L232.92,400.23 L233.33,400.09 L233.75,400.11 L234.17,400.36 L234.58,400.17 L235,399.84 L235.41,399.87 L235.82,399.79 L236.24,399.86 L236.65,399.9 L237.06,399.86 L237.47,399.77 L237.88,400 L238.29,400.19 L238.71,400.03 L239.12,400.17 L239.53,400.02 L239.94,399.85 L240.35,400 L240.76,400 L241.18,400.06 L241.59,399.91 L242,399.82 L242.4,399.76 L242.8,399.56 L243.2,399.98 L243.6,399.86 L244,399.93 L244.4,399.48 L244.8,399.6 L245.2,399.57 L245.6,399.47 L246,399.85 L246.4,399.38 L246.8,399.64 L247.2,399.47 L247.6,399.56 L248,399.36 L248.4,399.56 L248.8,399.55 L249.2,399.54 L249.6,399.28 L250,399.39 L250.4,399.51 L250.8,399.38 L251.2,399.24 L251.6,399.31 L252,399.17 L252.4,399.01 L252.8,399.09 L253.2,398.97 L253.6,399.19 L254,398.88 L254.4,398.81 L254.8,398.99 L255.2,399.21 L255.6,399.15 L256,398.78 L256.4,398.66 L256.8,398.68 L257.2,398.72 L257.6,398.64 L258,398.8 L258.4,398.49 L258.8,398.23 L259.2,398.57 L259.6,398.3 L260,398.12 L260.4,398.16 L260.8,398.25 L261.2,398.24 L261.6,397.93 L262,397.78 L262.4,397.71 L262.8,397.86 L263.2,397.59 L263.6,397.47 L264,397.59 L264.4,397.31 L264.8,397.4 L265.2,397.4 L265.6,397.41 L266,396.96 L266.4,396.99 L266.8,397.39 L267.2,397.43 L267.6,397.34 L268,397.45 L268.43,396.94 L268.86,396.96 L269.29,396.52 L269.71,396.29 L270.14,396.14 L270.57,395.64 L271,395.61 L271.4,395.68 L271.8,395.72 L272.2,395.97 L272.6,396.19 L273,395.92 L273.4,396.14 L273.8,396.36 L274.2,396.5 L274.6,396.55 L275,396.83 L275.43,396.89 L275.86,396.6 L276.29,396.38 L276.71,396.73 L277.14,396.24 L277.57,396.49 L278,396.13 L278.4,396.38 L278.8,396.77 L279.2,396.94 L279.6,396.74 L280,396.83 L280.43,396.95 L280.86,397.09 L281.29,397.15 L281.71,397.06 L282.14,397.07 L282.57,397.1 L283,397.41 L283.43,397.27 L283.86,397.34 L284.29,397.66 L284.71,398.07 L285.14,398.11 L285.57,398.01 L286,398.26 L286.4,398.13 L286.8,398.38 L287.2,398.47 L287.6,398.85 L288,398.78 L288.4,398.8 L288.8,398.82 L289.2,398.94 L289.6,399.37 L290,399.37 L290.42,399.24 L290.83,399.79 L291.25,399.9 L291.67,399.95 L292.08,399.78 L292.5,400.09 L292.92,400 L293.33,400.05 L293.75,400.16 L294.17,400.65 L294.58,400.44 L295,400.49 L295.4,400.64 L295.8,400.67 L296.2,400.8 L296.6,401.01 L297,400.99 L297.4,401.26 L297.8,401.58 L298.2,401.6 L298.6,401.38 L299,401.79 L299.4,401.83 L299.8,401.74 L300.2,401.94 L300.6,401.99 L301,402.25 L301,402.36 Z" fill="#D50012"/>
<rect x="263.7" y="404.56" width="6.6" height="2.4" fill="#fff"/>
<text x="267" y="406.61" font-size="2.4" fill="#222" text-anchor="middle" font-family="'Liberation Sans', Arial, sans-serif">50.0</text>
<text x="312.4" y="394.46" font-size="2.75" fill="#D50012" text-anchor="end" font-family="'Liberation Sans', Arial, sans-serif" textLength="85" lengthAdjust="spacing">LOC_Os11g47760 MDN4_1_MDN4_2_MDN4_3-3 IncLevel: 1.00</text>
<line x1="190.1" y1="408.94" x2="190.1" y2="417.54" stroke="#555" stroke-width="0.35"/>
<line x1="189.3" y1="417.54" x2="190.1" y2="417.54" stroke="#777" stroke-width="0.3"/>
<line x1="189.3" y1="415.39" x2="190.1" y2="415.39" stroke="#777" stroke-width="0.3"/>
<line x1="189.3" y1="413.24" x2="190.1" y2="413.24" stroke="#777" stroke-width="0.3"/>
<line x1="189.3" y1="411.09" x2="190.1" y2="411.09" stroke="#777" stroke-width="0.3"/>
<line x1="189.3" y1="408.94" x2="190.1" y2="408.94" stroke="#777" stroke-width="0.3"/>
<text x="0" y="0" font-size="2.6" font-weight="bold" fill="#333" text-anchor="middle" font-family="'Liberation Sans', Arial, sans-serif" transform="translate(171.2,411.64) rotate(-90)" textLength="7.6" lengthAdjust="spacingAndGlyphs">RPKM</text>
<text x="187.6" y="416.24" font-size="2.8" fill="#444" text-anchor="end" font-family="'Liberation Sans', Arial, sans-serif" textLength="11.05" lengthAdjust="spacingAndGlyphs">5000</text>
<text x="187.6" y="414.14" font-size="2.8" fill="#444" text-anchor="end" font-family="'Liberation Sans', Arial, sans-serif" textLength="13" lengthAdjust="spacingAndGlyphs">10000</text>
<text x="187.6" y="412.04" font-size="2.8" fill="#444" text-anchor="end" font-family="'Liberation Sans', Arial, sans-serif" textLength="13" lengthAdjust="spacingAndGlyphs">15000</text>
<text x="187.6" y="409.94" font-size="2.8" fill="#444" text-anchor="end" font-family="'Liberation Sans', Arial, sans-serif" textLength="13" lengthAdjust="spacingAndGlyphs">20000</text>
<path d="M190.1,417.54 L190.1,416.35 L190.51,416.22 L190.93,416.32 L191.34,416.15 L191.76,416.05 L192.17,415.75 L192.59,415.64 L193,415.75 L193.4,415.39 L193.8,415.58 L194.2,415.36 L194.6,415.46 L195,415.15 L195.4,415.24 L195.8,414.76 L196.2,414.97 L196.6,414.66 L197,414.77 L197.4,414.81 L197.8,414.53 L198.2,414.79 L198.6,414.65 L199,414.57 L199.4,414.37 L199.8,414.5 L200.2,414.8 L200.6,414.58 L201,414.31 L201.4,414.42 L201.8,414.73 L202.2,414.91 L202.6,414.9 L203,414.71 L203.4,415.06 L203.8,414.76 L204.2,415.14 L204.6,414.99 L205,415.04 L205.4,415.38 L205.8,415.35 L206.2,415.41 L206.6,415.7 L207,415.67 L207.4,415.74 L207.8,415.68 L208.2,416.13 L208.6,416.29 L209,416.24 L209.43,416.23 L209.86,416.33 L210.29,416.16 L210.71,416.56 L211.14,416.45 L211.57,416.51 L212,416.69 L212.43,416.45 L212.86,416.34 L213.29,416.26 L213.71,415.95 L214.14,415.73 L214.57,415.62 L215,415.88 L215.4,415.72 L215.8,415.36 L216.2,415.71 L216.6,415.63 L217,415.56 L217.4,415.03 L217.8,415.18 L218.2,415.13 L218.6,415.22 L219,414.75 L219.4,414.69 L219.8,414.85 L220.2,414.73 L220.6,414.91 L221,415.03 L221.4,415.1 L221.8,415.04 L222.2,415.12 L222.6,415.01 L223,415.17 L223.4,415.27 L223.8,414.94 L224.2,415.07 L224.6,415.18 L225,415.51 L225.4,415.56 L225.8,415.62 L226.2,415.6 L226.6,415.94 L227,415.93 L227.43,415.94 L227.86,415.83 L228.29,416.1 L228.71,416.3 L229.14,416.13 L229.57,415.92 L230,416.3 L230.42,416.03 L230.83,416.22 L231.25,416.1 L231.67,415.88 L232.08,416.09 L232.5,415.86 L232.92,415.75 L233.33,415.8 L233.75,415.56 L234.17,415.47 L234.58,415.7 L235,415.41 L235.41,415.4 L235.82,415.47 L236.24,415.46 L236.65,415.46 L237.06,415.36 L237.47,415.37 L237.88,415.57 L238.29,415.37 L238.71,415.33 L239.12,415.44 L239.53,415.21 L239.94,415.49 L240.35,415.36 L240.76,415.34 L241.18,415.31 L241.59,415.51 L242,415.26 L242.4,415.51 L242.8,415.28 L243.2,415.3 L243.6,415.16 L244,415.06 L244.4,414.98 L244.8,415.34 L245.2,414.97 L245.6,415.17 L246,415.14 L246.4,415.35 L246.8,414.92 L247.2,415.22 L247.6,415.17 L248,415.14 L248.4,415.15 L248.8,415.11 L249.2,415.09 L249.6,414.94 L250,415.01 L250.4,414.79 L250.8,414.67 L251.2,414.64 L251.6,414.9 L252,414.72 L252.4,414.66 L252.8,414.64 L253.2,414.78 L253.6,414.85 L254,414.54 L254.4,414.57 L254.8,414.69 L255.2,414.51 L255.6,414.78 L256,414.4 L256.4,414.29 L256.8,414.2 L257.2,414.57 L257.6,414.23 L258,414.13 L258.4,414.4 L258.8,414.11 L259.2,414.27 L259.6,414.2 L260,414.24 L260.4,414.06 L260.8,413.73 L261.2,413.8 L261.6,413.64 L262,413.5 L262.4,413.83 L262.8,413.41 L263.2,413.3 L263.6,413.35 L264,413.42 L264.4,413.42 L264.8,413.21 L265.2,413.16 L265.6,413.14 L266,412.85 L266.4,412.91 L266.8,413.14 L267.2,413.22 L267.6,413.1 L268,413.03 L268.43,412.84 L268.86,412.64 L269.29,412.3 L269.71,412.15 L270.14,412.1 L270.57,411.73 L271,411.56 L271.4,411.82 L271.8,412.01 L272.2,412 L272.6,411.93 L273,412.01 L273.4,412.34 L273.8,412.32 L274.2,412.65 L274.6,412.49 L275,412.67 L275.43,412.46 L275.86,412.37 L276.29,412.74 L276.71,412.24 L277.14,412.59 L277.57,412.15 L278,412.1 L278.4,412.6 L278.8,412.68 L279.2,412.88 L279.6,412.61 L280,412.81 L280.43,412.74 L280.86,412.84 L281.29,413.1 L281.71,412.92 L282.14,413.15 L282.57,413.2 L283,413.18 L283.43,413.15 L283.86,413.46 L284.29,413.45 L284.71,413.56 L285.14,413.56 L285.57,413.84 L286,413.98 L286.4,414.01 L286.8,414.16 L287.2,414.12 L287.6,414.54 L288,414.6 L288.4,414.77 L288.8,414.68 L289.2,414.57 L289.6,414.79 L290,414.87 L290.42,414.81 L290.83,414.96 L291.25,415.32 L291.67,415.45 L292.08,415.38 L292.5,415.63 L292.92,415.53 L293.33,415.88 L293.75,415.82 L294.17,415.75 L294.58,416.07 L295,416.22 L295.4,416.01 L295.8,416.38 L296.2,416.12 L296.6,416.36 L297,416.31 L297.4,416.58 L297.8,416.7 L298.2,416.91 L298.6,417.1 L299,416.75 L299.4,417.21 L299.8,417.37 L300.2,417.04 L300.6,417.33 L301,417.44 L301,417.54 Z" fill="#FF8800"/>
<text x="312.4" y="409.64" font-size="2.75" fill="#FF8800" text-anchor="end" font-family="'Liberation Sans', Arial, sans-serif" textLength="82.9" lengthAdjust="spacing">LOC_Os11g47760 CKN4_1_CKN4_2_CKN4_3-1 IncLevel: 1.00</text>
<line x1="190.1" y1="424.12" x2="190.1" y2="432.72" stroke="#555" stroke-width="0.35"/>
<line x1="189.3" y1="432.72" x2="190.1" y2="432.72" stroke="#777" stroke-width="0.3"/>
<line x1="189.3" y1="430.57" x2="190.1" y2="430.57" stroke="#777" stroke-width="0.3"/>
<line x1="189.3" y1="428.42" x2="190.1" y2="428.42" stroke="#777" stroke-width="0.3"/>
<line x1="189.3" y1="426.27" x2="190.1" y2="426.27" stroke="#777" stroke-width="0.3"/>
<line x1="189.3" y1="424.12" x2="190.1" y2="424.12" stroke="#777" stroke-width="0.3"/>
<text x="0" y="0" font-size="2.6" font-weight="bold" fill="#333" text-anchor="middle" font-family="'Liberation Sans', Arial, sans-serif" transform="translate(171.2,426.82) rotate(-90)" textLength="7.6" lengthAdjust="spacingAndGlyphs">RPKM</text>
<text x="187.6" y="431.42" font-size="2.8" fill="#444" text-anchor="end" font-family="'Liberation Sans', Arial, sans-serif" textLength="11.05" lengthAdjust="spacingAndGlyphs">5000</text>
<text x="187.6" y="429.32" font-size="2.8" fill="#444" text-anchor="end" font-family="'Liberation Sans', Arial, sans-serif" textLength="13" lengthAdjust="spacingAndGlyphs">10000</text>
<text x="187.6" y="427.22" font-size="2.8" fill="#444" text-anchor="end" font-family="'Liberation Sans', Arial, sans-serif" textLength="13" lengthAdjust="spacingAndGlyphs">15000</text>
<text x="187.6" y="425.12" font-size="2.8" fill="#444" text-anchor="end" font-family="'Liberation Sans', Arial, sans-serif" textLength="13" lengthAdjust="spacingAndGlyphs">20000</text>
<path d="M190.1,432.72 L190.1,431.6 L190.51,431.33 L190.93,431.32 L191.34,431.45 L191.76,431.34 L192.17,431.05 L192.59,430.93 L193,431.06 L193.4,430.97 L193.8,430.77 L194.2,430.92 L194.6,430.48 L195,430.48 L195.4,430.66 L195.8,430.38 L196.2,430.3 L196.6,430.48 L197,430.24 L197.4,430.04 L197.8,430.19 L198.2,430.03 L198.6,430.26 L199,429.86 L199.4,430.01 L199.8,430.04 L200.2,430.3 L200.6,430.11 L201,430.27 L201.4,430.1 L201.8,430.29 L202.2,430.31 L202.6,430.33 L203,430.47 L203.4,430.45 L203.8,430.4 L204.2,430.63 L204.6,430.48 L205,430.34 L205.4,430.55 L205.8,430.53 L206.2,431.05 L206.6,430.88 L207,431.18 L207.4,430.94 L207.8,431.26 L208.2,431.24 L208.6,431.31 L209,431.73 L209.43,431.79 L209.86,431.47 L210.29,431.51 L210.71,431.74 L211.14,431.98 L211.57,432.02 L212,431.67 L212.43,431.62 L212.86,431.68 L213.29,431.42 L213.71,431.25 L214.14,431.55 L214.57,431.08 L215,430.86 L215.4,430.84 L215.8,430.76 L216.2,430.91 L216.6,430.76 L217,430.93 L217.4,430.52 L217.8,430.52 L218.2,430.57 L218.6,430.68 L219,430.54 L219.4,430.43 L219.8,430.17 L220.2,430.39 L220.6,430.2 L221,430.54 L221.4,430.5 L221.8,430.51 L222.2,430.49 L222.6,430.23 L223,430.45 L223.4,430.56 L223.8,430.47 L224.2,430.68 L224.6,430.55 L225,430.73 L225.4,430.75 L225.8,431.05 L226.2,431.15 L226.6,431.21 L227,431.04 L227.43,431.08 L227.86,431.3 L228.29,431.36 L228.71,431.6 L229.14,431.23 L229.57,431.38 L230,431.5 L230.42,431.58 L230.83,431.38 L231.25,431.22 L231.67,431.4 L232.08,431.35 L232.5,431.18 L232.92,431.15 L233.33,431.35 L233.75,431.27 L234.17,431.07 L234.58,430.86 L235,430.98 L235.41,431.15 L235.82,431.03 L236.24,431.04 L236.65,430.75 L237.06,431 L237.47,430.62 L237.88,430.95 L238.29,431 L238.71,431.07 L239.12,430.82 L239.53,430.8 L239.94,430.65 L240.35,430.7 L240.76,430.75 L241.18,430.98 L241.59,430.54 L242,430.87 L242.4,430.85 L242.8,430.87 L243.2,430.64 L243.6,430.59 L244,430.74 L244.4,430.75 L244.8,430.86 L245.2,430.55 L245.6,430.47 L246,430.75 L246.4,430.67 L246.8,430.4 L247.2,430.4 L247.6,430.67 L248,430.23 L248.4,430.34 L248.8,430.33 L249.2,430.51 L249.6,430.16 L250,430.41 L250.4,430.29 L250.8,430.09 L251.2,430.14 L251.6,430.45 L252,430.44 L252.4,430.38 L252.8,430.4 L253.2,430 L253.6,430.14 L254,430.15 L254.4,430.18 L254.8,430.09 L255.2,430.1 L255.6,429.93 L256,430.06 L256.4,429.79 L256.8,429.75 L257.2,429.69 L257.6,429.7 L258,429.94 L258.4,429.77 L258.8,429.51 L259.2,429.71 L259.6,429.55 L260,429.68 L260.4,429.33 L260.8,429.53 L261.2,429.47 L261.6,429.19 L262,429.51 L262.4,429.47 L262.8,429.19 L263.2,429.11 L263.6,429.21 L264,428.99 L264.4,428.73 L264.8,428.6 L265.2,428.51 L265.6,428.5 L266,428.79 L266.4,428.68 L266.8,428.68 L267.2,428.92 L267.6,428.58 L268,428.87 L268.43,428.43 L268.86,428.29 L269.29,428.3 L269.71,428.07 L270.14,427.82 L270.57,427.76 L271,427.65 L271.4,427.54 L271.8,427.73 L272.2,427.8 L272.6,427.63 L273,427.74 L273.4,427.99 L273.8,428.28 L274.2,428 L274.6,428.34 L275,428.51 L275.43,428.15 L275.86,428.03 L276.29,428.32 L276.71,428.13 L277.14,427.92 L277.57,428.07 L278,428.12 L278.4,428.32 L278.8,428.49 L279.2,428.17 L279.6,428.32 L280,428.74 L280.43,428.53 L280.86,428.79 L281.29,428.53 L281.71,428.74 L282.14,428.61 L282.57,428.72 L283,428.97 L283.43,428.83 L283.86,428.89 L284.29,429.3 L284.71,429.4 L285.14,429.39 L285.57,429.27 L286,429.24 L286.4,429.6 L286.8,429.48 L287.2,429.64 L287.6,429.95 L288,429.96 L288.4,429.85 L288.8,430.12 L289.2,430.2 L289.6,430.18 L290,430.56 L290.42,430.48 L290.83,430.53 L291.25,430.59 L291.67,430.61 L292.08,430.91 L292.5,430.89 L292.92,430.98 L293.33,431.24 L293.75,430.98 L294.17,430.98 L294.58,431.26 L295,431.41 L295.4,431.52 L295.8,431.56 L296.2,431.69 L296.6,431.82 L297,431.57 L297.4,431.94 L297.8,432.1 L298.2,431.96 L298.6,432.37 L299,432.28 L299.4,432.26 L299.8,432.22 L300.2,432.56 L300.6,432.72 L301,432.63 L301,432.72 Z" fill="#FF8800"/>
<text x="312.4" y="424.82" font-size="2.75" fill="#FF8800" text-anchor="end" font-family="'Liberation Sans', Arial, sans-serif" textLength="82.9" lengthAdjust="spacing">LOC_Os11g47760 CKN4_1_CKN4_2_CKN4_3-2 IncLevel: 1.00</text>
<line x1="190.1" y1="439.3" x2="190.1" y2="447.9" stroke="#555" stroke-width="0.35"/>
<line x1="189.3" y1="447.9" x2="190.1" y2="447.9" stroke="#777" stroke-width="0.3"/>
<line x1="189.3" y1="445.75" x2="190.1" y2="445.75" stroke="#777" stroke-width="0.3"/>
<line x1="189.3" y1="443.6" x2="190.1" y2="443.6" stroke="#777" stroke-width="0.3"/>
<line x1="189.3" y1="441.45" x2="190.1" y2="441.45" stroke="#777" stroke-width="0.3"/>
<line x1="189.3" y1="439.3" x2="190.1" y2="439.3" stroke="#777" stroke-width="0.3"/>
<text x="0" y="0" font-size="2.6" font-weight="bold" fill="#333" text-anchor="middle" font-family="'Liberation Sans', Arial, sans-serif" transform="translate(171.2,442) rotate(-90)" textLength="7.6" lengthAdjust="spacingAndGlyphs">RPKM</text>
<text x="187.6" y="446.6" font-size="2.8" fill="#444" text-anchor="end" font-family="'Liberation Sans', Arial, sans-serif" textLength="11.05" lengthAdjust="spacingAndGlyphs">5000</text>
<text x="187.6" y="444.5" font-size="2.8" fill="#444" text-anchor="end" font-family="'Liberation Sans', Arial, sans-serif" textLength="13" lengthAdjust="spacingAndGlyphs">10000</text>
<text x="187.6" y="442.4" font-size="2.8" fill="#444" text-anchor="end" font-family="'Liberation Sans', Arial, sans-serif" textLength="13" lengthAdjust="spacingAndGlyphs">15000</text>
<text x="187.6" y="440.3" font-size="2.8" fill="#444" text-anchor="end" font-family="'Liberation Sans', Arial, sans-serif" textLength="13" lengthAdjust="spacingAndGlyphs">20000</text>
<path d="M190.1,447.9 L190.1,446.53 L190.51,446.9 L190.93,446.58 L191.34,446.43 L191.76,446.08 L192.17,446.29 L192.59,446.24 L193,446.11 L193.4,445.99 L193.8,446.03 L194.2,445.57 L194.6,445.69 L195,445.5 L195.4,445.66 L195.8,445.38 L196.2,445.19 L196.6,445.45 L197,445.01 L197.4,445.33 L197.8,445.09 L198.2,444.96 L198.6,445.18 L199,444.93 L199.4,445.18 L199.8,445.14 L200.2,444.88 L200.6,445.02 L201,445.27 L201.4,445.28 L201.8,445.15 L202.2,445.3 L202.6,445.5 L203,445.18 L203.4,445.48 L203.8,445.25 L204.2,445.57 L204.6,445.72 L205,445.66 L205.4,445.56 L205.8,445.63 L206.2,445.9 L206.6,446.16 L207,446.13 L207.4,446.37 L207.8,446.42 L208.2,446.7 L208.6,446.8 L209,446.45 L209.43,446.57 L209.86,446.87 L210.29,446.73 L210.71,447.06 L211.14,446.7 L211.57,446.85 L212,446.84 L212.43,446.88 L212.86,446.77 L213.29,446.47 L213.71,446.61 L214.14,446.62 L214.57,446.49 L215,445.98 L215.4,446.23 L215.8,446.26 L216.2,445.93 L216.6,446.07 L217,445.85 L217.4,445.6 L217.8,445.79 L218.2,445.62 L218.6,445.29 L219,445.25 L219.4,445.25 L219.8,445.66 L220.2,445.19 L220.6,445.4 L221,445.6 L221.4,445.19 L221.8,445.62 L222.2,445.19 L222.6,445.66 L223,445.64 L223.4,445.54 L223.8,445.57 L224.2,445.67 L224.6,445.65 L225,446.1 L225.4,445.89 L225.8,446.18 L226.2,445.96 L226.6,446.22 L227,446.28 L227.43,446.59 L227.86,446.23 L228.29,446.57 L228.71,446.63 L229.14,446.56 L229.57,446.4 L230,446.66 L230.42,446.54 L230.83,446.42 L231.25,446.55 L231.67,446.57 L232.08,446.38 L232.5,446.18 L232.92,446.15 L233.33,446.33 L233.75,446.06 L234.17,445.93 L234.58,445.95 L235,446.16 L235.41,446.22 L235.82,445.73 L236.24,445.86 L236.65,446.07 L237.06,445.82 L237.47,445.89 L237.88,445.86 L238.29,445.98 L238.71,445.82 L239.12,445.95 L239.53,445.93 L239.94,445.95 L240.35,445.74 L240.76,445.66 L241.18,445.94 L241.59,446.03 L242,445.93 L242.4,445.66 L242.8,445.84 L243.2,446 L243.6,445.56 L244,445.75 L244.4,445.91 L244.8,445.55 L245.2,445.65 L245.6,445.47 L246,445.45 L246.4,445.44 L246.8,445.39 L247.2,445.62 L247.6,445.39 L248,445.53 L248.4,445.43 L248.8,445.63 L249.2,445.41 L249.6,445.66 L250,445.25 L250.4,445.57 L250.8,445.34 L251.2,445.18 L251.6,445.17 L252,445.13 L252.4,445.32 L252.8,445.47 L253.2,444.98 L253.6,445.3 L254,444.99 L254.4,445.2 L254.8,445.16 L255.2,445.08 L255.6,445.05 L256,444.91 L256.4,444.96 L256.8,445.11 L257.2,444.88 L257.6,445.05 L258,444.62 L258.4,444.91 L258.8,444.76 L259.2,444.6 L259.6,444.67 L260,444.35 L260.4,444.35 L260.8,444.53 L261.2,444.43 L261.6,444.22 L262,444.28 L262.4,444.15 L262.8,444.22 L263.2,444.03 L263.6,443.94 L264,443.71 L264.4,443.91 L264.8,443.61 L265.2,443.82 L265.6,443.71 L266,443.66 L266.4,443.35 L266.8,443.81 L267.2,443.75 L267.6,443.7 L268,443.61 L268.43,443.44 L268.86,443.5 L269.29,443.16 L269.71,442.8 L270.14,442.88 L270.57,442.69 L271,442.13 L271.4,442.64 L271.8,442.7 L272.2,442.74 L272.6,442.51 L273,442.85 L273.4,442.9 L273.8,442.94 L274.2,442.86 L274.6,443.38 L275,443.4 L275.43,443.25 L275.86,443.09 L276.29,443.31 L276.71,443.11 L277.14,443.01 L277.57,443.22 L278,443.04 L278.4,443.29 L278.8,442.98 L279.2,443.55 L279.6,443.59 L280,443.47 L280.43,443.69 L280.86,443.55 L281.29,443.69 L281.71,443.39 L282.14,443.63 L282.57,443.77 L283,443.88 L283.43,443.84 L283.86,443.8 L284.29,443.94 L284.71,444.05 L285.14,444.25 L285.57,444.15 L286,444.53 L286.4,444.55 L286.8,444.44 L287.2,444.62 L287.6,444.87 L288,444.81 L288.4,444.91 L288.8,445.25 L289.2,445.29 L289.6,445.21 L290,445.49 L290.42,445.59 L290.83,445.59 L291.25,445.9 L291.67,445.9 L292.08,445.62 L292.5,446.08 L292.92,445.89 L293.33,446.37 L293.75,446.31 L294.17,446.29 L294.58,446.48 L295,446.25 L295.4,446.33 L295.8,446.75 L296.2,446.92 L296.6,446.62 L297,446.77 L297.4,447 L297.8,447.32 L298.2,447.43 L298.6,447.18 L299,447.27 L299.4,447.47 L299.8,447.62 L300.2,447.74 L300.6,447.78 L301,447.8 L301,447.9 Z" fill="#FF8800"/>
<text x="312.4" y="440" font-size="2.75" fill="#FF8800" text-anchor="end" font-family="'Liberation Sans', Arial, sans-serif" textLength="82.9" lengthAdjust="spacing">LOC_Os11g47760 CKN4_1_CKN4_2_CKN4_3-3 IncLevel: 1.00</text>
<line x1="190.1" y1="453.6" x2="312.4" y2="453.6" stroke="#444" stroke-width="0.4"/>
<line x1="190.1" y1="453.6" x2="190.1" y2="454.9" stroke="#444" stroke-width="0.35"/>
<text x="190.1" y="457.9" font-size="2.6" fill="#333" text-anchor="middle" font-family="'Liberation Sans', Arial, sans-serif" textLength="10.4" lengthAdjust="spacingAndGlyphs">28806455</text>
<line x1="214.56" y1="453.6" x2="214.56" y2="454.9" stroke="#444" stroke-width="0.35"/>
<text x="214.56" y="457.9" font-size="2.6" fill="#333" text-anchor="middle" font-family="'Liberation Sans', Arial, sans-serif" textLength="10.4" lengthAdjust="spacingAndGlyphs">28806874</text>
<line x1="239.02" y1="453.6" x2="239.02" y2="454.9" stroke="#444" stroke-width="0.35"/>
<text x="239.02" y="457.9" font-size="2.6" fill="#333" text-anchor="middle" font-family="'Liberation Sans', Arial, sans-serif" textLength="10.4" lengthAdjust="spacingAndGlyphs">28807293</text>
<line x1="263.48" y1="453.6" x2="263.48" y2="454.9" stroke="#444" stroke-width="0.35"/>
<text x="263.48" y="457.9" font-size="2.6" fill="#333" text-anchor="middle" font-family="'Liberation Sans', Arial, sans-serif" textLength="10.4" lengthAdjust="spacingAndGlyphs">28807712</text>
<line x1="287.94" y1="453.6" x2="287.94" y2="454.9" stroke="#444" stroke-width="0.35"/>
<text x="287.94" y="457.9" font-size="2.6" fill="#333" text-anchor="middle" font-family="'Liberation Sans', Arial, sans-serif" textLength="10.4" lengthAdjust="spacingAndGlyphs">28808131</text>
<line x1="312.4" y1="453.6" x2="312.4" y2="454.9" stroke="#444" stroke-width="0.35"/>
<text x="312.4" y="457.9" font-size="2.6" fill="#333" text-anchor="middle" font-family="'Liberation Sans', Arial, sans-serif" textLength="10.4" lengthAdjust="spacingAndGlyphs">28808550</text>
<text x="222.5" y="461.7" font-size="3" fill="#222" text-anchor="start" font-family="'Liberation Sans', Arial, sans-serif" textLength="57" lengthAdjust="spacingAndGlyphs">Genomic coordinate (Chr11), &quot;+&quot; strand</text>
<text x="221.5" y="474.5" font-size="6.1" fill="#111" text-anchor="start" font-family="'Liberation Serif', 'Times New Roman', serif" textLength="55.9" lengthAdjust="spacingAndGlyphs" stroke="#000" stroke-width="0.1">RI: LOC_Os11g47760</text>
<line x1="190.1" y1="484.9" x2="312.4" y2="484.9" stroke="#333" stroke-width="0.9" stroke-dasharray="1.2 1.2"/>
<rect x="190.1" y="483.55" width="122.3" height="2.7" fill="#000"/>
<line x1="190.1" y1="494.7" x2="312.4" y2="494.7" stroke="#333" stroke-width="0.9" stroke-dasharray="1.2 1.2"/>
<rect x="190.1" y="493.35" width="77.6" height="2.7" fill="#000"/>
<rect x="270" y="493.35" width="42.4" height="2.7" fill="#000"/>
<text x="363.6" y="343.5" font-size="8" fill="#111" text-anchor="start" font-family="'Liberation Serif', 'Times New Roman', serif" stroke="#111" stroke-width="0.15">I</text>
<text x="352.2" y="349.1" font-size="3.7" fill="#222" text-anchor="start" font-family="'Liberation Sans', Arial, sans-serif" textLength="217.33" lengthAdjust="spacing" stroke="#222" stroke-width="0.08">Chr12:23591104:23591268:-@Chr12:23590959:23590999:-@Chr12:23585453:23585493:-@Chr12:23585185:23585285:-</text>
<line x1="382.8" y1="363.4" x2="382.8" y2="372" stroke="#555" stroke-width="0.35"/>
<line x1="382" y1="372" x2="382.8" y2="372" stroke="#777" stroke-width="0.3"/>
<line x1="382" y1="369.85" x2="382.8" y2="369.85" stroke="#777" stroke-width="0.3"/>
<line x1="382" y1="367.7" x2="382.8" y2="367.7" stroke="#777" stroke-width="0.3"/>
<line x1="382" y1="365.55" x2="382.8" y2="365.55" stroke="#777" stroke-width="0.3"/>
<line x1="382" y1="363.4" x2="382.8" y2="363.4" stroke="#777" stroke-width="0.3"/>
<text x="0" y="0" font-size="2.6" font-weight="bold" fill="#333" text-anchor="middle" font-family="'Liberation Sans', Arial, sans-serif" transform="translate(366.9,366.1) rotate(-90)" textLength="7.6" lengthAdjust="spacingAndGlyphs">RPKM</text>
<text x="381.3" y="370.7" font-size="2.8" fill="#444" text-anchor="end" font-family="'Liberation Sans', Arial, sans-serif" textLength="8.33" lengthAdjust="spacingAndGlyphs">1000</text>
<text x="381.3" y="368.6" font-size="2.8" fill="#444" text-anchor="end" font-family="'Liberation Sans', Arial, sans-serif" textLength="9.8" lengthAdjust="spacingAndGlyphs">2000</text>
<text x="381.3" y="366.5" font-size="2.8" fill="#444" text-anchor="end" font-family="'Liberation Sans', Arial, sans-serif" textLength="9.8" lengthAdjust="spacingAndGlyphs">3000</text>
<text x="381.3" y="364.4" font-size="2.8" fill="#444" text-anchor="end" font-family="'Liberation Sans', Arial, sans-serif" textLength="9.8" lengthAdjust="spacingAndGlyphs">4000</text>
<path d="M383,372 L383,371.2 L385.3,368.6 L386.9,368.1 L386.9,372 Z" fill="#D50012"/>
<path d="M388,372 L388,368.1 L389.9,368.3 L389.9,372 Z" fill="#D50012"/>
<path d="M393,372 L393,371.7 L394,371.1 L395.2,371 L395.2,372 Z" fill="#D50012"/>
<path d="M397,372 L397,371.8 L400,370.6 L400.5,370.74 L400.5,372 Z" fill="#D50012"/>
<path d="M405,372 L405,371.9 L406,371.4 L410,371.7 L414,371.9 L414,372 Z" fill="#D50012"/>
<path d="M499.3,372 L499.3,368.4 L500.5,368.4 L500.5,372 Z" fill="#D50012"/>
<path d="M504.2,372 L504.2,367.8 L505.1,367.8 L505.1,372 Z" fill="#D50012"/>
<path d="M392,364.7 L415,364.9 L440,365.4 L460,366 L478,366.8 L492,367.8 L498.5,368.6 L499.3,369" fill="none" stroke="#D50012" stroke-width="1.1" stroke-opacity="0.95" stroke-linejoin="round"/>
<path d="M392,367.1 L410,366.3 L430,365.9 L445,365.9 L462,366.5 L480,367.3 L495,368.3 L504.2,369" fill="none" stroke="#D50012" stroke-width="0.7" stroke-opacity="0.8" stroke-linejoin="round"/>
<rect x="384.6" y="364.4" width="6.6" height="2.4" fill="#fff"/>
<text x="387.9" y="366.45" font-size="2.4" fill="#222" text-anchor="middle" font-family="'Liberation Sans', Arial, sans-serif">3200</text>
<rect x="439.3" y="364.7" width="12.4" height="2.4" fill="#fff"/>
<text x="445.5" y="366.75" font-size="2.4" fill="#222" text-anchor="middle" font-family="'Liberation Sans', Arial, sans-serif">3.0 3200</text>
<rect x="499.2" y="364.6" width="6.6" height="2.4" fill="#fff"/>
<text x="502.5" y="366.65" font-size="2.4" fill="#222" text-anchor="middle" font-family="'Liberation Sans', Arial, sans-serif">76.0</text>
<text x="505.1" y="364.1" font-size="2.75" fill="#D50012" text-anchor="end" font-family="'Liberation Sans', Arial, sans-serif" textLength="63.5" lengthAdjust="spacing">NA MDN4_1_MDN4_2_MDN4_3-1 IncLevel: 0.00</text>
<line x1="382.8" y1="378.58" x2="382.8" y2="387.18" stroke="#555" stroke-width="0.35"/>
<line x1="382" y1="387.18" x2="382.8" y2="387.18" stroke="#777" stroke-width="0.3"/>
<line x1="382" y1="385.03" x2="382.8" y2="385.03" stroke="#777" stroke-width="0.3"/>
<line x1="382" y1="382.88" x2="382.8" y2="382.88" stroke="#777" stroke-width="0.3"/>
<line x1="382" y1="380.73" x2="382.8" y2="380.73" stroke="#777" stroke-width="0.3"/>
<line x1="382" y1="378.58" x2="382.8" y2="378.58" stroke="#777" stroke-width="0.3"/>
<text x="0" y="0" font-size="2.6" font-weight="bold" fill="#333" text-anchor="middle" font-family="'Liberation Sans', Arial, sans-serif" transform="translate(366.9,381.28) rotate(-90)" textLength="7.6" lengthAdjust="spacingAndGlyphs">RPKM</text>
<text x="381.3" y="385.88" font-size="2.8" fill="#444" text-anchor="end" font-family="'Liberation Sans', Arial, sans-serif" textLength="8.33" lengthAdjust="spacingAndGlyphs">1000</text>
<text x="381.3" y="383.78" font-size="2.8" fill="#444" text-anchor="end" font-family="'Liberation Sans', Arial, sans-serif" textLength="9.8" lengthAdjust="spacingAndGlyphs">2000</text>
<text x="381.3" y="381.68" font-size="2.8" fill="#444" text-anchor="end" font-family="'Liberation Sans', Arial, sans-serif" textLength="9.8" lengthAdjust="spacingAndGlyphs">3000</text>
<text x="381.3" y="379.58" font-size="2.8" fill="#444" text-anchor="end" font-family="'Liberation Sans', Arial, sans-serif" textLength="9.8" lengthAdjust="spacingAndGlyphs">4000</text>
<path d="M383,387.18 L383,386.3 L385.3,383.44 L386.9,382.89 L386.9,387.18 Z" fill="#D50012"/>
<path d="M388,387.18 L388,382.89 L389.9,383.11 L389.9,387.18 Z" fill="#D50012"/>
<path d="M393,387.18 L393,386.88 L394,385.38 L395.2,385.18 L395.2,387.18 Z" fill="#D50012"/>
<path d="M397,387.18 L397,386.98 L400,383.68 L400.5,384.03 L400.5,387.18 Z" fill="#D50012"/>
<path d="M405,387.18 L405,387.08 L406,385.78 L410,386.48 L414,387.08 L414,387.18 Z" fill="#D50012"/>
<path d="M499.3,387.18 L499.3,383.22 L500.5,383.22 L500.5,387.18 Z" fill="#D50012"/>
<path d="M504.2,387.18 L504.2,382.56 L505.1,382.56 L505.1,387.18 Z" fill="#D50012"/>
<path d="M392,379.88 L415,380.08 L440,380.58 L460,381.18 L478,381.98 L492,382.98 L498.5,383.78 L499.3,384.18" fill="none" stroke="#D50012" stroke-width="1.1" stroke-opacity="0.95" stroke-linejoin="round"/>
<path d="M392,382.28 L410,381.48 L430,381.08 L445,381.08 L462,381.68 L480,382.48 L495,383.48 L504.2,384.18" fill="none" stroke="#D50012" stroke-width="0.7" stroke-opacity="0.8" stroke-linejoin="round"/>
<rect x="384.6" y="379.58" width="6.6" height="2.4" fill="#fff"/>
<text x="387.9" y="381.63" font-size="2.4" fill="#222" text-anchor="middle" font-family="'Liberation Sans', Arial, sans-serif">3474</text>
<rect x="439.3" y="379.88" width="12.4" height="2.4" fill="#fff"/>
<text x="445.5" y="381.93" font-size="2.4" fill="#222" text-anchor="middle" font-family="'Liberation Sans', Arial, sans-serif">2.0 3474</text>
<rect x="499.2" y="379.78" width="6.6" height="2.4" fill="#fff"/>
<text x="502.5" y="381.83" font-size="2.4" fill="#222" text-anchor="middle" font-family="'Liberation Sans', Arial, sans-serif">91.0</text>
<text x="505.1" y="379.28" font-size="2.75" fill="#D50012" text-anchor="end" font-family="'Liberation Sans', Arial, sans-serif" textLength="63.5" lengthAdjust="spacing">NA MDN4_1_MDN4_2_MDN4_3-2 IncLevel: 0.00</text>
<line x1="382.8" y1="393.76" x2="382.8" y2="402.36" stroke="#555" stroke-width="0.35"/>
<line x1="382" y1="402.36" x2="382.8" y2="402.36" stroke="#777" stroke-width="0.3"/>
<line x1="382" y1="400.21" x2="382.8" y2="400.21" stroke="#777" stroke-width="0.3"/>
<line x1="382" y1="398.06" x2="382.8" y2="398.06" stroke="#777" stroke-width="0.3"/>
<line x1="382" y1="395.91" x2="382.8" y2="395.91" stroke="#777" stroke-width="0.3"/>
<line x1="382" y1="393.76" x2="382.8" y2="393.76" stroke="#777" stroke-width="0.3"/>
<text x="0" y="0" font-size="2.6" font-weight="bold" fill="#333" text-anchor="middle" font-family="'Liberation Sans', Arial, sans-serif" transform="translate(366.9,396.46) rotate(-90)" textLength="7.6" lengthAdjust="spacingAndGlyphs">RPKM</text>
<text x="381.3" y="401.06" font-size="2.8" fill="#444" text-anchor="end" font-family="'Liberation Sans', Arial, sans-serif" textLength="8.33" lengthAdjust="spacingAndGlyphs">1000</text>
<text x="381.3" y="398.96" font-size="2.8" fill="#444" text-anchor="end" font-family="'Liberation Sans', Arial, sans-serif" textLength="9.8" lengthAdjust="spacingAndGlyphs">2000</text>
<text x="381.3" y="396.86" font-size="2.8" fill="#444" text-anchor="end" font-family="'Liberation Sans', Arial, sans-serif" textLength="9.8" lengthAdjust="spacingAndGlyphs">3000</text>
<text x="381.3" y="394.76" font-size="2.8" fill="#444" text-anchor="end" font-family="'Liberation Sans', Arial, sans-serif" textLength="9.8" lengthAdjust="spacingAndGlyphs">4000</text>
<path d="M383,402.36 L383,401.52 L385.3,398.79 L386.9,398.26 L386.9,402.36 Z" fill="#D50012"/>
<path d="M388,402.36 L388,398.26 L389.9,398.48 L389.9,402.36 Z" fill="#D50012"/>
<path d="M393,402.36 L393,402.06 L394,400.56 L395.2,400.36 L395.2,402.36 Z" fill="#D50012"/>
<path d="M397,402.36 L397,402.16 L400,398.86 L400.5,399.21 L400.5,402.36 Z" fill="#D50012"/>
<path d="M405,402.36 L405,402.26 L406,400.96 L410,401.66 L414,402.26 L414,402.36 Z" fill="#D50012"/>
<path d="M499.3,402.36 L499.3,398.58 L500.5,398.58 L500.5,402.36 Z" fill="#D50012"/>
<path d="M504.2,402.36 L504.2,397.95 L505.1,397.95 L505.1,402.36 Z" fill="#D50012"/>
<path d="M392,395.06 L415,395.26 L440,395.76 L460,396.36 L478,397.16 L492,398.16 L498.5,398.96 L499.3,399.36" fill="none" stroke="#D50012" stroke-width="1.1" stroke-opacity="0.95" stroke-linejoin="round"/>
<path d="M392,397.46 L410,396.66 L430,396.26 L445,396.26 L462,396.86 L480,397.66 L495,398.66 L504.2,399.36" fill="none" stroke="#D50012" stroke-width="0.7" stroke-opacity="0.8" stroke-linejoin="round"/>
<rect x="384.6" y="394.76" width="6.6" height="2.4" fill="#fff"/>
<text x="387.9" y="396.81" font-size="2.4" fill="#222" text-anchor="middle" font-family="'Liberation Sans', Arial, sans-serif">3809</text>
<rect x="439.3" y="395.06" width="12.4" height="2.4" fill="#fff"/>
<text x="445.5" y="397.11" font-size="2.4" fill="#222" text-anchor="middle" font-family="'Liberation Sans', Arial, sans-serif">4.0 3809</text>
<rect x="499.2" y="394.96" width="6.6" height="2.4" fill="#fff"/>
<text x="502.5" y="397.01" font-size="2.4" fill="#222" text-anchor="middle" font-family="'Liberation Sans', Arial, sans-serif">80.0</text>
<text x="505.1" y="394.46" font-size="2.75" fill="#D50012" text-anchor="end" font-family="'Liberation Sans', Arial, sans-serif" textLength="63.5" lengthAdjust="spacing">NA MDN4_1_MDN4_2_MDN4_3-3 IncLevel: 0.00</text>
<line x1="382.8" y1="408.94" x2="382.8" y2="417.54" stroke="#555" stroke-width="0.35"/>
<line x1="382" y1="417.54" x2="382.8" y2="417.54" stroke="#777" stroke-width="0.3"/>
<line x1="382" y1="415.39" x2="382.8" y2="415.39" stroke="#777" stroke-width="0.3"/>
<line x1="382" y1="413.24" x2="382.8" y2="413.24" stroke="#777" stroke-width="0.3"/>
<line x1="382" y1="411.09" x2="382.8" y2="411.09" stroke="#777" stroke-width="0.3"/>
<line x1="382" y1="408.94" x2="382.8" y2="408.94" stroke="#777" stroke-width="0.3"/>
<text x="0" y="0" font-size="2.6" font-weight="bold" fill="#333" text-anchor="middle" font-family="'Liberation Sans', Arial, sans-serif" transform="translate(366.9,411.64) rotate(-90)" textLength="7.6" lengthAdjust="spacingAndGlyphs">RPKM</text>
<text x="381.3" y="416.24" font-size="2.8" fill="#444" text-anchor="end" font-family="'Liberation Sans', Arial, sans-serif" textLength="8.33" lengthAdjust="spacingAndGlyphs">1000</text>
<text x="381.3" y="414.14" font-size="2.8" fill="#444" text-anchor="end" font-family="'Liberation Sans', Arial, sans-serif" textLength="9.8" lengthAdjust="spacingAndGlyphs">2000</text>
<text x="381.3" y="412.04" font-size="2.8" fill="#444" text-anchor="end" font-family="'Liberation Sans', Arial, sans-serif" textLength="9.8" lengthAdjust="spacingAndGlyphs">3000</text>
<text x="381.3" y="409.94" font-size="2.8" fill="#444" text-anchor="end" font-family="'Liberation Sans', Arial, sans-serif" textLength="9.8" lengthAdjust="spacingAndGlyphs">4000</text>
<path d="M383,417.54 L383,417.06 L385.3,415.5 L386.9,415.2 L386.9,417.54 Z" fill="#FF8800"/>
<path d="M388,417.54 L388,415.2 L389.9,415.32 L389.9,417.54 Z" fill="#FF8800"/>
<path d="M393,417.54 L393,417.24 L394,416.64 L395.2,416.54 L395.2,417.54 Z" fill="#FF8800"/>
<path d="M397,417.54 L397,417.34 L400,415.54 L400.5,415.74 L400.5,417.54 Z" fill="#FF8800"/>
<path d="M405,417.54 L405,417.44 L406,416.54 L410,417.04 L414,417.44 L414,417.54 Z" fill="#FF8800"/>
<path d="M499.3,417.54 L499.3,415.38 L500.5,415.38 L500.5,417.54 Z" fill="#FF8800"/>
<path d="M504.2,417.54 L504.2,415.02 L505.1,415.02 L505.1,417.54 Z" fill="#FF8800"/>
<path d="M392,412.04 L415,412.04 L440,412.34 L460,412.74 L478,413.24 L492,413.94 L499.3,414.74" fill="none" stroke="#FF8800" stroke-width="1.1" stroke-opacity="0.95" stroke-linejoin="round"/>
<path d="M392,413.24 L415,412.74 L440,412.64 L462,413.04 L480,413.54 L495,414.24 L504.2,414.94" fill="none" stroke="#FF8800" stroke-width="0.7" stroke-opacity="0.8" stroke-linejoin="round"/>
<rect x="384.6" y="411.44" width="6.6" height="2.4" fill="#fff"/>
<text x="387.9" y="413.49" font-size="2.4" fill="#222" text-anchor="middle" font-family="'Liberation Sans', Arial, sans-serif">7864</text>
<rect x="439.3" y="411.74" width="12.4" height="2.4" fill="#fff"/>
<text x="445.5" y="413.79" font-size="2.4" fill="#222" text-anchor="middle" font-family="'Liberation Sans', Arial, sans-serif">7.0 7864</text>
<rect x="499.2" y="411.64" width="6.6" height="2.4" fill="#fff"/>
<text x="502.5" y="413.69" font-size="2.4" fill="#222" text-anchor="middle" font-family="'Liberation Sans', Arial, sans-serif">40.0</text>
<text x="505.1" y="409.64" font-size="2.75" fill="#FF8800" text-anchor="end" font-family="'Liberation Sans', Arial, sans-serif" textLength="61.1" lengthAdjust="spacing">NA CKN4_1_CKN4_2_CKN4_3-1 IncLevel: 0.00</text>
<line x1="382.8" y1="424.12" x2="382.8" y2="432.72" stroke="#555" stroke-width="0.35"/>
<line x1="382" y1="432.72" x2="382.8" y2="432.72" stroke="#777" stroke-width="0.3"/>
<line x1="382" y1="430.57" x2="382.8" y2="430.57" stroke="#777" stroke-width="0.3"/>
<line x1="382" y1="428.42" x2="382.8" y2="428.42" stroke="#777" stroke-width="0.3"/>
<line x1="382" y1="426.27" x2="382.8" y2="426.27" stroke="#777" stroke-width="0.3"/>
<line x1="382" y1="424.12" x2="382.8" y2="424.12" stroke="#777" stroke-width="0.3"/>
<text x="0" y="0" font-size="2.6" font-weight="bold" fill="#333" text-anchor="middle" font-family="'Liberation Sans', Arial, sans-serif" transform="translate(366.9,426.82) rotate(-90)" textLength="7.6" lengthAdjust="spacingAndGlyphs">RPKM</text>
<text x="381.3" y="431.42" font-size="2.8" fill="#444" text-anchor="end" font-family="'Liberation Sans', Arial, sans-serif" textLength="8.33" lengthAdjust="spacingAndGlyphs">1000</text>
<text x="381.3" y="429.32" font-size="2.8" fill="#444" text-anchor="end" font-family="'Liberation Sans', Arial, sans-serif" textLength="9.8" lengthAdjust="spacingAndGlyphs">2000</text>
<text x="381.3" y="427.22" font-size="2.8" fill="#444" text-anchor="end" font-family="'Liberation Sans', Arial, sans-serif" textLength="9.8" lengthAdjust="spacingAndGlyphs">3000</text>
<text x="381.3" y="425.12" font-size="2.8" fill="#444" text-anchor="end" font-family="'Liberation Sans', Arial, sans-serif" textLength="9.8" lengthAdjust="spacingAndGlyphs">4000</text>
<path d="M383,432.72 L383,432.24 L385.3,430.68 L386.9,430.38 L386.9,432.72 Z" fill="#FF8800"/>
<path d="M388,432.72 L388,430.38 L389.9,430.5 L389.9,432.72 Z" fill="#FF8800"/>
<path d="M393,432.72 L393,432.42 L394,431.82 L395.2,431.72 L395.2,432.72 Z" fill="#FF8800"/>
<path d="M397,432.72 L397,432.52 L400,430.72 L400.5,430.92 L400.5,432.72 Z" fill="#FF8800"/>
<path d="M405,432.72 L405,432.62 L406,431.72 L410,432.22 L414,432.62 L414,432.72 Z" fill="#FF8800"/>
<path d="M499.3,432.72 L499.3,430.56 L500.5,430.56 L500.5,432.72 Z" fill="#FF8800"/>
<path d="M504.2,432.72 L504.2,430.2 L505.1,430.2 L505.1,432.72 Z" fill="#FF8800"/>
<path d="M392,427.22 L415,427.22 L440,427.52 L460,427.92 L478,428.42 L492,429.12 L499.3,429.92" fill="none" stroke="#FF8800" stroke-width="1.1" stroke-opacity="0.95" stroke-linejoin="round"/>
<path d="M392,428.42 L415,427.92 L440,427.82 L462,428.22 L480,428.72 L495,429.42 L504.2,430.12" fill="none" stroke="#FF8800" stroke-width="0.7" stroke-opacity="0.8" stroke-linejoin="round"/>
<rect x="384.6" y="426.62" width="6.6" height="2.4" fill="#fff"/>
<text x="387.9" y="428.67" font-size="2.4" fill="#222" text-anchor="middle" font-family="'Liberation Sans', Arial, sans-serif">7873</text>
<rect x="439.3" y="426.92" width="12.4" height="2.4" fill="#fff"/>
<text x="445.5" y="428.97" font-size="2.4" fill="#222" text-anchor="middle" font-family="'Liberation Sans', Arial, sans-serif">5.0 7873</text>
<rect x="499.2" y="426.82" width="6.6" height="2.4" fill="#fff"/>
<text x="502.5" y="428.87" font-size="2.4" fill="#222" text-anchor="middle" font-family="'Liberation Sans', Arial, sans-serif">41.0</text>
<text x="505.1" y="424.82" font-size="2.75" fill="#FF8800" text-anchor="end" font-family="'Liberation Sans', Arial, sans-serif" textLength="61.1" lengthAdjust="spacing">NA CKN4_1_CKN4_2_CKN4_3-2 IncLevel: 0.00</text>
<line x1="382.8" y1="439.3" x2="382.8" y2="447.9" stroke="#555" stroke-width="0.35"/>
<line x1="382" y1="447.9" x2="382.8" y2="447.9" stroke="#777" stroke-width="0.3"/>
<line x1="382" y1="445.75" x2="382.8" y2="445.75" stroke="#777" stroke-width="0.3"/>
<line x1="382" y1="443.6" x2="382.8" y2="443.6" stroke="#777" stroke-width="0.3"/>
<line x1="382" y1="441.45" x2="382.8" y2="441.45" stroke="#777" stroke-width="0.3"/>
<line x1="382" y1="439.3" x2="382.8" y2="439.3" stroke="#777" stroke-width="0.3"/>
<text x="0" y="0" font-size="2.6" font-weight="bold" fill="#333" text-anchor="middle" font-family="'Liberation Sans', Arial, sans-serif" transform="translate(366.9,442) rotate(-90)" textLength="7.6" lengthAdjust="spacingAndGlyphs">RPKM</text>
<text x="381.3" y="446.6" font-size="2.8" fill="#444" text-anchor="end" font-family="'Liberation Sans', Arial, sans-serif" textLength="8.33" lengthAdjust="spacingAndGlyphs">1000</text>
<text x="381.3" y="444.5" font-size="2.8" fill="#444" text-anchor="end" font-family="'Liberation Sans', Arial, sans-serif" textLength="9.8" lengthAdjust="spacingAndGlyphs">2000</text>
<text x="381.3" y="442.4" font-size="2.8" fill="#444" text-anchor="end" font-family="'Liberation Sans', Arial, sans-serif" textLength="9.8" lengthAdjust="spacingAndGlyphs">3000</text>
<text x="381.3" y="440.3" font-size="2.8" fill="#444" text-anchor="end" font-family="'Liberation Sans', Arial, sans-serif" textLength="9.8" lengthAdjust="spacingAndGlyphs">4000</text>
<path d="M383,447.9 L383,447.42 L385.3,445.86 L386.9,445.56 L386.9,447.9 Z" fill="#FF8800"/>
<path d="M388,447.9 L388,445.56 L389.9,445.68 L389.9,447.9 Z" fill="#FF8800"/>
<path d="M393,447.9 L393,447.6 L394,447 L395.2,446.9 L395.2,447.9 Z" fill="#FF8800"/>
<path d="M397,447.9 L397,447.7 L400,445.9 L400.5,446.1 L400.5,447.9 Z" fill="#FF8800"/>
<path d="M405,447.9 L405,447.8 L406,446.9 L410,447.4 L414,447.8 L414,447.9 Z" fill="#FF8800"/>
<path d="M499.3,447.9 L499.3,445.74 L500.5,445.74 L500.5,447.9 Z" fill="#FF8800"/>
<path d="M504.2,447.9 L504.2,445.38 L505.1,445.38 L505.1,447.9 Z" fill="#FF8800"/>
<path d="M392,442.4 L415,442.4 L440,442.7 L460,443.1 L478,443.6 L492,444.3 L499.3,445.1" fill="none" stroke="#FF8800" stroke-width="1.1" stroke-opacity="0.95" stroke-linejoin="round"/>
<path d="M392,443.6 L415,443.1 L440,443 L462,443.4 L480,443.9 L495,444.6 L504.2,445.3" fill="none" stroke="#FF8800" stroke-width="0.7" stroke-opacity="0.8" stroke-linejoin="round"/>
<rect x="384.6" y="441.8" width="6.6" height="2.4" fill="#fff"/>
<text x="387.9" y="443.85" font-size="2.4" fill="#222" text-anchor="middle" font-family="'Liberation Sans', Arial, sans-serif">8037</text>
<rect x="439.3" y="442.1" width="12.4" height="2.4" fill="#fff"/>
<text x="445.5" y="444.15" font-size="2.4" fill="#222" text-anchor="middle" font-family="'Liberation Sans', Arial, sans-serif">4.0 8037</text>
<rect x="499.2" y="442" width="6.6" height="2.4" fill="#fff"/>
<text x="502.5" y="444.05" font-size="2.4" fill="#222" text-anchor="middle" font-family="'Liberation Sans', Arial, sans-serif">40.0</text>
<text x="505.1" y="440" font-size="2.75" fill="#FF8800" text-anchor="end" font-family="'Liberation Sans', Arial, sans-serif" textLength="61.1" lengthAdjust="spacing">NA CKN4_1_CKN4_2_CKN4_3-3 IncLevel: 0.00</text>
<line x1="382.8" y1="453.6" x2="505.1" y2="453.6" stroke="#444" stroke-width="0.4"/>
<line x1="382.8" y1="453.6" x2="382.8" y2="454.9" stroke="#444" stroke-width="0.35"/>
<text x="382.8" y="457.9" font-size="2.6" fill="#333" text-anchor="middle" font-family="'Liberation Sans', Arial, sans-serif" textLength="10.4" lengthAdjust="spacingAndGlyphs">23585185</text>
<line x1="407.26" y1="453.6" x2="407.26" y2="454.9" stroke="#444" stroke-width="0.35"/>
<text x="407.26" y="457.9" font-size="2.6" fill="#333" text-anchor="middle" font-family="'Liberation Sans', Arial, sans-serif" textLength="10.4" lengthAdjust="spacingAndGlyphs">23586369</text>
<line x1="431.72" y1="453.6" x2="431.72" y2="454.9" stroke="#444" stroke-width="0.35"/>
<text x="431.72" y="457.9" font-size="2.6" fill="#333" text-anchor="middle" font-family="'Liberation Sans', Arial, sans-serif" textLength="10.4" lengthAdjust="spacingAndGlyphs">23587553</text>
<line x1="456.18" y1="453.6" x2="456.18" y2="454.9" stroke="#444" stroke-width="0.35"/>
<text x="456.18" y="457.9" font-size="2.6" fill="#333" text-anchor="middle" font-family="'Liberation Sans', Arial, sans-serif" textLength="10.4" lengthAdjust="spacingAndGlyphs">23588737</text>
<line x1="480.64" y1="453.6" x2="480.64" y2="454.9" stroke="#444" stroke-width="0.35"/>
<text x="480.64" y="457.9" font-size="2.6" fill="#333" text-anchor="middle" font-family="'Liberation Sans', Arial, sans-serif" textLength="10.4" lengthAdjust="spacingAndGlyphs">23589921</text>
<line x1="505.1" y1="453.6" x2="505.1" y2="454.9" stroke="#444" stroke-width="0.35"/>
<text x="505.1" y="457.9" font-size="2.6" fill="#333" text-anchor="middle" font-family="'Liberation Sans', Arial, sans-serif" textLength="10.4" lengthAdjust="spacingAndGlyphs">23591268</text>
<text x="415.5" y="461.7" font-size="3" fill="#222" text-anchor="start" font-family="'Liberation Sans', Arial, sans-serif" textLength="56.5" lengthAdjust="spacingAndGlyphs">Genomic coordinate (Chr12), &quot;-&quot; strand</text>
<text x="413" y="474.5" font-size="6.1" fill="#111" text-anchor="start" font-family="'Liberation Serif', 'Times New Roman', serif" textLength="62.3" lengthAdjust="spacingAndGlyphs" stroke="#000" stroke-width="0.1">MXE: LOC_Os12g38430</text>
<line x1="382.8" y1="484.9" x2="505.1" y2="484.9" stroke="#333" stroke-width="0.9" stroke-dasharray="1.2 1.2"/>
<rect x="383" y="483.55" width="2.8" height="2.7" fill="#000"/>
<rect x="499" y="483.55" width="1.6" height="2.7" fill="#000"/>
<rect x="502.8" y="483.55" width="2.4" height="2.7" fill="#000"/>
<line x1="382.8" y1="494.7" x2="505.1" y2="494.7" stroke="#333" stroke-width="0.9" stroke-dasharray="1.2 1.2"/>
<rect x="383" y="493.35" width="2.8" height="2.7" fill="#000"/>
<rect x="388.5" y="493.35" width="1.2" height="2.7" fill="#000"/>
<rect x="502.8" y="493.35" width="2.4" height="2.7" fill="#000"/>
</g></svg></body></html>
